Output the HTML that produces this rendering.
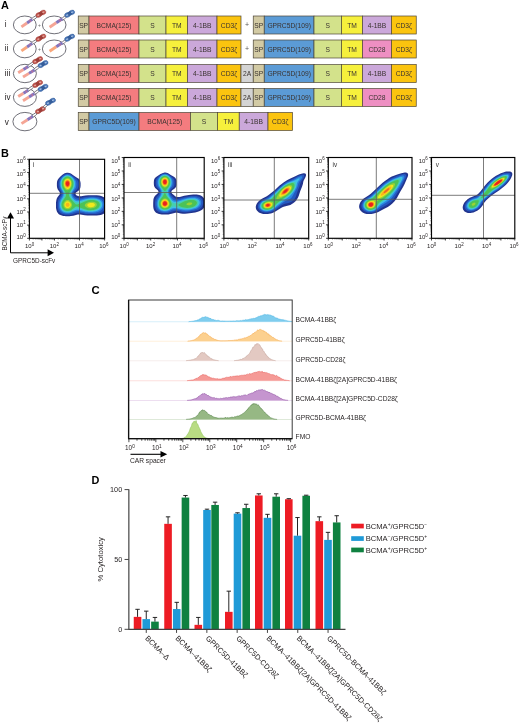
<!DOCTYPE html>
<html lang="en"><head><meta charset="utf-8"><title>Figure</title>
<style>
html,body{margin:0;padding:0;background:#fff;}
body{width:520px;height:725px;overflow:hidden;}
svg{display:block;font-family:'Liberation Sans', Arial, sans-serif;}
</style></head><body>
<svg width="520" height="725" viewBox="0 0 520 725">
<rect width="520" height="725" fill="#fff"/>
<g id="secA">
<text x="1.1" y="8.6" font-size="10.9" font-weight="bold" fill="#000">A</text>
<text x="4.8" y="27.4" font-size="8.2" fill="#231f20">i</text>
<text x="4.8" y="51.4" font-size="8.2" fill="#231f20">ii</text>
<text x="4.8" y="76.2" font-size="8.2" fill="#231f20">iii</text>
<text x="4.8" y="100.2" font-size="8.2" fill="#231f20">iv</text>
<text x="4.8" y="124.6" font-size="8.2" fill="#231f20">v</text>
<rect x="78.25" y="16" width="10.75" height="18" fill="#d2caa4" stroke="#4d4638" stroke-width="0.7"/>
<text x="83.62" y="27.7" font-size="6.7" text-anchor="middle" fill="#3a3330">SP</text>
<rect x="89" y="16" width="50" height="18" fill="#f47c7f" stroke="#4d4638" stroke-width="0.7"/>
<text x="114" y="27.7" font-size="6.7" text-anchor="middle" fill="#3a3330">BCMA(125)</text>
<rect x="139" y="16" width="27" height="18" fill="#d3e28b" stroke="#4d4638" stroke-width="0.7"/>
<text x="152.5" y="27.7" font-size="6.7" text-anchor="middle" fill="#3a3330">S</text>
<rect x="166" y="16" width="21.5" height="18" fill="#f6f03c" stroke="#4d4638" stroke-width="0.7"/>
<text x="176.75" y="27.7" font-size="6.7" text-anchor="middle" fill="#3a3330">TM</text>
<rect x="187.5" y="16" width="29.5" height="18" fill="#cba8da" stroke="#4d4638" stroke-width="0.7"/>
<text x="202.25" y="27.7" font-size="6.7" text-anchor="middle" fill="#3a3330">4-1BB</text>
<rect x="217" y="16" width="24" height="18" fill="#fbc40f" stroke="#4d4638" stroke-width="0.7"/>
<text x="229" y="27.7" font-size="6.7" text-anchor="middle" fill="#3a3330">CD3ζ</text>
<text x="247.12" y="27" font-size="7" text-anchor="middle" fill="#555">+</text>
<rect x="253.25" y="16" width="11" height="18" fill="#d2caa4" stroke="#4d4638" stroke-width="0.7"/>
<text x="258.75" y="27.7" font-size="6.7" text-anchor="middle" fill="#3a3330">SP</text>
<rect x="264.25" y="16" width="49.75" height="18" fill="#5b9bd6" stroke="#4d4638" stroke-width="0.7"/>
<text x="289.12" y="27.7" font-size="6.7" text-anchor="middle" fill="#3a3330">GPRC5D(109)</text>
<rect x="314" y="16" width="27.5" height="18" fill="#d3e28b" stroke="#4d4638" stroke-width="0.7"/>
<text x="327.75" y="27.7" font-size="6.7" text-anchor="middle" fill="#3a3330">S</text>
<rect x="341.5" y="16" width="21" height="18" fill="#f6f03c" stroke="#4d4638" stroke-width="0.7"/>
<text x="352" y="27.7" font-size="6.7" text-anchor="middle" fill="#3a3330">TM</text>
<rect x="362.5" y="16" width="29" height="18" fill="#cba8da" stroke="#4d4638" stroke-width="0.7"/>
<text x="377" y="27.7" font-size="6.7" text-anchor="middle" fill="#3a3330">4-1BB</text>
<rect x="391.5" y="16" width="24.75" height="18" fill="#fbc40f" stroke="#4d4638" stroke-width="0.7"/>
<text x="403.88" y="27.7" font-size="6.7" text-anchor="middle" fill="#3a3330">CD3ζ</text>
<rect x="78.25" y="40" width="10.75" height="18" fill="#d2caa4" stroke="#4d4638" stroke-width="0.7"/>
<text x="83.62" y="51.7" font-size="6.7" text-anchor="middle" fill="#3a3330">SP</text>
<rect x="89" y="40" width="50" height="18" fill="#f47c7f" stroke="#4d4638" stroke-width="0.7"/>
<text x="114" y="51.7" font-size="6.7" text-anchor="middle" fill="#3a3330">BCMA(125)</text>
<rect x="139" y="40" width="27" height="18" fill="#d3e28b" stroke="#4d4638" stroke-width="0.7"/>
<text x="152.5" y="51.7" font-size="6.7" text-anchor="middle" fill="#3a3330">S</text>
<rect x="166" y="40" width="21.5" height="18" fill="#f6f03c" stroke="#4d4638" stroke-width="0.7"/>
<text x="176.75" y="51.7" font-size="6.7" text-anchor="middle" fill="#3a3330">TM</text>
<rect x="187.5" y="40" width="29.5" height="18" fill="#cba8da" stroke="#4d4638" stroke-width="0.7"/>
<text x="202.25" y="51.7" font-size="6.7" text-anchor="middle" fill="#3a3330">4-1BB</text>
<rect x="217" y="40" width="24" height="18" fill="#fbc40f" stroke="#4d4638" stroke-width="0.7"/>
<text x="229" y="51.7" font-size="6.7" text-anchor="middle" fill="#3a3330">CD3ζ</text>
<text x="247.12" y="51" font-size="7" text-anchor="middle" fill="#555">+</text>
<rect x="253.25" y="40" width="11" height="18" fill="#d2caa4" stroke="#4d4638" stroke-width="0.7"/>
<text x="258.75" y="51.7" font-size="6.7" text-anchor="middle" fill="#3a3330">SP</text>
<rect x="264.25" y="40" width="49.75" height="18" fill="#5b9bd6" stroke="#4d4638" stroke-width="0.7"/>
<text x="289.12" y="51.7" font-size="6.7" text-anchor="middle" fill="#3a3330">GPRC5D(109)</text>
<rect x="314" y="40" width="27.5" height="18" fill="#d3e28b" stroke="#4d4638" stroke-width="0.7"/>
<text x="327.75" y="51.7" font-size="6.7" text-anchor="middle" fill="#3a3330">S</text>
<rect x="341.5" y="40" width="21" height="18" fill="#f6f03c" stroke="#4d4638" stroke-width="0.7"/>
<text x="352" y="51.7" font-size="6.7" text-anchor="middle" fill="#3a3330">TM</text>
<rect x="362.5" y="40" width="29" height="18" fill="#ee8fc2" stroke="#4d4638" stroke-width="0.7"/>
<text x="377" y="51.7" font-size="6.7" text-anchor="middle" fill="#3a3330">CD28</text>
<rect x="391.5" y="40" width="24.75" height="18" fill="#fbc40f" stroke="#4d4638" stroke-width="0.7"/>
<text x="403.88" y="51.7" font-size="6.7" text-anchor="middle" fill="#3a3330">CD3ζ</text>
<rect x="78.25" y="64.5" width="10.75" height="18" fill="#d2caa4" stroke="#4d4638" stroke-width="0.7"/>
<text x="83.62" y="76.2" font-size="6.7" text-anchor="middle" fill="#3a3330">SP</text>
<rect x="89" y="64.5" width="50" height="18" fill="#f47c7f" stroke="#4d4638" stroke-width="0.7"/>
<text x="114" y="76.2" font-size="6.7" text-anchor="middle" fill="#3a3330">BCMA(125)</text>
<rect x="139" y="64.5" width="27" height="18" fill="#d3e28b" stroke="#4d4638" stroke-width="0.7"/>
<text x="152.5" y="76.2" font-size="6.7" text-anchor="middle" fill="#3a3330">S</text>
<rect x="166" y="64.5" width="21.5" height="18" fill="#f6f03c" stroke="#4d4638" stroke-width="0.7"/>
<text x="176.75" y="76.2" font-size="6.7" text-anchor="middle" fill="#3a3330">TM</text>
<rect x="187.5" y="64.5" width="29.5" height="18" fill="#cba8da" stroke="#4d4638" stroke-width="0.7"/>
<text x="202.25" y="76.2" font-size="6.7" text-anchor="middle" fill="#3a3330">4-1BB</text>
<rect x="217" y="64.5" width="24" height="18" fill="#fbc40f" stroke="#4d4638" stroke-width="0.7"/>
<text x="229" y="76.2" font-size="6.7" text-anchor="middle" fill="#3a3330">CD3ζ</text>
<rect x="241" y="64.5" width="12.25" height="18" fill="#d4d4d4" stroke="#4d4638" stroke-width="0.7"/>
<text x="247.12" y="76.2" font-size="6.7" text-anchor="middle" fill="#3a3330">2A</text>
<rect x="253.25" y="64.5" width="11" height="18" fill="#d2caa4" stroke="#4d4638" stroke-width="0.7"/>
<text x="258.75" y="76.2" font-size="6.7" text-anchor="middle" fill="#3a3330">SP</text>
<rect x="264.25" y="64.5" width="49.75" height="18" fill="#5b9bd6" stroke="#4d4638" stroke-width="0.7"/>
<text x="289.12" y="76.2" font-size="6.7" text-anchor="middle" fill="#3a3330">GPRC5D(109)</text>
<rect x="314" y="64.5" width="27.5" height="18" fill="#d3e28b" stroke="#4d4638" stroke-width="0.7"/>
<text x="327.75" y="76.2" font-size="6.7" text-anchor="middle" fill="#3a3330">S</text>
<rect x="341.5" y="64.5" width="21" height="18" fill="#f6f03c" stroke="#4d4638" stroke-width="0.7"/>
<text x="352" y="76.2" font-size="6.7" text-anchor="middle" fill="#3a3330">TM</text>
<rect x="362.5" y="64.5" width="29" height="18" fill="#cba8da" stroke="#4d4638" stroke-width="0.7"/>
<text x="377" y="76.2" font-size="6.7" text-anchor="middle" fill="#3a3330">4-1BB</text>
<rect x="391.5" y="64.5" width="24.75" height="18" fill="#fbc40f" stroke="#4d4638" stroke-width="0.7"/>
<text x="403.88" y="76.2" font-size="6.7" text-anchor="middle" fill="#3a3330">CD3ζ</text>
<rect x="78.25" y="88.5" width="10.75" height="18" fill="#d2caa4" stroke="#4d4638" stroke-width="0.7"/>
<text x="83.62" y="100.2" font-size="6.7" text-anchor="middle" fill="#3a3330">SP</text>
<rect x="89" y="88.5" width="50" height="18" fill="#f47c7f" stroke="#4d4638" stroke-width="0.7"/>
<text x="114" y="100.2" font-size="6.7" text-anchor="middle" fill="#3a3330">BCMA(125)</text>
<rect x="139" y="88.5" width="27" height="18" fill="#d3e28b" stroke="#4d4638" stroke-width="0.7"/>
<text x="152.5" y="100.2" font-size="6.7" text-anchor="middle" fill="#3a3330">S</text>
<rect x="166" y="88.5" width="21.5" height="18" fill="#f6f03c" stroke="#4d4638" stroke-width="0.7"/>
<text x="176.75" y="100.2" font-size="6.7" text-anchor="middle" fill="#3a3330">TM</text>
<rect x="187.5" y="88.5" width="29.5" height="18" fill="#cba8da" stroke="#4d4638" stroke-width="0.7"/>
<text x="202.25" y="100.2" font-size="6.7" text-anchor="middle" fill="#3a3330">4-1BB</text>
<rect x="217" y="88.5" width="24" height="18" fill="#fbc40f" stroke="#4d4638" stroke-width="0.7"/>
<text x="229" y="100.2" font-size="6.7" text-anchor="middle" fill="#3a3330">CD3ζ</text>
<rect x="241" y="88.5" width="12.25" height="18" fill="#d4d4d4" stroke="#4d4638" stroke-width="0.7"/>
<text x="247.12" y="100.2" font-size="6.7" text-anchor="middle" fill="#3a3330">2A</text>
<rect x="253.25" y="88.5" width="11" height="18" fill="#d2caa4" stroke="#4d4638" stroke-width="0.7"/>
<text x="258.75" y="100.2" font-size="6.7" text-anchor="middle" fill="#3a3330">SP</text>
<rect x="264.25" y="88.5" width="49.75" height="18" fill="#5b9bd6" stroke="#4d4638" stroke-width="0.7"/>
<text x="289.12" y="100.2" font-size="6.7" text-anchor="middle" fill="#3a3330">GPRC5D(109)</text>
<rect x="314" y="88.5" width="27.5" height="18" fill="#d3e28b" stroke="#4d4638" stroke-width="0.7"/>
<text x="327.75" y="100.2" font-size="6.7" text-anchor="middle" fill="#3a3330">S</text>
<rect x="341.5" y="88.5" width="21" height="18" fill="#f6f03c" stroke="#4d4638" stroke-width="0.7"/>
<text x="352" y="100.2" font-size="6.7" text-anchor="middle" fill="#3a3330">TM</text>
<rect x="362.5" y="88.5" width="29" height="18" fill="#ee8fc2" stroke="#4d4638" stroke-width="0.7"/>
<text x="377" y="100.2" font-size="6.7" text-anchor="middle" fill="#3a3330">CD28</text>
<rect x="391.5" y="88.5" width="24.75" height="18" fill="#fbc40f" stroke="#4d4638" stroke-width="0.7"/>
<text x="403.88" y="100.2" font-size="6.7" text-anchor="middle" fill="#3a3330">CD3ζ</text>
<rect x="78.25" y="112.5" width="10.75" height="18" fill="#d2caa4" stroke="#4d4638" stroke-width="0.7"/>
<text x="83.62" y="124.2" font-size="6.7" text-anchor="middle" fill="#3a3330">SP</text>
<rect x="89" y="112.5" width="50" height="18" fill="#5b9bd6" stroke="#4d4638" stroke-width="0.7"/>
<text x="114" y="124.2" font-size="6.7" text-anchor="middle" fill="#3a3330">GPRC5D(109)</text>
<rect x="139" y="112.5" width="51.5" height="18" fill="#f47c7f" stroke="#4d4638" stroke-width="0.7"/>
<text x="164.75" y="124.2" font-size="6.7" text-anchor="middle" fill="#3a3330">BCMA(125)</text>
<rect x="190.5" y="112.5" width="27" height="18" fill="#d3e28b" stroke="#4d4638" stroke-width="0.7"/>
<text x="204" y="124.2" font-size="6.7" text-anchor="middle" fill="#3a3330">S</text>
<rect x="217.5" y="112.5" width="21.75" height="18" fill="#f6f03c" stroke="#4d4638" stroke-width="0.7"/>
<text x="228.38" y="124.2" font-size="6.7" text-anchor="middle" fill="#3a3330">TM</text>
<rect x="239.25" y="112.5" width="28.75" height="18" fill="#cba8da" stroke="#4d4638" stroke-width="0.7"/>
<text x="253.62" y="124.2" font-size="6.7" text-anchor="middle" fill="#3a3330">4-1BB</text>
<rect x="268" y="112.5" width="24.5" height="18" fill="#fbc40f" stroke="#4d4638" stroke-width="0.7"/>
<text x="280.25" y="124.2" font-size="6.7" text-anchor="middle" fill="#3a3330">CD3ζ</text>
<ellipse cx="24.8" cy="24.9" rx="11.4" ry="8.9" fill="none" stroke="#4b4b55" stroke-width="0.8"/>
<ellipse cx="54.2" cy="24.9" rx="11.8" ry="8.9" fill="none" stroke="#4b4b55" stroke-width="0.8"/>
<ellipse cx="34.25" cy="18" rx="3.94" ry="1.15" transform="rotate(-34.64 34.25 18)" fill="#fff" stroke="#55505c" stroke-width="0.7"/>
<line x1="21.4" y1="26.9" x2="27.02" y2="23" stroke="#f5a595" stroke-width="2.9"/>
<line x1="27.02" y1="23" x2="32.2" y2="19.4" stroke="#9274ba" stroke-width="2.9"/>
<line x1="28.1" y1="22.25" x2="28.64" y2="21.88" stroke="#5b7fc4" stroke-width="2.9" opacity="0.7"/>
<line x1="29.82" y1="21.05" x2="30.36" y2="20.67" stroke="#d9707a" stroke-width="2.9" opacity="0.7"/>
<line x1="31.12" y1="20.15" x2="31.66" y2="19.77" stroke="#5b7fc4" stroke-width="2.9" opacity="0.7"/>
<g transform="translate(40.8,13.7) rotate(-20)" stroke="#9e3d38" stroke-width="0.45"><ellipse cx="-2.4" cy="0.45" rx="2.9" ry="2.3" fill="#c2564e"/><ellipse cx="2.4" cy="-0.4" rx="3.0" ry="2.25" fill="#c2564e"/><ellipse cx="0" cy="0" rx="2.4" ry="2.0" fill="#9e3d38" stroke="none"/><ellipse cx="-2.7" cy="0.5" rx="1.25" ry="0.7" fill="#e6a8a1" stroke="none"/><ellipse cx="3.0" cy="-0.5" rx="1.25" ry="0.7" fill="#e6a8a1" stroke="none"/></g>
<ellipse cx="63.75" cy="18.1" rx="3.48" ry="1.15" transform="rotate(-38.66 63.75 18.1)" fill="#fff" stroke="#55505c" stroke-width="0.7"/>
<line x1="49.6" y1="27.2" x2="56.26" y2="22.78" stroke="#f5a595" stroke-width="2.9"/>
<line x1="56.26" y1="22.78" x2="62.4" y2="18.7" stroke="#9274ba" stroke-width="2.9"/>
<line x1="57.54" y1="21.93" x2="58.18" y2="21.5" stroke="#5b7fc4" stroke-width="2.9" opacity="0.7"/>
<line x1="59.58" y1="20.57" x2="60.22" y2="20.14" stroke="#d9707a" stroke-width="2.9" opacity="0.7"/>
<line x1="61.12" y1="19.55" x2="61.76" y2="19.12" stroke="#5b7fc4" stroke-width="2.9" opacity="0.7"/>
<g transform="translate(69.6,13.7) rotate(-20)" stroke="#355d9a" stroke-width="0.45"><ellipse cx="-2.4" cy="0.45" rx="2.9" ry="2.3" fill="#4976b8"/><ellipse cx="2.4" cy="-0.4" rx="3.0" ry="2.25" fill="#4976b8"/><ellipse cx="0" cy="0" rx="2.4" ry="2.0" fill="#355d9a" stroke="none"/><ellipse cx="-2.7" cy="0.5" rx="1.25" ry="0.7" fill="#a6bfe3" stroke="none"/><ellipse cx="3.0" cy="-0.5" rx="1.25" ry="0.7" fill="#a6bfe3" stroke="none"/></g>
<text x="39.4" y="27.1" font-size="5" text-anchor="middle" fill="#666">+</text>
<ellipse cx="24.8" cy="48.9" rx="11.4" ry="8.9" fill="none" stroke="#4b4b55" stroke-width="0.8"/>
<ellipse cx="54.2" cy="48.9" rx="11.8" ry="8.9" fill="none" stroke="#4b4b55" stroke-width="0.8"/>
<ellipse cx="34.25" cy="42" rx="3.94" ry="1.15" transform="rotate(-34.64 34.25 42)" fill="#fff" stroke="#55505c" stroke-width="0.7"/>
<line x1="21.4" y1="50.9" x2="27.02" y2="47" stroke="#f8a77c" stroke-width="2.9"/>
<line x1="27.02" y1="47" x2="32.2" y2="43.4" stroke="#9274ba" stroke-width="2.9"/>
<line x1="28.1" y1="46.25" x2="28.64" y2="45.88" stroke="#5b7fc4" stroke-width="2.9" opacity="0.7"/>
<line x1="29.82" y1="45.05" x2="30.36" y2="44.67" stroke="#d9707a" stroke-width="2.9" opacity="0.7"/>
<line x1="31.12" y1="44.15" x2="31.66" y2="43.77" stroke="#5b7fc4" stroke-width="2.9" opacity="0.7"/>
<g transform="translate(40.8,37.7) rotate(-20)" stroke="#9e3d38" stroke-width="0.45"><ellipse cx="-2.4" cy="0.45" rx="2.9" ry="2.3" fill="#c2564e"/><ellipse cx="2.4" cy="-0.4" rx="3.0" ry="2.25" fill="#c2564e"/><ellipse cx="0" cy="0" rx="2.4" ry="2.0" fill="#9e3d38" stroke="none"/><ellipse cx="-2.7" cy="0.5" rx="1.25" ry="0.7" fill="#e6a8a1" stroke="none"/><ellipse cx="3.0" cy="-0.5" rx="1.25" ry="0.7" fill="#e6a8a1" stroke="none"/></g>
<ellipse cx="63.75" cy="42.1" rx="3.48" ry="1.15" transform="rotate(-38.66 63.75 42.1)" fill="#fff" stroke="#55505c" stroke-width="0.7"/>
<line x1="49.6" y1="51.2" x2="56.26" y2="46.78" stroke="#f8a77c" stroke-width="2.9"/>
<line x1="56.26" y1="46.78" x2="62.4" y2="42.7" stroke="#9274ba" stroke-width="2.9"/>
<line x1="57.54" y1="45.93" x2="58.18" y2="45.5" stroke="#5b7fc4" stroke-width="2.9" opacity="0.7"/>
<line x1="59.58" y1="44.57" x2="60.22" y2="44.14" stroke="#d9707a" stroke-width="2.9" opacity="0.7"/>
<line x1="61.12" y1="43.55" x2="61.76" y2="43.12" stroke="#5b7fc4" stroke-width="2.9" opacity="0.7"/>
<g transform="translate(69.6,37.7) rotate(-20)" stroke="#355d9a" stroke-width="0.45"><ellipse cx="-2.4" cy="0.45" rx="2.9" ry="2.3" fill="#4976b8"/><ellipse cx="2.4" cy="-0.4" rx="3.0" ry="2.25" fill="#4976b8"/><ellipse cx="0" cy="0" rx="2.4" ry="2.0" fill="#355d9a" stroke="none"/><ellipse cx="-2.7" cy="0.5" rx="1.25" ry="0.7" fill="#a6bfe3" stroke="none"/><ellipse cx="3.0" cy="-0.5" rx="1.25" ry="0.7" fill="#a6bfe3" stroke="none"/></g>
<text x="39.4" y="51.1" font-size="5" text-anchor="middle" fill="#666">+</text>
<ellipse cx="24.9" cy="73.5" rx="11.5" ry="9.2" fill="none" stroke="#4b4b55" stroke-width="0.8"/>
<ellipse cx="30.65" cy="64.65" rx="4.17" ry="1.15" transform="rotate(-37.03 30.65 64.65)" fill="#fff" stroke="#55505c" stroke-width="0.7"/>
<ellipse cx="36.6" cy="68.25" rx="3.85" ry="1.15" transform="rotate(-36.87 36.6 68.25)" fill="#fff" stroke="#55505c" stroke-width="0.7"/>
<line x1="18.2" y1="72.75" x2="23.45" y2="69.5" stroke="#f5a595" stroke-width="2.9"/>
<line x1="23.45" y1="69.5" x2="28.3" y2="66.5" stroke="#9274ba" stroke-width="2.9"/>
<line x1="24.46" y1="68.88" x2="24.97" y2="68.56" stroke="#5b7fc4" stroke-width="2.9" opacity="0.7"/>
<line x1="26.08" y1="67.88" x2="26.58" y2="67.56" stroke="#d9707a" stroke-width="2.9" opacity="0.7"/>
<line x1="27.29" y1="67.12" x2="27.8" y2="66.81" stroke="#5b7fc4" stroke-width="2.9" opacity="0.7"/>
<line x1="23" y1="77.1" x2="28.98" y2="73.36" stroke="#f5a595" stroke-width="2.9"/>
<line x1="28.98" y1="73.36" x2="34.5" y2="69.9" stroke="#9274ba" stroke-width="2.9"/>
<line x1="30.13" y1="72.64" x2="30.7" y2="72.28" stroke="#5b7fc4" stroke-width="2.9" opacity="0.7"/>
<line x1="31.97" y1="71.48" x2="32.55" y2="71.12" stroke="#d9707a" stroke-width="2.9" opacity="0.7"/>
<line x1="33.35" y1="70.62" x2="33.92" y2="70.26" stroke="#5b7fc4" stroke-width="2.9" opacity="0.7"/>
<g transform="translate(37.6,60.2) rotate(-20)" stroke="#9e3d38" stroke-width="0.45"><ellipse cx="-2.4" cy="0.45" rx="2.9" ry="2.3" fill="#c2564e"/><ellipse cx="2.4" cy="-0.4" rx="3.0" ry="2.25" fill="#c2564e"/><ellipse cx="0" cy="0" rx="2.4" ry="2.0" fill="#9e3d38" stroke="none"/><ellipse cx="-2.7" cy="0.5" rx="1.25" ry="0.7" fill="#e6a8a1" stroke="none"/><ellipse cx="3.0" cy="-0.5" rx="1.25" ry="0.7" fill="#e6a8a1" stroke="none"/></g>
<g transform="translate(43,64.1) rotate(-20)" stroke="#355d9a" stroke-width="0.45"><ellipse cx="-2.4" cy="0.45" rx="2.9" ry="2.3" fill="#4976b8"/><ellipse cx="2.4" cy="-0.4" rx="3.0" ry="2.25" fill="#4976b8"/><ellipse cx="0" cy="0" rx="2.4" ry="2.0" fill="#355d9a" stroke="none"/><ellipse cx="-2.7" cy="0.5" rx="1.25" ry="0.7" fill="#a6bfe3" stroke="none"/><ellipse cx="3.0" cy="-0.5" rx="1.25" ry="0.7" fill="#a6bfe3" stroke="none"/></g>
<ellipse cx="24.9" cy="97.2" rx="11.5" ry="9.2" fill="none" stroke="#4b4b55" stroke-width="0.8"/>
<ellipse cx="30.65" cy="88.35" rx="4.17" ry="1.15" transform="rotate(-37.03 30.65 88.35)" fill="#fff" stroke="#55505c" stroke-width="0.7"/>
<ellipse cx="36.6" cy="91.95" rx="3.85" ry="1.15" transform="rotate(-36.87 36.6 91.95)" fill="#fff" stroke="#55505c" stroke-width="0.7"/>
<line x1="18.2" y1="96.45" x2="23.45" y2="93.2" stroke="#f5a595" stroke-width="2.9"/>
<line x1="23.45" y1="93.2" x2="28.3" y2="90.2" stroke="#9274ba" stroke-width="2.9"/>
<line x1="24.46" y1="92.58" x2="24.97" y2="92.26" stroke="#5b7fc4" stroke-width="2.9" opacity="0.7"/>
<line x1="26.08" y1="91.58" x2="26.58" y2="91.26" stroke="#d9707a" stroke-width="2.9" opacity="0.7"/>
<line x1="27.29" y1="90.83" x2="27.8" y2="90.51" stroke="#5b7fc4" stroke-width="2.9" opacity="0.7"/>
<line x1="23" y1="100.8" x2="28.98" y2="97.06" stroke="#f5a595" stroke-width="2.9"/>
<line x1="28.98" y1="97.06" x2="34.5" y2="93.6" stroke="#9274ba" stroke-width="2.9"/>
<line x1="30.13" y1="96.34" x2="30.7" y2="95.98" stroke="#5b7fc4" stroke-width="2.9" opacity="0.7"/>
<line x1="31.97" y1="95.18" x2="32.55" y2="94.82" stroke="#d9707a" stroke-width="2.9" opacity="0.7"/>
<line x1="33.35" y1="94.32" x2="33.92" y2="93.96" stroke="#5b7fc4" stroke-width="2.9" opacity="0.7"/>
<g transform="translate(37.6,83.9) rotate(-20)" stroke="#9e3d38" stroke-width="0.45"><ellipse cx="-2.4" cy="0.45" rx="2.9" ry="2.3" fill="#c2564e"/><ellipse cx="2.4" cy="-0.4" rx="3.0" ry="2.25" fill="#c2564e"/><ellipse cx="0" cy="0" rx="2.4" ry="2.0" fill="#9e3d38" stroke="none"/><ellipse cx="-2.7" cy="0.5" rx="1.25" ry="0.7" fill="#e6a8a1" stroke="none"/><ellipse cx="3.0" cy="-0.5" rx="1.25" ry="0.7" fill="#e6a8a1" stroke="none"/></g>
<g transform="translate(43,87.8) rotate(-20)" stroke="#355d9a" stroke-width="0.45"><ellipse cx="-2.4" cy="0.45" rx="2.9" ry="2.3" fill="#4976b8"/><ellipse cx="2.4" cy="-0.4" rx="3.0" ry="2.25" fill="#4976b8"/><ellipse cx="0" cy="0" rx="2.4" ry="2.0" fill="#355d9a" stroke="none"/><ellipse cx="-2.7" cy="0.5" rx="1.25" ry="0.7" fill="#a6bfe3" stroke="none"/><ellipse cx="3.0" cy="-0.5" rx="1.25" ry="0.7" fill="#a6bfe3" stroke="none"/></g>
<ellipse cx="24.9" cy="121.6" rx="12" ry="9.2" fill="none" stroke="#4b4b55" stroke-width="0.8"/>
<ellipse cx="34.5" cy="114.85" rx="3.13" ry="1.15" transform="rotate(-37.78 34.5 114.85)" fill="#fff" stroke="#55505c" stroke-width="0.7"/>
<line x1="21.5" y1="123.6" x2="27.48" y2="119.75" stroke="#f5a595" stroke-width="2.9"/>
<line x1="27.48" y1="119.75" x2="33" y2="116.2" stroke="#9274ba" stroke-width="2.9"/>
<line x1="28.63" y1="119.01" x2="29.2" y2="118.64" stroke="#5b7fc4" stroke-width="2.9" opacity="0.7"/>
<line x1="30.47" y1="117.83" x2="31.05" y2="117.46" stroke="#d9707a" stroke-width="2.9" opacity="0.7"/>
<line x1="31.85" y1="116.94" x2="32.42" y2="116.57" stroke="#5b7fc4" stroke-width="2.9" opacity="0.7"/>
<g transform="translate(40.4,110.1) rotate(-20)" stroke="#9e3d38" stroke-width="0.45"><ellipse cx="-2.4" cy="0.45" rx="2.9" ry="2.3" fill="#c2564e"/><ellipse cx="2.4" cy="-0.4" rx="3.0" ry="2.25" fill="#c2564e"/><ellipse cx="0" cy="0" rx="2.4" ry="2.0" fill="#9e3d38" stroke="none"/><ellipse cx="-2.7" cy="0.5" rx="1.25" ry="0.7" fill="#e6a8a1" stroke="none"/><ellipse cx="3.0" cy="-0.5" rx="1.25" ry="0.7" fill="#e6a8a1" stroke="none"/></g>
<ellipse cx="45.5" cy="105.9" rx="2.3" ry="1.15" transform="rotate(-40.24 45.5 105.9)" fill="#fff" stroke="#55505c" stroke-width="0.7"/>
<g transform="translate(50.5,101.7) rotate(-20)" stroke="#355d9a" stroke-width="0.45"><ellipse cx="-2.4" cy="0.45" rx="2.9" ry="2.3" fill="#4976b8"/><ellipse cx="2.4" cy="-0.4" rx="3.0" ry="2.25" fill="#4976b8"/><ellipse cx="0" cy="0" rx="2.4" ry="2.0" fill="#355d9a" stroke="none"/><ellipse cx="-2.7" cy="0.5" rx="1.25" ry="0.7" fill="#a6bfe3" stroke="none"/><ellipse cx="3.0" cy="-0.5" rx="1.25" ry="0.7" fill="#a6bfe3" stroke="none"/></g>
</g>
<g id="secB">
<text x="1.1" y="157" font-size="10.9" font-weight="bold" fill="#000">B</text>
<clipPath id="cp0"><rect x="29.4" y="159.3" width="75.2" height="79"/></clipPath>
<g clip-path="url(#cp0)">
<path d="M70.9,216.1 L69.4,216.2 L67.9,216.2 L65.9,216.2 L64.4,216.1 L63.1,215.9 L61.9,215.6 L60.9,215.3 L59.9,214.8 L59.1,214.4 L58.4,213.7 L57.8,213.1 L57.3,212.3 L56.8,211.3 L56.5,210.3 L56.2,209.1 L56.0,207.8 L56.0,205.6 L56.0,202.8 L56.2,201.1 L56.5,199.6 L56.8,198.6 L57.3,197.6 L58.0,196.6 L59.4,194.8 L59.8,194.1 L59.9,193.6 L59.9,193.1 L59.7,192.3 L59.4,191.8 L57.8,189.6 L57.4,188.6 L57.1,187.6 L56.9,186.1 L56.9,183.6 L57.0,182.1 L57.3,180.8 L57.9,179.6 L58.8,178.3 L60.2,176.8 L62.4,174.8 L63.6,173.9 L64.7,173.3 L65.7,172.9 L66.9,172.7 L67.9,172.7 L69.2,172.9 L70.2,173.2 L71.2,173.8 L72.2,174.4 L74.7,176.3 L77.4,177.9 L78.4,178.5 L79.0,179.1 L79.4,179.5 L80.0,180.6 L80.3,181.6 L80.6,183.1 L80.6,185.8 L80.5,186.8 L80.4,187.6 L80.0,188.8 L79.5,189.6 L79.1,190.1 L78.2,191.0 L76.3,192.3 L75.9,192.7 L75.6,193.1 L75.5,193.6 L75.5,193.8 L75.6,194.3 L75.9,194.8 L76.7,195.4 L77.3,195.8 L78.2,196.1 L78.9,196.2 L79.9,196.3 L81.2,196.2 L85.4,195.5 L88.2,195.3 L92.9,195.2 L96.7,195.3 L99.2,195.6 L101.2,196.1 L102.9,196.7 L104.4,197.5 L104.5,199.8 L104.6,203.3 L104.5,208.8 L104.5,212.3 L104.4,213.3 L103.7,213.8 L102.2,214.5 L100.7,214.9 L98.9,215.2 L96.7,215.5 L92.2,215.6 L89.4,215.6 L87.4,215.6 L84.7,215.3 L80.2,214.6 L78.7,214.5 L77.8,214.6 L76.9,214.7 L73.2,215.7 L70.9,216.1Z " fill="#22358f"/>
<path d="M67.9,214.8 L66.7,214.8 L65.4,214.7 L64.2,214.5 L63.1,214.3 L62.1,213.9 L61.4,213.6 L60.6,213.1 L59.9,212.6 L59.4,212.0 L58.9,211.3 L58.5,210.6 L58.2,209.8 L57.9,208.8 L57.7,207.8 L57.6,206.6 L57.6,205.3 L57.6,203.8 L57.7,202.3 L57.9,201.1 L58.2,200.1 L58.5,199.3 L59.1,198.3 L60.6,196.1 L61.1,195.3 L61.4,194.6 L61.5,193.8 L61.4,192.8 L61.2,192.1 L59.4,189.1 L59.1,188.3 L58.8,187.3 L58.6,185.8 L58.5,183.8 L58.6,182.3 L58.8,181.1 L59.1,180.3 L59.5,179.6 L60.3,178.3 L61.6,176.8 L62.9,175.6 L64.2,174.7 L65.2,174.2 L66.2,173.9 L67.4,173.7 L68.7,173.8 L69.7,174.1 L70.7,174.6 L71.7,175.2 L76.1,178.8 L76.9,179.6 L77.7,180.6 L78.2,181.6 L78.4,182.3 L78.5,183.1 L78.5,185.1 L78.4,186.6 L78.1,187.8 L77.8,188.6 L77.2,189.3 L76.4,190.1 L74.9,191.3 L74.4,191.8 L73.9,192.6 L73.6,193.3 L73.6,193.8 L73.6,194.3 L73.9,195.2 L74.4,196.0 L75.2,196.8 L75.9,197.3 L76.9,197.8 L77.9,198.1 L78.9,198.2 L79.7,198.2 L80.7,198.0 L84.4,197.2 L85.9,196.9 L87.7,196.7 L89.4,196.6 L91.9,196.5 L94.4,196.5 L96.4,196.7 L98.4,197.0 L99.9,197.4 L101.4,198.0 L102.7,198.7 L103.7,199.6 L104.4,200.4 L104.5,203.1 L104.4,209.7 L103.7,210.8 L103.2,211.3 L102.6,211.8 L101.4,212.6 L99.9,213.2 L97.9,213.7 L95.7,214.0 L92.7,214.1 L89.2,214.1 L87.4,214.1 L85.7,213.9 L83.9,213.6 L80.0,212.8 L78.9,212.7 L77.9,212.7 L76.9,212.8 L76.2,213.0 L73.2,213.9 L71.4,214.4 L69.7,214.7 L67.9,214.8Z " fill="#2558c0"/>
<path d="M69.9,213.3 L68.9,213.5 L67.9,213.5 L66.7,213.5 L65.7,213.4 L64.7,213.2 L63.6,212.9 L62.9,212.6 L62.1,212.1 L61.4,211.6 L60.9,211.1 L60.5,210.6 L60.0,209.8 L59.6,208.8 L59.3,208.1 L59.1,207.1 L59.0,206.1 L59.0,204.8 L59.0,203.6 L59.2,202.3 L59.5,201.3 L59.8,200.6 L60.2,199.6 L61.6,197.3 L62.2,196.3 L62.6,195.1 L62.8,194.1 L62.7,193.1 L62.4,192.1 L61.9,191.1 L60.7,188.8 L60.3,187.8 L60.0,186.8 L59.8,185.3 L59.7,183.8 L59.8,182.6 L60.0,181.3 L60.5,180.1 L61.0,179.1 L61.9,177.8 L62.9,176.7 L63.9,175.9 L65.2,175.2 L66.2,174.8 L67.2,174.6 L68.2,174.7 L69.4,175.0 L70.4,175.4 L71.7,176.3 L73.1,177.6 L74.7,179.3 L75.6,180.6 L75.8,181.1 L76.1,181.8 L76.3,182.8 L76.4,184.1 L76.3,185.8 L76.1,187.1 L75.8,187.8 L75.4,188.6 L73.4,191.0 L72.9,191.8 L72.4,192.8 L72.3,193.8 L72.3,194.3 L72.4,195.1 L72.6,195.8 L72.8,196.3 L73.2,196.8 L73.7,197.5 L74.7,198.6 L75.4,199.1 L76.4,199.6 L77.4,199.8 L78.7,199.9 L79.7,199.8 L80.9,199.6 L84.4,198.6 L86.4,198.2 L89.2,197.8 L91.2,197.6 L93.2,197.6 L94.9,197.8 L96.7,198.0 L98.2,198.4 L99.7,198.9 L100.7,199.4 L101.7,200.1 L102.4,200.9 L103.0,201.8 L103.4,202.8 L103.7,204.1 L103.6,205.3 L103.3,206.8 L102.8,208.1 L102.2,209.1 L101.3,210.1 L100.3,210.8 L99.2,211.4 L97.7,212.0 L95.7,212.4 L93.7,212.7 L91.2,212.8 L88.9,212.8 L87.2,212.6 L85.4,212.4 L80.9,211.4 L79.7,211.2 L78.4,211.0 L77.4,211.0 L76.4,211.2 L75.4,211.4 L71.9,212.8 L70.9,213.1 L69.9,213.3Z " fill="#2c86e0"/>
<path d="M68.4,212.6 L67.7,212.6 L66.7,212.6 L65.2,212.3 L64.4,212.0 L63.6,211.7 L63.0,211.3 L62.4,210.9 L61.9,210.4 L61.4,209.8 L61.1,209.3 L60.7,208.6 L60.4,207.8 L60.2,207.1 L60.1,206.3 L60.0,205.3 L60.1,203.6 L60.3,202.6 L60.5,201.8 L60.8,201.1 L61.2,200.1 L62.6,197.8 L63.2,196.8 L63.6,195.6 L63.8,194.3 L63.7,193.3 L63.4,192.3 L63.0,191.3 L61.5,188.6 L61.2,187.8 L60.9,186.8 L60.7,185.6 L60.6,184.1 L60.6,182.8 L60.8,181.6 L61.2,180.3 L61.7,179.3 L62.5,178.1 L63.4,177.1 L64.4,176.3 L65.4,175.8 L66.4,175.5 L67.4,175.3 L68.4,175.4 L69.4,175.7 L70.4,176.2 L71.6,177.1 L72.6,178.1 L73.6,179.3 L74.3,180.6 L74.7,181.6 L74.9,182.6 L75.0,183.8 L74.9,185.3 L74.7,186.8 L74.3,187.8 L74.0,188.6 L72.3,191.1 L71.8,192.1 L71.4,193.1 L71.2,194.1 L71.3,194.8 L71.4,195.6 L71.6,196.3 L72.0,197.1 L72.4,197.8 L73.0,198.6 L73.7,199.3 L74.4,200.0 L75.2,200.6 L76.2,201.0 L77.2,201.2 L78.4,201.2 L79.6,201.1 L80.8,200.8 L85.7,199.3 L87.2,199.0 L88.7,198.7 L90.4,198.5 L92.2,198.5 L93.9,198.6 L95.4,198.7 L96.9,199.1 L98.2,199.5 L99.4,200.1 L100.4,200.8 L101.2,201.6 L101.8,202.6 L102.1,203.6 L102.2,204.6 L102.1,205.8 L101.8,206.8 L101.2,207.8 L100.4,208.8 L99.6,209.6 L98.4,210.3 L97.2,210.8 L95.7,211.2 L93.9,211.6 L92.2,211.7 L90.2,211.8 L88.4,211.7 L87.2,211.6 L85.7,211.4 L81.2,210.3 L79.7,209.9 L78.2,209.8 L76.9,209.7 L75.9,209.9 L74.9,210.2 L71.9,211.6 L70.7,212.1 L69.4,212.4 L68.4,212.6Z " fill="#3fc0e8"/>
<path d="M68.2,211.8 L66.7,211.8 L65.9,211.6 L65.2,211.4 L63.9,210.9 L62.9,210.1 L62.4,209.6 L62.0,209.1 L61.3,207.8 L60.9,206.6 L60.8,205.1 L60.9,203.6 L61.3,202.1 L62.0,200.6 L63.6,198.1 L64.1,197.1 L64.5,195.8 L64.7,194.6 L64.6,193.6 L64.4,192.6 L63.9,191.6 L62.2,188.6 L61.8,187.6 L61.5,186.6 L61.3,185.3 L61.2,183.8 L61.3,182.6 L61.5,181.6 L61.9,180.3 L62.4,179.3 L63.1,178.3 L63.8,177.6 L64.7,176.8 L65.4,176.4 L66.4,176.1 L67.4,175.9 L68.4,176.0 L69.4,176.3 L70.4,176.9 L71.2,177.4 L72.0,178.3 L72.8,179.3 L73.5,180.6 L73.9,181.6 L74.1,182.8 L74.1,184.1 L74.0,185.6 L73.7,186.8 L73.5,187.6 L73.0,188.6 L71.3,191.3 L70.8,192.3 L70.4,193.3 L70.3,193.8 L70.3,194.6 L70.4,195.3 L70.6,196.3 L70.9,197.1 L71.3,197.8 L71.8,198.6 L72.7,199.5 L73.7,200.6 L74.4,201.3 L75.2,201.9 L75.7,202.1 L76.2,202.3 L77.2,202.4 L78.2,202.4 L79.4,202.2 L80.9,201.8 L85.7,200.2 L87.9,199.6 L89.4,199.4 L91.2,199.2 L92.7,199.2 L94.2,199.3 L95.7,199.6 L96.9,199.9 L98.2,200.5 L99.2,201.1 L99.9,201.8 L100.5,202.6 L100.9,203.6 L101.0,204.6 L100.9,205.6 L100.6,206.6 L100.0,207.6 L99.3,208.3 L98.4,209.1 L97.2,209.7 L95.9,210.2 L94.4,210.6 L92.9,210.9 L91.2,211.0 L89.4,211.0 L87.9,210.9 L85.4,210.4 L81.2,209.2 L79.7,208.8 L77.9,208.5 L76.7,208.5 L75.7,208.6 L74.7,209.0 L71.9,210.6 L70.7,211.2 L69.4,211.6 L68.2,211.8Z " fill="#46cfae"/>
<path d="M69.2,210.8 L67.9,211.0 L67.2,211.0 L66.4,210.9 L65.2,210.6 L64.4,210.2 L63.9,209.8 L63.4,209.4 L62.9,208.9 L62.2,207.8 L61.8,206.6 L61.6,205.3 L61.6,204.6 L61.7,203.6 L62.0,202.6 L62.3,201.8 L63.0,200.6 L64.8,198.1 L65.4,197.1 L65.8,196.3 L65.9,195.8 L66.1,194.8 L66.0,193.8 L65.6,192.8 L65.0,191.8 L63.2,189.1 L62.7,188.1 L62.3,186.8 L62.0,185.6 L61.9,184.3 L61.9,183.1 L62.0,181.8 L62.3,180.8 L62.8,179.8 L63.2,179.1 L63.9,178.2 L64.7,177.6 L65.4,177.1 L66.4,176.7 L67.2,176.6 L68.2,176.6 L68.9,176.8 L69.9,177.3 L70.7,177.8 L71.4,178.5 L72.0,179.3 L72.6,180.3 L73.0,181.3 L73.3,182.6 L73.4,183.8 L73.2,185.3 L73.0,186.6 L72.5,187.8 L72.0,188.8 L70.0,191.8 L69.3,193.1 L69.0,194.1 L68.9,195.1 L69.1,195.8 L69.4,196.6 L69.7,197.3 L70.2,198.1 L73.9,202.5 L75.2,203.8 L75.7,204.2 L76.2,204.4 L76.7,204.5 L77.4,204.4 L78.4,204.1 L80.4,203.4 L84.9,201.4 L86.9,200.7 L88.2,200.3 L89.7,200.1 L90.9,200.0 L92.4,199.9 L93.9,200.1 L95.4,200.4 L96.7,200.8 L97.7,201.3 L98.6,202.1 L99.3,202.8 L99.6,203.6 L99.7,204.1 L99.8,204.6 L99.7,205.3 L99.4,206.3 L98.9,207.1 L98.2,207.9 L97.3,208.6 L96.2,209.2 L94.9,209.6 L93.7,209.9 L92.2,210.1 L90.4,210.2 L88.9,210.2 L87.2,209.9 L85.9,209.6 L84.7,209.2 L78.4,206.9 L77.2,206.5 L76.7,206.4 L75.9,206.6 L75.2,207.0 L72.6,209.1 L71.4,209.9 L70.4,210.4 L69.2,210.8Z " fill="#4cc257"/>
<path d="M68.4,190.1 L67.7,190.3 L66.9,190.2 L66.4,190.0 L65.9,189.7 L65.2,189.0 L64.5,188.1 L63.9,187.0 L63.5,185.8 L63.3,184.6 L63.2,183.3 L63.3,182.3 L63.6,181.3 L64.0,180.3 L64.7,179.5 L65.4,178.8 L66.2,178.4 L66.7,178.2 L67.2,178.1 L67.9,178.1 L68.7,178.3 L69.4,178.6 L70.2,179.3 L70.8,180.1 L71.3,180.8 L71.6,181.8 L71.8,182.8 L71.9,183.8 L71.7,185.1 L71.5,186.1 L71.1,187.1 L70.6,188.1 L69.9,188.9 L69.2,189.6 L68.4,190.1Z M68.7,209.1 L67.9,209.2 L66.9,209.1 L65.9,208.8 L65.2,208.4 L64.5,207.8 L64.0,207.1 L63.6,206.3 L63.5,205.6 L63.4,204.6 L63.5,203.8 L63.9,202.8 L64.3,202.1 L64.9,201.2 L65.7,200.6 L66.4,200.1 L67.2,199.9 L67.9,199.9 L68.7,200.1 L69.4,200.5 L70.2,201.2 L70.9,202.0 L71.4,202.8 L71.8,203.6 L72.1,204.6 L72.1,205.3 L71.9,206.1 L71.6,206.8 L71.3,207.3 L70.9,207.8 L70.2,208.4 L69.4,208.8 L68.7,209.1Z M91.9,208.3 L90.4,208.4 L88.9,208.2 L87.7,207.9 L86.4,207.3 L85.6,206.8 L85.4,206.6 L85.0,206.1 L84.8,205.6 L84.8,205.3 L84.9,205.1 L85.0,204.6 L85.7,203.8 L86.2,203.3 L86.9,202.9 L88.2,202.3 L89.7,201.9 L91.2,201.7 L92.7,201.7 L94.2,202.0 L95.3,202.6 L95.9,203.0 L96.3,203.3 L96.7,204.1 L96.8,204.6 L96.8,205.1 L96.7,205.6 L96.4,206.1 L95.8,206.8 L95.2,207.3 L94.7,207.5 L93.4,208.0 L91.9,208.3Z " fill="#9bd334"/>
<path d="M68.2,188.9 L67.4,189.0 L66.7,188.8 L65.9,188.3 L65.4,187.8 L64.9,187.1 L64.5,186.3 L64.2,185.3 L64.0,184.3 L64.0,183.3 L64.0,182.6 L64.3,181.6 L64.7,180.8 L65.2,180.1 L65.7,179.6 L66.4,179.2 L67.2,179.0 L67.9,179.0 L68.7,179.2 L69.3,179.6 L69.8,180.1 L70.2,180.6 L70.7,181.3 L70.9,182.1 L71.1,183.1 L71.1,183.8 L71.0,184.8 L70.7,185.8 L70.4,186.6 L69.9,187.5 L69.4,188.1 L68.9,188.5 L68.2,188.9Z M67.9,208.1 L67.2,208.0 L66.7,207.9 L66.2,207.7 L65.5,207.3 L65.1,206.8 L64.8,206.3 L64.6,205.8 L64.5,205.1 L64.5,204.3 L64.6,203.8 L64.9,203.2 L65.3,202.6 L65.7,202.2 L66.2,201.8 L66.7,201.5 L67.4,201.3 L68.2,201.4 L68.7,201.6 L69.2,201.9 L69.7,202.3 L70.2,202.9 L70.5,203.6 L70.7,204.1 L70.8,204.8 L70.8,205.6 L70.6,206.1 L70.3,206.6 L70.0,207.1 L69.4,207.5 L68.9,207.8 L68.4,208.0 L67.9,208.1Z M92.2,207.1 L91.2,207.2 L90.2,207.2 L89.2,207.0 L88.4,206.7 L87.9,206.3 L87.4,205.8 L87.3,205.3 L87.3,204.8 L87.5,204.6 L87.9,204.1 L88.6,203.6 L89.4,203.2 L90.2,203.0 L91.2,202.9 L92.2,202.9 L92.9,203.0 L93.7,203.3 L94.4,203.8 L94.8,204.3 L94.9,204.8 L94.8,205.3 L94.5,205.8 L93.9,206.4 L93.1,206.8 L92.2,207.1Z " fill="#f1e81d"/>
<path d="M67.9,187.8 L67.2,187.8 L66.7,187.6 L66.2,187.3 L65.7,186.8 L65.3,186.3 L65.0,185.6 L64.7,184.8 L64.6,184.1 L64.6,183.3 L64.7,182.6 L64.9,181.8 L65.3,181.1 L65.7,180.7 L66.2,180.2 L66.7,179.9 L67.4,179.8 L67.9,179.8 L68.6,180.1 L69.2,180.4 L69.5,180.8 L69.8,181.3 L70.2,182.0 L70.3,182.6 L70.4,183.3 L70.4,184.1 L70.3,184.8 L70.1,185.6 L69.7,186.3 L69.4,186.8 L68.9,187.3 L68.4,187.6 L67.9,187.8Z M67.9,206.8 L67.2,206.8 L66.7,206.6 L66.4,206.5 L66.2,206.2 L65.9,205.8 L65.7,205.1 L65.7,204.3 L65.9,203.8 L66.1,203.6 L66.4,203.2 L66.7,203.0 L67.0,202.8 L67.4,202.7 L68.2,202.8 L68.6,203.1 L68.9,203.3 L69.3,203.8 L69.5,204.6 L69.5,205.3 L69.4,205.7 L69.2,206.1 L68.7,206.6 L67.9,206.8Z " fill="#f9b21c"/>
<path d="M67.9,186.8 L67.4,186.9 L66.9,186.8 L66.5,186.6 L66.2,186.2 L65.9,185.8 L65.6,185.3 L65.4,184.8 L65.3,184.1 L65.3,183.3 L65.3,182.8 L65.5,182.3 L65.7,181.8 L66.0,181.3 L66.4,181.0 L66.9,180.7 L67.4,180.6 L68.2,180.7 L68.7,181.0 L69.0,181.3 L69.3,181.8 L69.6,182.3 L69.8,183.3 L69.8,183.8 L69.7,184.6 L69.3,185.6 L69.0,186.1 L68.7,186.4 L68.4,186.6 L67.9,186.8Z " fill="#f2641f"/>
<path d="M67.9,185.9 L67.7,186.0 L67.2,185.9 L66.7,185.6 L66.4,185.4 L66.2,185.0 L65.9,184.1 L65.8,183.6 L65.9,183.1 L66.2,182.3 L66.4,181.9 L66.7,181.7 L66.9,181.5 L67.4,181.4 L67.9,181.4 L68.2,181.5 L68.7,182.0 L69.0,182.6 L69.2,183.3 L69.1,184.1 L68.9,184.9 L68.5,185.6 L68.2,185.8 L67.9,185.9Z " fill="#e8211f"/>
</g>
<line x1="29.4" y1="193.3" x2="104.6" y2="193.3" stroke="#5a5a5a" stroke-width="0.8"/>
<line x1="79.5" y1="159.3" x2="79.5" y2="238.3" stroke="#5a5a5a" stroke-width="0.8"/>
<rect x="29.4" y="159.3" width="75.2" height="79" fill="none" stroke="#000" stroke-width="1.15"/>
<path d="M27.1,238.3H29.4 M29.4,238.3V240.5 M27.1,225.13H29.4 M41.93,238.3V240.5 M27.1,211.97H29.4 M54.47,238.3V240.5 M27.1,198.8H29.4 M67,238.3V240.5 M27.1,185.63H29.4 M79.53,238.3V240.5 M27.1,172.47H29.4 M92.07,238.3V240.5 M27.1,159.3H29.4 M104.6,238.3V240.5 " stroke="#111" stroke-width="0.8" fill="none"/>
<path d="M28.2,234.34H29.4 M33.17,238.3V239.5 M28.2,232.02H29.4 M35.38,238.3V239.5 M28.2,230.37H29.4 M36.95,238.3V239.5 M28.2,229.1H29.4 M38.16,238.3V239.5 M28.2,228.05H29.4 M39.15,238.3V239.5 M28.2,227.17H29.4 M39.99,238.3V239.5 M28.2,226.41H29.4 M40.72,238.3V239.5 M28.2,225.74H29.4 M41.36,238.3V239.5 M28.2,221.17H29.4 M45.71,238.3V239.5 M28.2,218.85H29.4 M47.91,238.3V239.5 M28.2,217.21H29.4 M49.48,238.3V239.5 M28.2,215.93H29.4 M50.69,238.3V239.5 M28.2,214.89H29.4 M51.69,238.3V239.5 M28.2,214.01H29.4 M52.53,238.3V239.5 M28.2,213.24H29.4 M53.25,238.3V239.5 M28.2,212.57H29.4 M53.89,238.3V239.5 M28.2,208H29.4 M58.24,238.3V239.5 M28.2,205.68H29.4 M60.45,238.3V239.5 M28.2,204.04H29.4 M62.01,238.3V239.5 M28.2,202.76H29.4 M63.23,238.3V239.5 M28.2,201.72H29.4 M64.22,238.3V239.5 M28.2,200.84H29.4 M65.06,238.3V239.5 M28.2,200.08H29.4 M65.79,238.3V239.5 M28.2,199.4H29.4 M66.43,238.3V239.5 M28.2,194.84H29.4 M70.77,238.3V239.5 M28.2,192.52H29.4 M72.98,238.3V239.5 M28.2,190.87H29.4 M74.55,238.3V239.5 M28.2,189.6H29.4 M75.76,238.3V239.5 M28.2,188.55H29.4 M76.75,238.3V239.5 M28.2,187.67H29.4 M77.59,238.3V239.5 M28.2,186.91H29.4 M78.32,238.3V239.5 M28.2,186.24H29.4 M78.96,238.3V239.5 M28.2,181.67H29.4 M83.31,238.3V239.5 M28.2,179.35H29.4 M85.51,238.3V239.5 M28.2,177.71H29.4 M87.08,238.3V239.5 M28.2,176.43H29.4 M88.29,238.3V239.5 M28.2,175.39H29.4 M89.29,238.3V239.5 M28.2,174.51H29.4 M90.13,238.3V239.5 M28.2,173.74H29.4 M90.85,238.3V239.5 M28.2,173.07H29.4 M91.49,238.3V239.5 M28.2,168.5H29.4 M95.84,238.3V239.5 M28.2,166.18H29.4 M98.05,238.3V239.5 M28.2,164.54H29.4 M99.61,238.3V239.5 M28.2,163.26H29.4 M100.83,238.3V239.5 M28.2,162.22H29.4 M101.82,238.3V239.5 M28.2,161.34H29.4 M102.66,238.3V239.5 M28.2,160.58H29.4 M103.39,238.3V239.5 M28.2,159.9H29.4 M104.03,238.3V239.5 " stroke="#111" stroke-width="0.45" fill="none"/>
<text x="25.7" y="239.45" font-size="6" text-anchor="end" fill="#231f20">10<tspan dy="-2.7" font-size="4.44">0</tspan></text>
<text x="25.7" y="226.7" font-size="6" text-anchor="end" fill="#231f20">10<tspan dy="-2.7" font-size="4.44">1</tspan></text>
<text x="25.7" y="213.95" font-size="6" text-anchor="end" fill="#231f20">10<tspan dy="-2.7" font-size="4.44">2</tspan></text>
<text x="25.7" y="201.2" font-size="6" text-anchor="end" fill="#231f20">10<tspan dy="-2.7" font-size="4.44">3</tspan></text>
<text x="25.7" y="188.45" font-size="6" text-anchor="end" fill="#231f20">10<tspan dy="-2.7" font-size="4.44">4</tspan></text>
<text x="25.7" y="175.7" font-size="6" text-anchor="end" fill="#231f20">10<tspan dy="-2.7" font-size="4.44">5</tspan></text>
<text x="25.7" y="162.95" font-size="6" text-anchor="end" fill="#231f20">10<tspan dy="-2.7" font-size="4.44">6</tspan></text>
<text x="29.6" y="248.4" font-size="6" text-anchor="middle" fill="#231f20">10<tspan dy="-2.7" font-size="4.44">0</tspan></text>
<text x="54.33" y="248.4" font-size="6" text-anchor="middle" fill="#231f20">10<tspan dy="-2.7" font-size="4.44">2</tspan></text>
<text x="79.07" y="248.4" font-size="6" text-anchor="middle" fill="#231f20">10<tspan dy="-2.7" font-size="4.44">4</tspan></text>
<text x="103.8" y="248.4" font-size="6" text-anchor="middle" fill="#231f20">10<tspan dy="-2.7" font-size="4.44">6</tspan></text>
<text x="32.9" y="166.5" font-size="6.4" fill="#333">i</text>
<clipPath id="cp1"><rect x="124" y="157.5" width="80.2" height="80.8"/></clipPath>
<g clip-path="url(#cp1)">
<path d="M166.8,214.5 L163.2,214.5 L161.8,214.4 L160.5,214.3 L159.2,214.0 L158.2,213.8 L157.2,213.3 L156.5,212.9 L155.8,212.4 L155.1,211.8 L154.6,211.0 L154.1,210.2 L153.8,209.5 L153.5,208.5 L153.3,207.2 L153.2,206.0 L153.2,203.0 L153.3,201.0 L153.4,199.5 L153.8,198.0 L154.4,196.8 L155.1,195.8 L155.9,195.0 L157.3,193.8 L158.0,193.0 L158.3,192.5 L158.4,191.8 L158.3,191.0 L158.0,190.5 L157.5,190.0 L156.0,188.8 L155.2,188.0 L154.7,187.2 L154.2,186.2 L154.0,185.5 L153.9,184.8 L153.8,182.8 L153.9,181.0 L154.0,180.2 L154.2,179.5 L154.5,178.8 L155.0,178.0 L155.8,177.2 L156.8,176.5 L160.5,174.1 L161.8,173.4 L163.0,172.9 L163.8,172.7 L164.5,172.6 L165.5,172.6 L166.5,172.8 L167.5,173.1 L168.5,173.6 L171.2,175.3 L173.5,176.5 L174.2,177.0 L174.9,177.5 L175.3,178.0 L176.0,179.0 L176.2,179.5 L176.4,180.2 L176.5,181.0 L176.5,182.0 L176.5,184.8 L176.4,185.5 L176.2,186.2 L175.7,187.2 L175.4,187.8 L174.9,188.2 L174.0,189.0 L172.5,190.0 L171.9,190.5 L171.7,190.8 L171.5,191.2 L171.4,191.8 L171.4,192.2 L171.6,192.8 L171.9,193.2 L172.2,193.7 L173.2,194.6 L175.5,196.4 L176.2,196.8 L177.0,197.0 L177.8,197.1 L178.5,197.1 L179.8,196.9 L184.2,195.8 L188.8,195.1 L191.0,194.8 L193.2,194.6 L195.0,194.5 L196.8,194.6 L198.0,194.7 L199.2,195.0 L200.2,195.3 L201.2,195.8 L202.0,196.3 L202.9,197.0 L203.5,197.8 L204.0,198.5 L204.1,202.8 L204.0,207.5 L203.4,208.5 L202.4,209.5 L201.2,210.3 L199.8,211.1 L197.8,211.8 L195.2,212.4 L191.5,213.1 L187.5,213.6 L185.0,213.7 L182.8,213.7 L180.8,213.4 L177.5,212.8 L176.0,212.7 L175.2,212.8 L174.5,212.9 L171.5,213.8 L170.2,214.1 L168.5,214.4 L166.8,214.5Z " fill="#22358f"/>
<path d="M166.5,213.0 L165.2,213.1 L164.0,213.1 L162.8,213.0 L161.5,212.8 L160.2,212.5 L159.2,212.1 L158.5,211.8 L157.8,211.3 L157.1,210.8 L156.6,210.2 L156.1,209.5 L155.8,208.8 L155.5,208.0 L155.3,207.2 L155.1,206.2 L155.0,205.0 L155.0,203.0 L155.1,201.5 L155.3,200.2 L155.6,199.0 L156.1,198.0 L156.5,197.2 L157.1,196.5 L158.5,195.0 L159.0,194.2 L159.5,193.2 L159.7,192.5 L159.8,192.0 L159.7,191.0 L159.6,190.5 L159.3,190.0 L158.8,189.2 L156.9,187.2 L156.4,186.5 L156.1,185.8 L155.8,184.5 L155.7,182.8 L155.8,181.2 L156.0,180.0 L156.4,179.0 L157.2,178.0 L158.4,176.8 L160.0,175.5 L161.2,174.6 L162.5,173.9 L163.5,173.6 L164.8,173.4 L166.0,173.5 L167.0,173.8 L168.0,174.3 L169.0,174.9 L170.9,176.2 L172.7,177.8 L173.6,178.8 L174.2,179.8 L174.5,180.8 L174.6,182.2 L174.5,184.2 L174.4,185.0 L174.3,185.8 L173.9,186.5 L173.4,187.2 L172.9,187.8 L171.2,189.2 L170.5,190.0 L170.2,190.8 L170.0,191.2 L170.0,191.8 L170.1,192.5 L170.2,193.3 L170.6,194.0 L171.0,194.7 L171.5,195.4 L172.2,196.2 L173.5,197.4 L174.2,198.0 L175.0,198.5 L175.8,198.8 L176.8,199.0 L177.8,198.9 L179.5,198.6 L183.0,197.6 L184.8,197.2 L186.5,196.8 L188.8,196.4 L191.2,196.1 L193.2,196.0 L195.0,196.0 L196.5,196.1 L198.0,196.4 L199.2,196.8 L200.2,197.4 L201.2,198.2 L202.0,199.0 L202.6,200.0 L202.9,201.0 L203.1,202.2 L203.0,203.8 L202.7,205.0 L202.2,206.2 L201.4,207.5 L200.4,208.5 L199.2,209.3 L198.0,209.9 L196.2,210.6 L194.0,211.1 L191.0,211.6 L187.8,212.1 L185.5,212.2 L184.0,212.2 L182.8,212.1 L181.2,211.8 L177.5,210.9 L176.2,210.8 L175.2,210.8 L174.2,211.0 L173.5,211.2 L170.8,212.1 L169.2,212.6 L167.8,212.9 L166.5,213.0Z " fill="#2558c0"/>
<path d="M166.2,211.8 L165.2,211.8 L164.2,211.8 L162.5,211.6 L161.5,211.3 L160.8,211.0 L160.0,210.6 L159.2,210.2 L158.5,209.5 L158.1,209.0 L157.6,208.2 L157.4,207.8 L157.1,207.0 L156.9,206.2 L156.7,205.2 L156.6,204.2 L156.6,203.0 L156.7,202.0 L156.9,201.0 L157.2,200.0 L157.5,199.2 L157.9,198.5 L159.5,196.2 L160.2,195.0 L160.5,194.2 L160.7,193.5 L160.8,192.8 L160.9,192.0 L160.9,191.0 L160.7,190.5 L160.5,189.9 L160.0,189.0 L158.4,186.8 L158.0,186.0 L157.7,185.2 L157.5,184.0 L157.4,182.5 L157.4,181.2 L157.6,180.2 L158.1,179.0 L158.7,178.0 L159.5,177.0 L160.5,176.0 L161.8,175.1 L162.8,174.6 L163.8,174.3 L164.8,174.2 L166.0,174.3 L167.0,174.6 L168.0,175.1 L169.0,175.8 L170.1,176.8 L171.3,178.0 L171.9,179.0 L172.4,180.0 L172.6,181.0 L172.7,182.2 L172.6,184.0 L172.4,185.2 L172.1,186.0 L171.6,186.8 L170.0,188.8 L169.4,189.8 L169.0,190.8 L168.9,191.2 L168.9,192.0 L169.0,193.0 L169.2,194.0 L169.5,194.8 L170.0,195.8 L170.8,196.9 L171.8,198.2 L172.5,199.0 L173.2,199.7 L174.0,200.1 L175.0,200.4 L176.2,200.5 L177.5,200.5 L178.8,200.3 L179.8,200.0 L184.2,198.6 L186.0,198.2 L187.5,197.8 L189.5,197.5 L191.5,197.3 L193.2,197.2 L194.8,197.3 L196.0,197.5 L197.2,197.8 L198.2,198.2 L199.2,198.8 L200.1,199.5 L200.6,200.2 L201.0,201.2 L201.2,202.2 L201.1,203.5 L200.9,204.5 L200.2,205.8 L199.4,206.8 L198.5,207.6 L197.2,208.4 L195.8,209.0 L194.0,209.6 L191.8,210.1 L189.5,210.4 L187.2,210.7 L185.2,210.7 L183.8,210.6 L182.2,210.4 L178.5,209.6 L177.0,209.4 L175.8,209.3 L174.5,209.3 L173.5,209.4 L172.5,209.6 L168.8,211.2 L167.5,211.5 L166.2,211.8Z " fill="#2c86e0"/>
<path d="M166.8,210.8 L165.2,211.0 L164.2,210.9 L163.5,210.9 L162.5,210.6 L161.8,210.4 L160.5,209.7 L159.9,209.2 L159.4,208.8 L159.0,208.2 L158.5,207.5 L158.2,206.8 L157.9,206.0 L157.8,205.2 L157.7,204.2 L157.7,203.2 L157.7,202.5 L157.9,201.5 L158.1,200.8 L158.4,200.0 L158.9,199.0 L160.5,196.6 L161.1,195.5 L161.4,194.8 L161.6,193.8 L161.8,192.8 L161.8,192.0 L161.8,191.0 L161.5,190.0 L161.0,189.0 L159.4,186.5 L158.9,185.5 L158.7,184.8 L158.4,183.5 L158.4,182.2 L158.4,181.2 L158.6,180.2 L158.9,179.2 L159.4,178.2 L160.1,177.2 L160.9,176.5 L161.8,175.8 L162.5,175.4 L163.5,175.0 L164.5,174.8 L165.5,174.8 L166.5,175.1 L167.5,175.5 L168.5,176.1 L169.5,177.0 L170.3,178.0 L170.9,179.0 L171.3,180.0 L171.5,181.0 L171.6,182.2 L171.5,183.8 L171.2,185.0 L170.9,185.8 L170.5,186.5 L168.8,189.0 L168.3,190.0 L168.0,191.0 L168.0,192.2 L168.1,193.2 L168.4,194.5 L168.7,195.5 L169.1,196.2 L169.8,197.3 L171.5,199.7 L172.2,200.6 L172.8,201.1 L173.5,201.5 L174.5,201.8 L175.8,201.8 L177.2,201.7 L178.5,201.5 L180.0,201.1 L184.5,199.6 L187.2,198.8 L188.8,198.5 L190.5,198.3 L192.0,198.2 L193.2,198.2 L194.5,198.3 L195.8,198.6 L196.8,198.9 L197.8,199.4 L198.6,200.0 L199.2,200.8 L199.6,201.5 L199.7,202.2 L199.7,203.2 L199.4,204.2 L198.8,205.2 L197.9,206.2 L197.0,207.0 L195.8,207.7 L194.2,208.3 L192.5,208.8 L190.8,209.2 L188.8,209.5 L187.0,209.6 L185.2,209.6 L184.0,209.5 L182.5,209.3 L178.5,208.5 L176.8,208.2 L175.0,208.0 L173.8,208.0 L172.8,208.2 L172.0,208.4 L171.2,208.8 L168.8,210.1 L167.8,210.5 L166.8,210.8Z " fill="#3fc0e8"/>
<path d="M165.8,210.3 L164.5,210.3 L163.8,210.2 L163.0,210.0 L161.8,209.5 L161.0,209.1 L160.5,208.7 L159.6,207.8 L159.3,207.2 L158.9,206.5 L158.5,205.2 L158.4,203.8 L158.4,202.8 L158.5,202.0 L158.8,201.0 L159.1,200.2 L159.8,199.0 L161.6,196.5 L162.2,195.2 L162.6,193.8 L162.8,192.0 L162.7,191.0 L162.4,190.0 L162.0,189.2 L160.1,186.5 L159.7,185.5 L159.4,184.8 L159.2,183.8 L159.1,182.5 L159.1,181.5 L159.2,180.5 L159.5,179.5 L159.9,178.5 L160.6,177.5 L161.2,176.8 L162.2,176.1 L163.0,175.7 L164.0,175.4 L164.8,175.3 L165.8,175.4 L166.5,175.6 L167.5,176.1 L168.2,176.6 L169.0,177.2 L169.6,178.0 L170.2,179.0 L170.6,180.0 L170.8,181.0 L170.8,182.2 L170.7,183.8 L170.5,184.8 L170.1,185.8 L169.7,186.5 L168.0,189.0 L167.4,190.0 L167.1,190.8 L167.0,191.2 L167.0,192.5 L167.2,193.5 L167.5,194.8 L167.8,195.8 L168.2,196.5 L168.7,197.2 L170.4,199.5 L171.8,201.6 L172.2,202.2 L172.8,202.7 L173.5,203.1 L174.2,203.2 L175.2,203.2 L177.0,202.9 L178.5,202.5 L180.0,202.1 L184.8,200.3 L187.0,199.7 L189.5,199.2 L190.8,199.1 L192.0,199.0 L193.2,199.1 L194.5,199.2 L195.8,199.6 L196.6,200.0 L197.3,200.5 L198.0,201.2 L198.3,202.0 L198.4,202.8 L198.3,203.2 L198.2,203.8 L197.9,204.5 L197.3,205.2 L196.5,206.0 L195.5,206.7 L194.2,207.3 L193.0,207.8 L191.5,208.2 L189.8,208.5 L188.0,208.7 L186.2,208.8 L184.8,208.7 L182.2,208.3 L175.8,206.8 L174.5,206.6 L173.5,206.6 L172.8,206.7 L172.0,207.1 L169.5,208.8 L168.2,209.5 L167.0,210.0 L165.8,210.3Z " fill="#46cfae"/>
<path d="M165.0,191.3 L164.8,191.2 L164.5,191.0 L161.8,187.7 L160.8,186.2 L160.3,185.2 L160.0,184.2 L159.7,183.0 L159.7,182.0 L159.8,180.8 L160.0,179.8 L160.4,178.8 L161.1,177.8 L161.9,177.0 L162.8,176.4 L163.8,176.0 L164.8,175.8 L165.8,175.9 L166.8,176.2 L167.8,176.9 L168.5,177.5 L169.2,178.5 L169.7,179.5 L170.0,180.5 L170.2,181.8 L170.1,183.0 L170.0,184.0 L169.7,185.0 L169.2,186.0 L168.6,187.0 L168.0,187.8 L165.2,191.1 L165.0,191.3Z M166.2,209.5 L165.0,209.6 L163.8,209.5 L162.5,209.1 L161.5,208.6 L160.6,207.8 L159.9,206.8 L159.3,205.5 L159.1,204.2 L159.1,203.2 L159.2,202.2 L159.4,201.5 L159.8,200.5 L160.2,199.8 L160.7,199.0 L162.9,196.2 L163.6,195.0 L164.5,193.0 L164.8,192.7 L165.0,192.6 L165.2,193.0 L166.1,195.0 L166.8,196.2 L167.4,197.0 L169.3,199.2 L170.3,200.8 L170.9,202.0 L171.4,203.0 L171.6,203.8 L171.7,204.2 L171.6,205.0 L171.3,205.8 L170.6,206.8 L169.9,207.5 L169.0,208.2 L168.0,208.9 L167.0,209.3 L166.2,209.5Z M188.8,207.8 L187.0,207.9 L185.5,207.8 L184.0,207.6 L182.5,207.2 L180.4,206.5 L178.9,205.8 L178.6,205.5 L178.4,205.2 L178.3,205.0 L178.3,204.8 L178.5,204.5 L178.8,204.2 L179.7,203.8 L184.0,201.6 L185.2,201.1 L186.5,200.7 L188.8,200.1 L190.0,200.0 L191.2,199.9 L192.5,199.9 L193.5,200.0 L194.5,200.3 L195.2,200.6 L195.9,201.0 L196.4,201.5 L196.7,202.0 L196.9,202.5 L196.9,203.0 L196.8,203.5 L196.6,204.0 L196.3,204.5 L195.9,205.0 L195.4,205.5 L194.8,205.9 L194.0,206.4 L192.5,207.0 L190.8,207.5 L188.8,207.8Z " fill="#4cc257"/>
<path d="M165.8,187.3 L165.0,187.5 L164.2,187.4 L163.5,187.1 L162.8,186.5 L162.1,185.8 L161.5,184.8 L161.2,183.8 L161.0,182.8 L160.9,181.8 L161.0,180.8 L161.3,179.8 L161.7,179.0 L162.3,178.2 L163.0,177.7 L163.8,177.3 L164.5,177.1 L165.2,177.1 L166.0,177.3 L166.8,177.7 L167.5,178.2 L167.9,178.8 L168.3,179.5 L168.6,180.2 L168.8,181.2 L168.9,182.2 L168.7,183.2 L168.5,184.2 L168.1,185.0 L167.7,185.8 L167.0,186.5 L166.5,186.9 L165.8,187.3Z M166.2,208.0 L165.2,208.2 L164.2,208.2 L163.2,207.9 L162.5,207.5 L161.9,207.0 L161.2,206.2 L160.8,205.5 L160.6,204.5 L160.5,203.5 L160.6,202.5 L160.9,201.5 L161.3,200.8 L162.0,199.9 L162.8,199.2 L163.8,198.6 L164.5,198.4 L165.2,198.4 L166.0,198.6 L166.8,199.0 L167.5,199.6 L168.2,200.4 L168.8,201.2 L169.2,202.0 L169.5,203.0 L169.6,203.8 L169.5,204.5 L169.3,205.2 L168.9,206.0 L168.4,206.8 L167.8,207.3 L167.0,207.7 L166.2,208.0Z M189.0,205.3 L188.0,205.2 L187.5,205.1 L187.0,205.0 L186.7,204.8 L186.5,204.5 L186.4,204.2 L186.5,204.0 L186.6,203.8 L187.2,203.2 L187.8,202.9 L188.5,202.6 L189.5,202.4 L190.5,202.4 L191.2,202.5 L191.8,202.7 L192.1,203.0 L192.2,203.2 L192.2,203.5 L192.2,203.8 L192.0,204.0 L191.5,204.5 L191.0,204.8 L190.4,205.0 L189.8,205.2 L189.0,205.3Z " fill="#9bd334"/>
<path d="M165.8,186.3 L165.2,186.4 L164.5,186.4 L163.8,186.1 L163.2,185.8 L162.7,185.2 L162.2,184.5 L161.9,183.8 L161.7,182.8 L161.6,181.8 L161.7,181.0 L161.9,180.2 L162.2,179.5 L162.8,178.8 L163.2,178.4 L163.8,178.1 L164.5,177.9 L165.2,177.9 L165.8,178.0 L166.5,178.3 L167.0,178.8 L167.4,179.2 L167.8,179.8 L168.0,180.5 L168.2,181.2 L168.2,182.0 L168.1,182.8 L168.0,183.5 L167.7,184.2 L167.3,185.0 L166.9,185.5 L166.2,186.0 L165.8,186.3Z M166.0,207.3 L165.2,207.5 L164.5,207.5 L163.8,207.3 L163.0,206.9 L162.4,206.5 L162.0,206.0 L161.5,205.2 L161.3,204.5 L161.2,203.8 L161.2,203.0 L161.4,202.2 L161.8,201.5 L162.2,200.8 L162.8,200.2 L163.5,199.7 L164.2,199.5 L164.8,199.4 L165.5,199.4 L166.2,199.7 L166.8,200.0 L167.3,200.5 L168.0,201.2 L168.4,202.0 L168.6,202.8 L168.7,203.5 L168.7,204.2 L168.5,205.0 L168.3,205.5 L167.8,206.2 L167.2,206.7 L166.8,207.0 L166.0,207.3Z " fill="#f1e81d"/>
<path d="M165.2,185.5 L164.8,185.6 L164.2,185.5 L163.8,185.2 L163.2,184.8 L162.8,184.2 L162.5,183.6 L162.3,183.0 L162.2,182.2 L162.2,181.5 L162.3,181.0 L162.5,180.3 L162.8,179.8 L163.2,179.2 L163.8,178.8 L164.2,178.6 L164.8,178.5 L165.2,178.6 L165.8,178.7 L166.2,179.0 L166.6,179.2 L167.0,179.8 L167.3,180.2 L167.5,180.8 L167.6,181.5 L167.6,182.2 L167.5,183.0 L167.2,183.7 L167.0,184.2 L166.6,184.8 L166.2,185.1 L165.8,185.4 L165.2,185.5Z M165.5,206.8 L164.8,206.8 L164.2,206.7 L163.8,206.6 L163.2,206.2 L162.6,205.8 L162.3,205.2 L162.1,204.8 L161.9,204.0 L161.9,203.2 L162.0,202.8 L162.1,202.2 L162.5,201.6 L163.0,201.0 L163.5,200.6 L164.0,200.4 L164.5,200.2 L165.0,200.2 L165.8,200.3 L166.2,200.6 L166.8,200.9 L167.2,201.4 L167.6,202.0 L167.8,202.5 L168.0,203.2 L168.0,204.0 L167.9,204.5 L167.8,205.0 L167.5,205.5 L167.0,206.0 L166.5,206.4 L166.0,206.6 L165.5,206.8Z " fill="#f9b21c"/>
<path d="M165.2,184.8 L164.8,184.8 L164.5,184.8 L164.0,184.5 L163.6,184.2 L163.2,183.8 L163.0,183.3 L162.8,182.8 L162.7,182.2 L162.7,181.5 L162.8,181.0 L163.0,180.5 L163.2,180.1 L163.6,179.8 L164.0,179.4 L164.4,179.2 L164.8,179.2 L165.5,179.3 L165.9,179.5 L166.2,179.8 L166.5,180.1 L166.8,180.5 L167.0,181.0 L167.0,181.5 L167.0,182.5 L166.9,183.0 L166.7,183.5 L166.4,184.0 L166.0,184.4 L165.8,184.6 L165.2,184.8Z M165.8,206.0 L165.2,206.2 L164.8,206.2 L164.2,206.1 L163.8,205.9 L163.2,205.5 L163.0,205.2 L162.7,204.8 L162.5,204.2 L162.5,203.8 L162.5,203.2 L162.6,202.8 L162.8,202.2 L163.0,201.9 L163.4,201.5 L163.8,201.2 L164.2,201.0 L164.8,200.9 L165.2,200.9 L166.0,201.2 L166.5,201.5 L166.8,201.8 L167.1,202.2 L167.3,202.8 L167.4,203.2 L167.4,203.8 L167.4,204.2 L167.2,204.8 L167.0,205.1 L166.6,205.5 L166.2,205.8 L165.8,206.0Z " fill="#f2641f"/>
<path d="M165.2,184.1 L164.8,184.1 L164.5,184.1 L164.0,183.8 L163.7,183.5 L163.5,183.1 L163.2,182.2 L163.2,181.5 L163.5,180.7 L163.8,180.4 L164.0,180.1 L164.2,179.9 L164.8,179.8 L165.2,179.8 L165.5,179.9 L166.0,180.2 L166.3,180.8 L166.5,181.5 L166.6,182.0 L166.5,182.5 L166.2,183.2 L166.0,183.6 L165.8,183.8 L165.2,184.1Z M165.5,205.5 L164.8,205.6 L164.3,205.5 L164.0,205.4 L163.5,205.0 L163.3,204.8 L163.0,204.0 L163.0,203.2 L163.3,202.5 L163.8,201.9 L164.0,201.8 L164.5,201.5 L164.8,201.5 L165.2,201.5 L165.8,201.8 L166.4,202.2 L166.6,202.5 L166.8,203.0 L166.9,203.8 L166.7,204.5 L166.2,205.1 L166.0,205.3 L165.5,205.5Z " fill="#e8211f"/>
</g>
<line x1="124" y1="192.5" x2="204.2" y2="192.5" stroke="#5a5a5a" stroke-width="0.8"/>
<line x1="176.7" y1="157.5" x2="176.7" y2="238.3" stroke="#5a5a5a" stroke-width="0.8"/>
<rect x="124" y="157.5" width="80.2" height="80.8" fill="none" stroke="#000" stroke-width="1.15"/>
<path d="M121.7,238.3H124 M124,238.3V240.5 M121.7,224.83H124 M137.37,238.3V240.5 M121.7,211.37H124 M150.73,238.3V240.5 M121.7,197.9H124 M164.1,238.3V240.5 M121.7,184.43H124 M177.47,238.3V240.5 M121.7,170.97H124 M190.83,238.3V240.5 M121.7,157.5H124 M204.2,238.3V240.5 " stroke="#111" stroke-width="0.8" fill="none"/>
<path d="M122.8,234.25H124 M128.02,238.3V239.5 M122.8,231.87H124 M130.38,238.3V239.5 M122.8,230.19H124 M132.05,238.3V239.5 M122.8,228.89H124 M133.34,238.3V239.5 M122.8,227.82H124 M134.4,238.3V239.5 M122.8,226.92H124 M135.3,238.3V239.5 M122.8,226.14H124 M136.07,238.3V239.5 M122.8,225.45H124 M136.76,238.3V239.5 M122.8,220.78H124 M141.39,238.3V239.5 M122.8,218.41H124 M143.74,238.3V239.5 M122.8,216.73H124 M145.41,238.3V239.5 M122.8,215.42H124 M146.71,238.3V239.5 M122.8,214.35H124 M147.77,238.3V239.5 M122.8,213.45H124 M148.66,238.3V239.5 M122.8,212.67H124 M149.44,238.3V239.5 M122.8,211.98H124 M150.12,238.3V239.5 M122.8,207.31H124 M154.76,238.3V239.5 M122.8,204.94H124 M157.11,238.3V239.5 M122.8,203.26H124 M158.78,238.3V239.5 M122.8,201.95H124 M160.08,238.3V239.5 M122.8,200.89H124 M161.13,238.3V239.5 M122.8,199.99H124 M162.03,238.3V239.5 M122.8,199.21H124 M162.8,238.3V239.5 M122.8,198.52H124 M163.49,238.3V239.5 M122.8,193.85H124 M168.12,238.3V239.5 M122.8,191.47H124 M170.48,238.3V239.5 M122.8,189.79H124 M172.15,238.3V239.5 M122.8,188.49H124 M173.44,238.3V239.5 M122.8,187.42H124 M174.5,238.3V239.5 M122.8,186.52H124 M175.4,238.3V239.5 M122.8,185.74H124 M176.17,238.3V239.5 M122.8,185.05H124 M176.86,238.3V239.5 M122.8,180.38H124 M181.49,238.3V239.5 M122.8,178.01H124 M183.84,238.3V239.5 M122.8,176.33H124 M185.51,238.3V239.5 M122.8,175.02H124 M186.81,238.3V239.5 M122.8,173.95H124 M187.87,238.3V239.5 M122.8,173.05H124 M188.76,238.3V239.5 M122.8,172.27H124 M189.54,238.3V239.5 M122.8,171.58H124 M190.22,238.3V239.5 M122.8,166.91H124 M194.86,238.3V239.5 M122.8,164.54H124 M197.21,238.3V239.5 M122.8,162.86H124 M198.88,238.3V239.5 M122.8,161.55H124 M200.18,238.3V239.5 M122.8,160.49H124 M201.23,238.3V239.5 M122.8,159.59H124 M202.13,238.3V239.5 M122.8,158.81H124 M202.9,238.3V239.5 M122.8,158.12H124 M203.59,238.3V239.5 " stroke="#111" stroke-width="0.45" fill="none"/>
<text x="120.3" y="239.45" font-size="6" text-anchor="end" fill="#231f20">10<tspan dy="-2.7" font-size="4.44">0</tspan></text>
<text x="120.3" y="226.7" font-size="6" text-anchor="end" fill="#231f20">10<tspan dy="-2.7" font-size="4.44">1</tspan></text>
<text x="120.3" y="213.95" font-size="6" text-anchor="end" fill="#231f20">10<tspan dy="-2.7" font-size="4.44">2</tspan></text>
<text x="120.3" y="201.2" font-size="6" text-anchor="end" fill="#231f20">10<tspan dy="-2.7" font-size="4.44">3</tspan></text>
<text x="120.3" y="188.45" font-size="6" text-anchor="end" fill="#231f20">10<tspan dy="-2.7" font-size="4.44">4</tspan></text>
<text x="120.3" y="175.7" font-size="6" text-anchor="end" fill="#231f20">10<tspan dy="-2.7" font-size="4.44">5</tspan></text>
<text x="120.3" y="162.95" font-size="6" text-anchor="end" fill="#231f20">10<tspan dy="-2.7" font-size="4.44">6</tspan></text>
<text x="124.2" y="248.4" font-size="6" text-anchor="middle" fill="#231f20">10<tspan dy="-2.7" font-size="4.44">0</tspan></text>
<text x="150.6" y="248.4" font-size="6" text-anchor="middle" fill="#231f20">10<tspan dy="-2.7" font-size="4.44">2</tspan></text>
<text x="177" y="248.4" font-size="6" text-anchor="middle" fill="#231f20">10<tspan dy="-2.7" font-size="4.44">4</tspan></text>
<text x="203.4" y="248.4" font-size="6" text-anchor="middle" fill="#231f20">10<tspan dy="-2.7" font-size="4.44">6</tspan></text>
<text x="128.2" y="166.5" font-size="6.4" fill="#333">ii</text>
<clipPath id="cp2"><rect x="223.9" y="157.5" width="84.8" height="80.8"/></clipPath>
<g clip-path="url(#cp2)">
<path d="M267.9,214.0 L266.1,214.1 L264.6,214.1 L263.1,213.9 L261.6,213.6 L260.1,213.1 L258.9,212.4 L257.9,211.6 L257.1,210.8 L256.4,209.8 L256.0,208.8 L255.8,207.8 L255.8,206.5 L256.1,205.2 L256.6,204.0 L257.4,202.8 L258.2,201.8 L259.5,200.5 L261.1,199.3 L262.4,198.6 L266.3,196.5 L267.5,195.8 L268.9,194.8 L272.4,192.0 L274.6,190.2 L279.6,185.6 L281.6,183.9 L283.9,182.2 L286.6,180.4 L288.4,179.4 L290.4,178.4 L294.8,176.5 L298.9,174.6 L300.6,173.9 L302.4,173.4 L303.6,173.2 L304.4,173.3 L304.9,173.4 L305.2,173.5 L305.6,173.8 L305.9,174.2 L306.0,174.8 L306.0,175.5 L305.8,176.2 L305.3,177.5 L304.1,179.8 L303.6,180.8 L303.3,181.8 L302.9,184.0 L302.5,185.2 L302.0,186.8 L300.2,191.2 L298.8,195.8 L298.0,197.5 L297.3,198.8 L296.5,200.0 L295.5,201.2 L294.4,202.3 L293.1,203.3 L291.9,204.1 L290.4,204.9 L288.4,205.6 L284.5,206.5 L282.9,207.0 L281.9,207.5 L281.0,208.0 L276.6,210.8 L275.4,211.5 L274.1,212.2 L272.4,212.9 L270.9,213.4 L269.1,213.8 L267.9,214.0Z " fill="#22358f"/>
<path d="M267.4,212.5 L266.1,212.5 L264.6,212.4 L263.4,212.2 L262.4,211.9 L261.4,211.5 L260.4,211.0 L259.5,210.2 L258.9,209.5 L258.3,208.5 L258.0,207.8 L257.9,206.8 L257.9,205.8 L258.2,204.8 L258.5,204.0 L259.1,203.0 L260.0,202.0 L261.1,201.0 L262.4,200.1 L263.6,199.4 L266.4,198.0 L267.3,197.5 L268.4,196.7 L274.9,191.5 L276.6,190.0 L279.9,186.9 L281.6,185.4 L283.9,183.6 L286.1,182.1 L288.4,180.9 L293.7,178.5 L298.1,176.1 L299.9,175.3 L301.1,174.9 L302.4,174.7 L302.9,174.7 L303.4,174.8 L303.9,175.1 L304.1,175.5 L304.2,176.0 L304.1,176.5 L304.0,177.0 L303.4,178.2 L301.3,181.2 L300.7,182.5 L300.4,183.3 L299.5,186.5 L297.4,191.8 L296.2,195.5 L295.8,196.8 L295.3,197.8 L294.7,198.8 L294.1,199.5 L293.4,200.2 L292.6,201.0 L291.6,201.7 L290.9,202.1 L289.9,202.6 L288.4,203.1 L284.9,203.8 L283.7,204.2 L282.6,204.8 L280.6,206.0 L275.9,209.4 L274.6,210.2 L273.4,210.9 L272.1,211.4 L270.6,211.9 L268.9,212.3 L267.4,212.5Z " fill="#2558c0"/>
<path d="M268.6,211.3 L267.4,211.4 L266.1,211.4 L265.1,211.4 L263.9,211.1 L262.9,210.8 L261.9,210.3 L261.1,209.8 L260.4,209.1 L259.9,208.5 L259.5,207.8 L259.3,207.0 L259.3,206.0 L259.4,205.0 L259.7,204.2 L260.3,203.2 L260.9,202.5 L261.9,201.6 L263.1,200.7 L264.6,199.9 L267.8,198.5 L268.6,198.0 L269.3,197.5 L275.4,192.3 L279.9,188.0 L281.4,186.7 L283.4,185.1 L285.4,183.7 L287.1,182.6 L288.6,181.9 L292.7,180.2 L293.9,179.7 L295.1,179.0 L297.6,177.5 L298.9,176.9 L299.9,176.5 L300.6,176.3 L301.4,176.3 L301.9,176.5 L302.1,176.8 L302.2,177.2 L302.0,177.8 L301.8,178.2 L301.2,179.2 L299.4,181.5 L298.8,182.5 L298.4,183.5 L297.5,186.8 L296.5,189.0 L292.6,196.0 L292.0,197.0 L291.4,197.8 L290.6,198.5 L289.6,199.1 L288.6,199.6 L285.9,200.8 L284.6,201.4 L283.4,202.2 L279.2,205.2 L275.1,208.4 L273.6,209.5 L272.4,210.1 L271.1,210.6 L269.6,211.1 L268.6,211.3Z " fill="#2c86e0"/>
<path d="M267.1,210.8 L266.1,210.7 L265.1,210.6 L264.1,210.4 L263.4,210.2 L262.6,209.8 L261.9,209.3 L261.3,208.8 L260.8,208.2 L260.4,207.5 L260.2,206.8 L260.2,206.0 L260.2,205.2 L260.5,204.5 L260.9,203.8 L261.2,203.2 L261.9,202.5 L262.9,201.6 L264.1,200.9 L265.1,200.4 L268.6,199.0 L269.5,198.5 L270.1,198.0 L275.6,193.1 L279.7,189.0 L281.4,187.4 L283.4,185.8 L285.4,184.4 L287.1,183.4 L288.4,182.8 L290.1,182.1 L293.3,181.0 L294.4,180.6 L295.6,180.0 L297.4,179.0 L298.4,178.5 L299.1,178.3 L299.4,178.4 L299.6,178.5 L299.6,178.8 L299.4,179.2 L299.1,179.8 L297.8,181.5 L297.3,182.5 L296.9,183.5 L296.5,185.5 L296.3,186.5 L295.8,187.8 L295.2,189.0 L294.2,190.8 L293.0,192.5 L291.8,194.0 L290.6,195.2 L289.6,196.2 L288.4,197.2 L283.6,200.5 L278.4,204.5 L277.1,205.6 L274.7,207.8 L273.4,208.7 L271.9,209.6 L270.4,210.2 L268.6,210.6 L267.1,210.8Z " fill="#3fc0e8"/>
<path d="M268.9,210.1 L267.9,210.2 L266.9,210.2 L265.9,210.2 L264.9,210.0 L264.1,209.8 L263.1,209.4 L262.4,208.9 L261.9,208.5 L261.5,208.0 L261.1,207.2 L260.9,206.5 L260.9,205.8 L261.0,205.0 L261.3,204.2 L261.7,203.5 L262.1,203.0 L263.3,202.0 L264.6,201.2 L265.9,200.6 L269.1,199.5 L270.1,199.0 L270.8,198.5 L275.9,193.7 L279.7,189.8 L281.4,188.1 L283.4,186.4 L285.6,184.8 L286.9,184.1 L288.4,183.4 L289.6,182.9 L291.1,182.4 L292.6,182.1 L294.1,181.9 L294.9,181.9 L295.2,182.0 L295.4,182.2 L295.5,182.5 L295.6,183.0 L295.6,184.8 L295.5,186.0 L295.0,187.5 L294.3,189.0 L293.3,190.8 L292.1,192.2 L290.9,193.7 L289.4,195.1 L287.9,196.4 L283.2,199.8 L277.4,204.2 L276.4,205.1 L274.3,207.2 L273.1,208.2 L272.1,208.8 L271.1,209.3 L269.9,209.8 L268.9,210.1Z " fill="#46cfae"/>
<path d="M268.9,209.5 L267.9,209.7 L266.9,209.7 L265.9,209.7 L265.1,209.5 L264.4,209.3 L263.6,209.0 L262.9,208.5 L262.4,208.0 L262.0,207.5 L261.7,206.8 L261.6,206.2 L261.6,205.5 L261.7,204.8 L262.0,204.2 L262.4,203.5 L262.9,203.0 L263.9,202.2 L264.6,201.7 L265.4,201.4 L266.6,200.9 L270.1,199.9 L270.9,199.5 L271.6,199.0 L272.4,198.3 L275.9,194.7 L279.4,190.8 L281.1,189.0 L283.1,187.2 L284.1,186.4 L285.4,185.6 L286.6,184.9 L288.1,184.1 L289.4,183.7 L290.4,183.4 L291.6,183.1 L292.6,183.1 L293.4,183.3 L293.9,183.5 L294.1,183.8 L294.3,184.2 L294.5,185.2 L294.4,186.5 L294.1,187.8 L293.5,189.0 L292.6,190.5 L291.5,192.0 L290.4,193.2 L288.9,194.6 L287.4,195.8 L282.1,199.5 L276.9,203.3 L275.9,204.3 L273.9,206.8 L272.6,207.8 L271.9,208.4 L270.9,208.9 L269.9,209.3 L268.9,209.5Z " fill="#4cc257"/>
<path d="M277.4,199.3 L276.9,199.2 L276.6,199.1 L276.5,199.0 L276.4,198.8 L276.4,198.5 L276.5,198.0 L277.0,196.8 L278.2,194.5 L279.6,192.5 L281.0,190.8 L282.4,189.2 L283.6,188.2 L285.1,187.1 L286.4,186.4 L287.9,185.7 L289.1,185.3 L289.9,185.2 L290.4,185.2 L291.1,185.3 L291.5,185.5 L291.8,185.8 L292.1,186.2 L292.2,187.0 L292.1,187.8 L291.8,188.8 L291.3,189.8 L290.5,191.0 L289.7,192.0 L288.6,193.0 L287.6,193.9 L286.4,194.9 L284.9,195.9 L283.6,196.6 L281.6,197.7 L279.6,198.6 L278.4,199.1 L277.4,199.3Z M268.4,208.5 L267.1,208.6 L265.9,208.5 L264.9,208.2 L264.4,207.9 L263.9,207.5 L263.6,207.2 L263.3,206.8 L263.1,206.0 L263.1,205.2 L263.2,204.8 L263.5,204.2 L264.1,203.5 L265.1,202.8 L266.1,202.2 L267.4,201.8 L268.9,201.6 L270.4,201.6 L271.6,201.7 L272.1,201.8 L272.6,202.0 L273.0,202.2 L273.2,202.5 L273.4,203.0 L273.4,203.5 L273.3,204.5 L273.0,205.2 L272.7,205.8 L272.4,206.2 L271.9,206.8 L270.9,207.6 L269.6,208.2 L268.4,208.5Z " fill="#9bd334"/>
<path d="M281.6,196.5 L280.9,196.7 L280.4,196.7 L279.9,196.7 L279.6,196.6 L279.5,196.5 L279.3,196.2 L279.2,196.0 L279.2,195.5 L279.5,194.5 L280.1,193.2 L281.1,191.8 L282.1,190.5 L283.1,189.4 L284.4,188.4 L285.6,187.5 L286.9,186.9 L288.1,186.4 L289.1,186.3 L289.6,186.3 L290.1,186.4 L290.6,186.7 L290.9,187.2 L291.0,187.8 L291.0,188.2 L290.7,189.0 L290.4,189.8 L289.9,190.5 L288.7,192.0 L287.1,193.5 L285.4,194.7 L283.4,195.8 L281.6,196.5Z M267.6,208.0 L266.6,208.0 L265.6,207.8 L264.9,207.4 L264.4,206.9 L264.0,206.2 L263.9,205.8 L264.0,205.0 L264.4,204.2 L264.9,203.7 L265.6,203.1 L266.6,202.7 L267.6,202.4 L268.9,202.3 L269.9,202.3 L270.6,202.5 L271.4,202.9 L271.8,203.2 L272.0,203.5 L272.1,203.8 L272.2,204.2 L272.1,204.8 L272.0,205.2 L271.6,206.0 L270.9,206.8 L269.9,207.4 L268.9,207.8 L267.6,208.0Z " fill="#f1e81d"/>
<path d="M282.4,195.3 L281.6,195.3 L281.1,195.1 L280.9,194.8 L280.8,194.5 L280.8,194.0 L281.0,193.2 L281.6,192.2 L282.3,191.2 L282.9,190.5 L283.7,189.8 L284.6,188.9 L285.6,188.2 L286.6,187.7 L287.6,187.4 L288.4,187.2 L288.9,187.3 L289.5,187.5 L289.7,187.8 L289.9,188.2 L289.8,188.8 L289.7,189.2 L289.5,189.8 L289.1,190.5 L288.1,191.8 L286.9,192.9 L285.4,194.0 L283.9,194.8 L283.1,195.1 L282.4,195.3Z M268.6,207.3 L267.6,207.5 L266.6,207.4 L265.9,207.2 L265.2,206.8 L264.9,206.2 L264.7,206.0 L264.7,205.5 L264.8,205.0 L264.9,204.8 L265.2,204.2 L265.8,203.8 L266.4,203.4 L267.1,203.1 L267.9,203.0 L268.6,202.9 L269.4,203.0 L270.1,203.2 L270.6,203.5 L271.0,204.0 L271.2,204.5 L271.2,205.0 L271.0,205.5 L270.7,206.0 L270.1,206.5 L269.4,207.0 L268.6,207.3Z " fill="#f9b21c"/>
<path d="M283.6,194.0 L283.1,194.1 L282.6,194.1 L282.4,194.0 L282.2,193.8 L282.1,193.5 L282.1,193.0 L282.4,192.2 L282.9,191.5 L283.5,190.8 L284.1,190.1 L284.9,189.4 L285.6,188.9 L286.4,188.5 L287.1,188.3 L287.6,188.2 L288.2,188.2 L288.6,188.5 L288.7,188.8 L288.8,189.0 L288.7,189.8 L288.3,190.5 L287.5,191.5 L286.6,192.4 L285.6,193.1 L284.6,193.7 L283.6,194.0Z M268.4,206.8 L267.6,206.9 L266.9,206.9 L266.4,206.7 L265.9,206.4 L265.6,206.0 L265.4,205.5 L265.5,205.0 L265.8,204.5 L266.1,204.2 L266.6,203.9 L267.1,203.7 L267.9,203.5 L268.6,203.5 L269.1,203.6 L269.6,203.8 L270.0,204.0 L270.2,204.2 L270.4,204.8 L270.4,205.0 L270.2,205.5 L269.9,205.9 L269.5,206.2 L269.1,206.5 L268.4,206.8Z " fill="#f2641f"/>
<path d="M284.1,193.0 L283.6,193.0 L283.4,192.8 L283.3,192.5 L283.3,192.2 L283.5,191.8 L284.0,191.0 L284.9,190.2 L285.9,189.5 L286.6,189.2 L287.1,189.2 L287.4,189.3 L287.6,189.5 L287.7,189.8 L287.6,190.0 L287.5,190.5 L286.9,191.2 L286.2,192.0 L285.5,192.5 L284.9,192.8 L284.1,193.0Z M268.1,206.3 L267.6,206.4 L267.1,206.3 L266.6,206.1 L266.4,205.9 L266.2,205.5 L266.2,205.2 L266.4,204.8 L266.7,204.5 L267.4,204.1 L268.1,204.0 L268.9,204.2 L269.4,204.5 L269.5,204.8 L269.5,205.0 L269.4,205.5 L268.9,206.0 L268.1,206.3Z " fill="#e8211f"/>
</g>
<line x1="223.9" y1="200" x2="308.7" y2="200" stroke="#5a5a5a" stroke-width="0.8"/>
<line x1="274.3" y1="157.5" x2="274.3" y2="238.3" stroke="#5a5a5a" stroke-width="0.8"/>
<rect x="223.9" y="157.5" width="84.8" height="80.8" fill="none" stroke="#000" stroke-width="1.15"/>
<path d="M221.6,238.3H223.9 M223.9,238.3V240.5 M221.6,224.83H223.9 M238.03,238.3V240.5 M221.6,211.37H223.9 M252.17,238.3V240.5 M221.6,197.9H223.9 M266.3,238.3V240.5 M221.6,184.43H223.9 M280.43,238.3V240.5 M221.6,170.97H223.9 M294.57,238.3V240.5 M221.6,157.5H223.9 M308.7,238.3V240.5 " stroke="#111" stroke-width="0.8" fill="none"/>
<path d="M222.7,234.25H223.9 M228.15,238.3V239.5 M222.7,231.87H223.9 M230.64,238.3V239.5 M222.7,230.19H223.9 M232.41,238.3V239.5 M222.7,228.89H223.9 M233.78,238.3V239.5 M222.7,227.82H223.9 M234.9,238.3V239.5 M222.7,226.92H223.9 M235.84,238.3V239.5 M222.7,226.14H223.9 M236.66,238.3V239.5 M222.7,225.45H223.9 M237.39,238.3V239.5 M222.7,220.78H223.9 M242.29,238.3V239.5 M222.7,218.41H223.9 M244.78,238.3V239.5 M222.7,216.73H223.9 M246.54,238.3V239.5 M222.7,215.42H223.9 M247.91,238.3V239.5 M222.7,214.35H223.9 M249.03,238.3V239.5 M222.7,213.45H223.9 M249.98,238.3V239.5 M222.7,212.67H223.9 M250.8,238.3V239.5 M222.7,211.98H223.9 M251.52,238.3V239.5 M222.7,207.31H223.9 M256.42,238.3V239.5 M222.7,204.94H223.9 M258.91,238.3V239.5 M222.7,203.26H223.9 M260.68,238.3V239.5 M222.7,201.95H223.9 M262.05,238.3V239.5 M222.7,200.89H223.9 M263.16,238.3V239.5 M222.7,199.99H223.9 M264.11,238.3V239.5 M222.7,199.21H223.9 M264.93,238.3V239.5 M222.7,198.52H223.9 M265.65,238.3V239.5 M222.7,193.85H223.9 M270.55,238.3V239.5 M222.7,191.47H223.9 M273.04,238.3V239.5 M222.7,189.79H223.9 M274.81,238.3V239.5 M222.7,188.49H223.9 M276.18,238.3V239.5 M222.7,187.42H223.9 M277.3,238.3V239.5 M222.7,186.52H223.9 M278.24,238.3V239.5 M222.7,185.74H223.9 M279.06,238.3V239.5 M222.7,185.05H223.9 M279.79,238.3V239.5 M222.7,180.38H223.9 M284.69,238.3V239.5 M222.7,178.01H223.9 M287.18,238.3V239.5 M222.7,176.33H223.9 M288.94,238.3V239.5 M222.7,175.02H223.9 M290.31,238.3V239.5 M222.7,173.95H223.9 M291.43,238.3V239.5 M222.7,173.05H223.9 M292.38,238.3V239.5 M222.7,172.27H223.9 M293.2,238.3V239.5 M222.7,171.58H223.9 M293.92,238.3V239.5 M222.7,166.91H223.9 M298.82,238.3V239.5 M222.7,164.54H223.9 M301.31,238.3V239.5 M222.7,162.86H223.9 M303.08,238.3V239.5 M222.7,161.55H223.9 M304.45,238.3V239.5 M222.7,160.49H223.9 M305.56,238.3V239.5 M222.7,159.59H223.9 M306.51,238.3V239.5 M222.7,158.81H223.9 M307.33,238.3V239.5 M222.7,158.12H223.9 M308.05,238.3V239.5 " stroke="#111" stroke-width="0.45" fill="none"/>
<text x="220.2" y="239.45" font-size="6" text-anchor="end" fill="#231f20">10<tspan dy="-2.7" font-size="4.44">0</tspan></text>
<text x="220.2" y="226.7" font-size="6" text-anchor="end" fill="#231f20">10<tspan dy="-2.7" font-size="4.44">1</tspan></text>
<text x="220.2" y="213.95" font-size="6" text-anchor="end" fill="#231f20">10<tspan dy="-2.7" font-size="4.44">2</tspan></text>
<text x="220.2" y="201.2" font-size="6" text-anchor="end" fill="#231f20">10<tspan dy="-2.7" font-size="4.44">3</tspan></text>
<text x="220.2" y="188.45" font-size="6" text-anchor="end" fill="#231f20">10<tspan dy="-2.7" font-size="4.44">4</tspan></text>
<text x="220.2" y="175.7" font-size="6" text-anchor="end" fill="#231f20">10<tspan dy="-2.7" font-size="4.44">5</tspan></text>
<text x="220.2" y="162.95" font-size="6" text-anchor="end" fill="#231f20">10<tspan dy="-2.7" font-size="4.44">6</tspan></text>
<text x="224.1" y="248.4" font-size="6" text-anchor="middle" fill="#231f20">10<tspan dy="-2.7" font-size="4.44">0</tspan></text>
<text x="252.03" y="248.4" font-size="6" text-anchor="middle" fill="#231f20">10<tspan dy="-2.7" font-size="4.44">2</tspan></text>
<text x="279.97" y="248.4" font-size="6" text-anchor="middle" fill="#231f20">10<tspan dy="-2.7" font-size="4.44">4</tspan></text>
<text x="307.9" y="248.4" font-size="6" text-anchor="middle" fill="#231f20">10<tspan dy="-2.7" font-size="4.44">6</tspan></text>
<text x="228.1" y="166.5" font-size="6.4" fill="#333">iii</text>
<clipPath id="cp3"><rect x="328.3" y="157.5" width="83.7" height="80.8"/></clipPath>
<g clip-path="url(#cp3)">
<path d="M371.3,214.0 L369.6,214.1 L368.1,214.1 L366.6,213.9 L364.8,213.4 L363.6,212.9 L362.3,212.2 L361.2,211.2 L360.3,210.2 L359.8,209.2 L359.3,208.0 L359.1,206.8 L359.2,205.5 L359.5,204.2 L360.0,203.0 L360.7,201.8 L361.7,200.5 L362.8,199.3 L364.1,198.3 L365.3,197.4 L368.8,195.3 L370.8,193.7 L373.8,191.0 L379.6,185.4 L382.6,182.7 L385.6,180.4 L387.1,179.4 L389.1,178.1 L391.8,176.6 L394.6,175.4 L397.3,174.4 L401.3,173.2 L403.6,172.7 L404.6,172.5 L405.3,172.5 L406.1,172.6 L406.6,172.7 L407.1,172.9 L407.6,173.2 L407.9,173.8 L408.1,174.2 L408.1,175.0 L408.0,176.0 L407.4,177.5 L404.6,184.0 L403.2,186.8 L400.1,192.1 L397.2,197.5 L395.9,199.5 L394.3,201.5 L392.6,203.3 L390.3,205.2 L387.8,206.9 L384.8,208.6 L380.1,211.1 L378.3,211.9 L376.6,212.7 L375.3,213.1 L373.8,213.6 L372.6,213.8 L371.3,214.0Z " fill="#22358f"/>
<path d="M371.8,212.5 L370.6,212.6 L369.1,212.6 L367.6,212.4 L366.3,212.1 L365.1,211.5 L364.1,210.9 L363.1,210.1 L362.4,209.2 L361.8,208.2 L361.5,207.2 L361.3,206.2 L361.4,205.0 L361.7,203.8 L362.2,202.5 L362.8,201.5 L363.6,200.5 L364.6,199.6 L365.6,198.8 L366.6,198.1 L369.2,196.5 L370.8,195.4 L373.1,193.2 L379.8,186.8 L382.1,184.8 L385.1,182.4 L386.8,181.2 L388.3,180.2 L391.1,178.6 L393.6,177.4 L396.8,176.1 L400.3,174.8 L402.3,174.3 L403.8,174.1 L404.6,174.1 L405.1,174.2 L405.6,174.4 L405.8,174.6 L406.1,175.0 L406.2,175.2 L406.2,175.8 L406.2,176.5 L405.9,177.2 L405.4,178.5 L403.8,181.5 L401.9,185.5 L400.5,188.0 L397.5,192.8 L394.8,197.2 L393.6,199.0 L392.4,200.5 L391.2,201.8 L389.8,203.0 L388.3,204.1 L386.3,205.3 L381.4,208.0 L377.6,210.4 L376.1,211.2 L375.1,211.6 L373.8,212.1 L372.8,212.3 L371.8,212.5Z " fill="#2558c0"/>
<path d="M371.6,211.5 L370.6,211.6 L369.3,211.6 L368.1,211.4 L367.1,211.1 L366.1,210.6 L365.1,210.0 L364.2,209.2 L363.7,208.5 L363.1,207.5 L362.8,206.5 L362.7,205.5 L362.8,204.5 L363.1,203.5 L363.5,202.5 L364.1,201.5 L364.7,200.8 L365.6,200.0 L366.6,199.2 L367.6,198.6 L370.0,197.2 L371.4,196.2 L372.6,195.2 L380.3,187.9 L382.6,185.8 L385.3,183.6 L388.3,181.5 L390.3,180.4 L392.8,179.1 L395.6,177.9 L399.3,176.4 L401.1,175.8 L402.3,175.6 L403.3,175.6 L403.7,175.8 L404.1,176.0 L404.2,176.2 L404.3,176.5 L404.4,177.0 L404.3,177.5 L404.0,178.2 L403.5,179.2 L401.8,182.3 L399.5,186.8 L397.4,190.0 L394.6,194.0 L392.4,197.0 L390.8,199.0 L389.3,200.4 L387.8,201.6 L386.1,202.8 L382.3,205.0 L380.8,206.0 L379.8,206.8 L377.3,208.9 L376.1,209.8 L375.1,210.4 L374.1,210.9 L372.8,211.3 L371.6,211.5Z " fill="#2c86e0"/>
<path d="M372.1,210.8 L371.1,210.9 L369.8,210.9 L368.8,210.8 L367.8,210.5 L366.8,210.1 L366.1,209.7 L365.2,209.0 L364.6,208.2 L364.1,207.5 L363.7,206.5 L363.6,205.8 L363.6,204.8 L363.8,203.8 L364.2,202.8 L364.6,202.0 L365.3,201.2 L366.1,200.4 L367.1,199.7 L368.1,199.1 L370.7,197.8 L371.4,197.2 L372.1,196.8 L379.8,189.4 L382.6,186.8 L385.3,184.6 L388.1,182.7 L390.3,181.3 L392.6,180.1 L394.8,179.1 L397.8,177.9 L399.6,177.3 L400.8,177.0 L401.3,177.0 L401.8,177.0 L402.1,177.1 L402.4,177.2 L402.5,177.5 L402.6,178.0 L402.5,178.5 L402.3,179.2 L399.2,185.0 L398.2,186.8 L396.9,188.8 L395.1,191.2 L393.1,193.8 L391.3,195.9 L389.1,198.2 L387.1,199.9 L385.1,201.4 L381.1,204.0 L380.1,204.8 L379.1,205.7 L377.3,207.8 L376.1,208.9 L375.1,209.6 L374.1,210.1 L373.1,210.5 L372.1,210.8Z " fill="#3fc0e8"/>
<path d="M371.8,210.3 L370.8,210.4 L369.8,210.4 L368.8,210.2 L367.8,209.9 L367.1,209.6 L366.1,209.0 L365.6,208.5 L365.0,207.8 L364.6,207.0 L364.4,206.2 L364.2,205.2 L364.3,204.5 L364.4,203.8 L364.7,203.0 L365.1,202.2 L365.8,201.4 L366.6,200.7 L367.6,200.0 L368.6,199.4 L371.1,198.2 L371.9,197.8 L372.6,197.3 L373.3,196.6 L376.9,193.0 L382.3,187.9 L385.3,185.4 L388.1,183.4 L389.8,182.3 L391.6,181.4 L393.6,180.4 L395.6,179.6 L397.6,178.9 L399.1,178.5 L400.1,178.4 L400.3,178.5 L400.6,178.6 L400.7,178.8 L400.8,179.0 L400.8,179.2 L400.7,179.8 L400.6,180.2 L399.6,182.2 L397.9,185.5 L396.7,187.5 L395.5,189.2 L393.9,191.2 L392.1,193.4 L389.3,196.2 L386.6,198.7 L384.1,200.6 L380.6,203.0 L379.6,203.8 L378.6,204.9 L376.8,207.2 L376.1,208.0 L375.6,208.5 L374.8,209.1 L373.8,209.6 L372.8,210.0 L371.8,210.3Z " fill="#46cfae"/>
<path d="M371.6,209.8 L370.8,209.9 L369.8,209.8 L368.8,209.7 L368.1,209.4 L367.3,209.1 L366.6,208.6 L366.0,208.0 L365.6,207.5 L365.2,206.8 L365.0,206.0 L364.9,205.2 L364.9,204.5 L365.1,203.8 L365.4,203.0 L365.8,202.2 L366.3,201.7 L367.3,200.8 L368.3,200.1 L369.3,199.6 L371.8,198.6 L372.5,198.2 L373.1,197.8 L373.8,197.1 L377.3,193.5 L382.3,188.7 L385.3,186.1 L388.1,184.1 L389.8,183.0 L391.6,182.1 L393.1,181.4 L394.6,180.8 L396.1,180.3 L397.3,180.1 L398.1,180.1 L398.3,180.2 L398.6,180.3 L398.7,180.8 L398.8,181.0 L398.6,182.0 L398.0,183.5 L397.1,185.2 L396.2,186.8 L395.2,188.2 L393.9,190.0 L392.3,191.8 L391.1,193.1 L389.6,194.6 L386.1,197.6 L383.3,199.8 L379.8,202.3 L378.8,203.1 L378.1,204.0 L376.9,206.0 L376.4,206.8 L375.8,207.5 L375.1,208.2 L374.3,208.7 L373.6,209.1 L372.6,209.5 L371.6,209.8Z " fill="#4cc257"/>
<path d="M371.8,208.5 L371.1,208.7 L370.3,208.7 L369.6,208.6 L369.1,208.5 L368.3,208.2 L367.8,207.9 L367.3,207.5 L366.9,207.0 L366.6,206.5 L366.3,205.8 L366.2,205.2 L366.2,204.5 L366.4,203.8 L366.7,203.2 L367.0,202.8 L367.4,202.2 L368.3,201.5 L369.6,200.8 L370.8,200.4 L373.8,199.8 L374.3,199.6 L374.8,199.3 L375.3,198.7 L376.4,197.0 L377.3,195.8 L378.6,194.2 L380.2,192.5 L382.2,190.5 L384.1,188.8 L385.8,187.3 L387.6,186.0 L389.8,184.6 L391.1,184.0 L392.1,183.6 L393.1,183.3 L393.8,183.2 L394.3,183.3 L394.7,183.5 L394.9,183.8 L395.0,184.0 L395.0,184.5 L394.8,185.2 L394.5,186.0 L394.0,187.0 L393.3,188.0 L392.4,189.2 L391.5,190.2 L390.1,191.8 L388.3,193.4 L386.1,195.2 L383.8,196.9 L382.1,198.2 L380.8,199.0 L379.6,199.7 L377.8,200.6 L377.1,201.0 L376.7,201.5 L376.4,202.0 L375.9,204.2 L375.7,205.0 L375.3,205.8 L374.9,206.5 L374.2,207.2 L373.6,207.8 L372.8,208.2 L371.8,208.5Z " fill="#9bd334"/>
<path d="M379.6,198.1 L378.8,198.2 L378.6,198.2 L378.2,198.0 L378.0,197.8 L378.0,197.5 L378.1,197.0 L378.3,196.5 L379.0,195.2 L380.2,193.8 L381.7,192.0 L383.4,190.2 L385.1,188.8 L386.6,187.6 L388.1,186.5 L389.3,185.8 L390.6,185.2 L391.8,184.9 L392.6,184.9 L392.9,185.0 L393.1,185.2 L393.2,185.5 L393.2,185.8 L393.1,186.2 L392.8,187.0 L392.4,187.8 L391.9,188.5 L391.1,189.5 L389.3,191.4 L386.8,193.5 L383.8,195.8 L381.3,197.3 L380.3,197.8 L379.6,198.1Z M371.3,208.0 L370.3,208.1 L369.3,207.9 L368.6,207.6 L367.8,207.0 L367.3,206.2 L367.0,205.5 L366.9,204.8 L367.0,204.2 L367.2,203.8 L367.6,203.0 L368.3,202.3 L369.1,201.8 L369.8,201.4 L370.8,201.1 L371.8,201.0 L372.8,201.0 L373.8,201.2 L374.3,201.5 L374.6,201.8 L374.8,202.2 L375.0,202.8 L375.0,203.2 L375.0,204.0 L374.9,204.8 L374.7,205.2 L374.2,206.2 L373.5,207.0 L372.6,207.6 L372.1,207.8 L371.3,208.0Z " fill="#f1e81d"/>
<path d="M382.1,195.5 L381.3,195.7 L381.1,195.6 L380.9,195.5 L380.8,195.2 L380.8,195.0 L381.0,194.5 L381.4,193.8 L382.1,192.8 L383.0,191.8 L384.1,190.5 L385.2,189.5 L386.3,188.6 L387.3,187.9 L388.3,187.3 L389.3,186.7 L390.1,186.5 L390.8,186.4 L391.2,186.5 L391.4,186.8 L391.4,187.0 L391.3,187.5 L391.1,188.0 L390.3,189.2 L388.9,190.8 L387.3,192.2 L385.6,193.5 L383.6,194.8 L382.1,195.5Z M371.8,207.3 L371.3,207.4 L370.6,207.5 L369.8,207.4 L369.3,207.2 L368.8,207.0 L368.2,206.5 L367.9,206.0 L367.7,205.5 L367.6,205.0 L367.7,204.2 L367.9,203.8 L368.2,203.2 L368.6,202.8 L369.3,202.3 L369.8,202.0 L370.6,201.8 L371.3,201.7 L371.8,201.7 L372.6,201.8 L373.1,202.0 L373.5,202.2 L373.8,202.5 L374.1,203.0 L374.2,203.5 L374.3,204.0 L374.2,204.8 L374.0,205.2 L373.8,205.8 L373.4,206.2 L372.9,206.8 L372.3,207.1 L371.8,207.3Z " fill="#f9b21c"/>
<path d="M384.6,193.0 L384.1,193.1 L383.8,193.1 L383.7,193.0 L383.6,192.8 L383.8,192.2 L384.1,191.8 L385.2,190.5 L386.6,189.4 L387.8,188.5 L388.3,188.3 L388.8,188.2 L389.1,188.2 L389.3,188.2 L389.3,188.5 L389.3,188.8 L389.1,189.2 L388.7,189.8 L388.0,190.5 L387.2,191.2 L386.3,192.0 L385.5,192.5 L384.6,193.0Z M371.6,206.8 L371.1,207.0 L370.6,207.0 L370.1,206.9 L369.5,206.8 L369.1,206.5 L368.8,206.2 L368.4,205.8 L368.2,205.2 L368.2,204.8 L368.3,204.2 L368.7,203.5 L369.1,203.1 L369.5,202.8 L370.1,202.5 L370.6,202.3 L371.6,202.3 L372.1,202.3 L372.6,202.5 L372.9,202.8 L373.2,203.0 L373.3,203.2 L373.5,203.8 L373.6,204.2 L373.5,204.8 L373.3,205.5 L372.9,206.0 L372.6,206.3 L372.1,206.6 L371.6,206.8Z " fill="#f2641f"/>
<path d="M370.8,206.5 L370.1,206.4 L369.6,206.2 L369.2,206.0 L369.0,205.8 L368.8,205.2 L368.7,205.0 L368.7,204.5 L368.8,204.2 L369.1,203.8 L369.3,203.5 L369.8,203.1 L370.3,202.9 L370.8,202.8 L371.3,202.7 L371.8,202.8 L372.3,203.0 L372.8,203.5 L373.0,204.0 L373.0,204.2 L373.0,204.8 L372.8,205.2 L372.7,205.5 L372.2,206.0 L371.6,206.4 L370.8,206.5Z " fill="#e8211f"/>
</g>
<line x1="328.3" y1="199.3" x2="412" y2="199.3" stroke="#5a5a5a" stroke-width="0.8"/>
<line x1="376.3" y1="157.5" x2="376.3" y2="238.3" stroke="#5a5a5a" stroke-width="0.8"/>
<rect x="328.3" y="157.5" width="83.7" height="80.8" fill="none" stroke="#000" stroke-width="1.15"/>
<path d="M326,238.3H328.3 M328.3,238.3V240.5 M326,224.83H328.3 M342.25,238.3V240.5 M326,211.37H328.3 M356.2,238.3V240.5 M326,197.9H328.3 M370.15,238.3V240.5 M326,184.43H328.3 M384.1,238.3V240.5 M326,170.97H328.3 M398.05,238.3V240.5 M326,157.5H328.3 M412,238.3V240.5 " stroke="#111" stroke-width="0.8" fill="none"/>
<path d="M327.1,234.25H328.3 M332.5,238.3V239.5 M327.1,231.87H328.3 M334.96,238.3V239.5 M327.1,230.19H328.3 M336.7,238.3V239.5 M327.1,228.89H328.3 M338.05,238.3V239.5 M327.1,227.82H328.3 M339.16,238.3V239.5 M327.1,226.92H328.3 M340.09,238.3V239.5 M327.1,226.14H328.3 M340.9,238.3V239.5 M327.1,225.45H328.3 M341.61,238.3V239.5 M327.1,220.78H328.3 M346.45,238.3V239.5 M327.1,218.41H328.3 M348.91,238.3V239.5 M327.1,216.73H328.3 M350.65,238.3V239.5 M327.1,215.42H328.3 M352,238.3V239.5 M327.1,214.35H328.3 M353.11,238.3V239.5 M327.1,213.45H328.3 M354.04,238.3V239.5 M327.1,212.67H328.3 M354.85,238.3V239.5 M327.1,211.98H328.3 M355.56,238.3V239.5 M327.1,207.31H328.3 M360.4,238.3V239.5 M327.1,204.94H328.3 M362.86,238.3V239.5 M327.1,203.26H328.3 M364.6,238.3V239.5 M327.1,201.95H328.3 M365.95,238.3V239.5 M327.1,200.89H328.3 M367.06,238.3V239.5 M327.1,199.99H328.3 M367.99,238.3V239.5 M327.1,199.21H328.3 M368.8,238.3V239.5 M327.1,198.52H328.3 M369.51,238.3V239.5 M327.1,193.85H328.3 M374.35,238.3V239.5 M327.1,191.47H328.3 M376.81,238.3V239.5 M327.1,189.79H328.3 M378.55,238.3V239.5 M327.1,188.49H328.3 M379.9,238.3V239.5 M327.1,187.42H328.3 M381.01,238.3V239.5 M327.1,186.52H328.3 M381.94,238.3V239.5 M327.1,185.74H328.3 M382.75,238.3V239.5 M327.1,185.05H328.3 M383.46,238.3V239.5 M327.1,180.38H328.3 M388.3,238.3V239.5 M327.1,178.01H328.3 M390.76,238.3V239.5 M327.1,176.33H328.3 M392.5,238.3V239.5 M327.1,175.02H328.3 M393.85,238.3V239.5 M327.1,173.95H328.3 M394.96,238.3V239.5 M327.1,173.05H328.3 M395.89,238.3V239.5 M327.1,172.27H328.3 M396.7,238.3V239.5 M327.1,171.58H328.3 M397.41,238.3V239.5 M327.1,166.91H328.3 M402.25,238.3V239.5 M327.1,164.54H328.3 M404.71,238.3V239.5 M327.1,162.86H328.3 M406.45,238.3V239.5 M327.1,161.55H328.3 M407.8,238.3V239.5 M327.1,160.49H328.3 M408.91,238.3V239.5 M327.1,159.59H328.3 M409.84,238.3V239.5 M327.1,158.81H328.3 M410.65,238.3V239.5 M327.1,158.12H328.3 M411.36,238.3V239.5 " stroke="#111" stroke-width="0.45" fill="none"/>
<text x="324.6" y="239.45" font-size="6" text-anchor="end" fill="#231f20">10<tspan dy="-2.7" font-size="4.44">0</tspan></text>
<text x="324.6" y="226.7" font-size="6" text-anchor="end" fill="#231f20">10<tspan dy="-2.7" font-size="4.44">1</tspan></text>
<text x="324.6" y="213.95" font-size="6" text-anchor="end" fill="#231f20">10<tspan dy="-2.7" font-size="4.44">2</tspan></text>
<text x="324.6" y="201.2" font-size="6" text-anchor="end" fill="#231f20">10<tspan dy="-2.7" font-size="4.44">3</tspan></text>
<text x="324.6" y="188.45" font-size="6" text-anchor="end" fill="#231f20">10<tspan dy="-2.7" font-size="4.44">4</tspan></text>
<text x="324.6" y="175.7" font-size="6" text-anchor="end" fill="#231f20">10<tspan dy="-2.7" font-size="4.44">5</tspan></text>
<text x="324.6" y="162.95" font-size="6" text-anchor="end" fill="#231f20">10<tspan dy="-2.7" font-size="4.44">6</tspan></text>
<text x="328.5" y="248.4" font-size="6" text-anchor="middle" fill="#231f20">10<tspan dy="-2.7" font-size="4.44">0</tspan></text>
<text x="356.07" y="248.4" font-size="6" text-anchor="middle" fill="#231f20">10<tspan dy="-2.7" font-size="4.44">2</tspan></text>
<text x="383.63" y="248.4" font-size="6" text-anchor="middle" fill="#231f20">10<tspan dy="-2.7" font-size="4.44">4</tspan></text>
<text x="411.2" y="248.4" font-size="6" text-anchor="middle" fill="#231f20">10<tspan dy="-2.7" font-size="4.44">6</tspan></text>
<text x="332.5" y="166.5" font-size="6.4" fill="#333">iv</text>
<clipPath id="cp4"><rect x="431.5" y="157.5" width="83.3" height="80.8"/></clipPath>
<g clip-path="url(#cp4)">
<path d="M471.8,212.8 L470.5,213.0 L469.0,213.0 L467.8,212.9 L466.5,212.5 L465.5,212.1 L464.5,211.4 L463.8,210.6 L463.2,209.8 L462.9,208.8 L462.7,207.8 L462.8,206.5 L463.1,205.2 L463.6,204.0 L464.1,203.0 L465.0,201.8 L466.0,200.7 L466.8,199.9 L467.8,199.1 L468.8,198.4 L469.8,197.8 L471.8,196.9 L476.0,195.2 L477.0,194.7 L478.0,193.9 L479.0,193.0 L480.2,191.7 L484.8,185.8 L486.3,184.0 L487.9,182.2 L489.8,180.5 L491.8,178.8 L493.8,177.3 L496.0,175.8 L498.5,174.4 L500.8,173.3 L503.2,172.4 L505.2,171.8 L506.2,171.6 L507.5,171.5 L508.5,171.4 L509.2,171.5 L510.0,171.6 L510.8,171.8 L511.2,172.1 L511.8,172.5 L512.0,172.8 L512.2,173.2 L512.3,173.8 L512.3,174.5 L512.2,175.2 L511.9,176.0 L511.3,177.5 L510.4,179.2 L509.2,181.0 L507.6,183.0 L506.0,184.7 L504.0,186.6 L501.5,188.6 L499.0,190.4 L494.8,193.2 L493.0,194.5 L490.4,196.5 L487.6,199.0 L486.0,200.5 L485.0,201.8 L484.2,202.8 L482.4,205.8 L481.4,207.0 L480.3,208.2 L479.0,209.4 L477.2,210.7 L475.5,211.6 L473.5,212.4 L471.8,212.8Z " fill="#22358f"/>
<path d="M472.0,211.3 L470.8,211.4 L469.5,211.4 L468.5,211.2 L467.5,210.9 L466.8,210.5 L466.0,209.9 L465.5,209.2 L465.1,208.5 L464.8,207.8 L464.7,206.8 L464.8,205.8 L465.1,204.8 L465.5,203.8 L466.1,202.8 L466.9,201.8 L467.6,201.0 L468.4,200.2 L469.2,199.6 L471.0,198.6 L472.8,197.8 L476.2,196.6 L477.2,196.1 L478.2,195.4 L479.5,194.2 L481.2,192.3 L482.5,190.7 L486.0,186.0 L487.3,184.5 L488.7,183.0 L490.2,181.5 L492.0,179.9 L493.8,178.6 L495.8,177.2 L498.0,175.9 L500.0,174.9 L502.2,173.9 L504.2,173.3 L506.2,173.0 L508.0,172.9 L509.2,173.1 L509.8,173.3 L510.2,173.7 L510.6,174.2 L510.7,174.8 L510.7,175.2 L510.3,176.5 L509.7,178.0 L508.6,179.8 L507.6,181.2 L506.1,183.0 L504.7,184.5 L502.8,186.3 L500.5,188.1 L498.2,189.7 L494.0,192.5 L491.9,194.0 L489.8,195.8 L485.4,199.5 L484.1,200.8 L483.2,201.7 L482.5,202.8 L481.3,204.8 L480.5,206.0 L479.4,207.2 L478.2,208.4 L477.0,209.3 L475.5,210.1 L473.8,210.9 L472.0,211.3Z " fill="#2558c0"/>
<path d="M472.8,210.0 L471.8,210.2 L470.8,210.2 L469.8,210.1 L469.0,209.9 L468.2,209.6 L467.5,209.1 L467.0,208.6 L466.6,208.0 L466.3,207.2 L466.2,206.5 L466.3,205.5 L466.5,204.8 L466.9,203.8 L467.3,203.0 L467.9,202.2 L468.6,201.5 L469.2,200.9 L470.0,200.3 L471.5,199.4 L473.0,198.8 L476.5,197.7 L477.5,197.3 L478.5,196.5 L480.2,194.8 L482.7,192.0 L484.2,190.1 L487.3,186.0 L488.4,184.8 L489.5,183.5 L490.8,182.2 L492.2,180.9 L493.8,179.7 L495.5,178.4 L497.5,177.2 L499.5,176.1 L501.5,175.3 L503.5,174.6 L505.5,174.2 L507.0,174.1 L507.8,174.1 L508.2,174.2 L508.8,174.5 L509.0,174.7 L509.2,175.0 L509.3,175.2 L509.3,176.0 L509.0,177.0 L508.4,178.2 L507.6,179.5 L506.3,181.2 L505.1,182.8 L503.8,184.1 L502.0,185.7 L500.0,187.3 L497.8,188.9 L493.8,191.5 L491.8,193.0 L483.4,200.0 L482.4,201.0 L481.8,201.8 L481.2,202.5 L479.9,205.0 L479.1,206.0 L478.2,207.0 L477.5,207.7 L476.5,208.4 L475.2,209.1 L474.0,209.7 L472.8,210.0Z " fill="#2c86e0"/>
<path d="M472.5,209.3 L471.5,209.4 L470.8,209.4 L470.0,209.2 L469.3,209.0 L468.8,208.7 L468.2,208.2 L467.8,207.8 L467.5,207.2 L467.3,206.8 L467.2,206.0 L467.3,205.2 L467.5,204.5 L467.8,203.8 L468.3,203.0 L468.9,202.2 L469.4,201.8 L470.5,200.9 L472.0,200.0 L473.5,199.4 L476.1,198.8 L476.9,198.5 L477.9,198.0 L478.8,197.3 L480.2,195.8 L484.2,191.3 L485.5,189.7 L488.1,186.2 L490.0,184.0 L491.2,182.7 L492.8,181.4 L494.2,180.2 L495.8,179.1 L497.2,178.1 L499.2,177.0 L500.8,176.4 L502.8,175.6 L504.5,175.1 L506.0,174.9 L506.8,174.9 L507.2,174.9 L507.8,175.1 L508.0,175.3 L508.2,175.5 L508.3,175.8 L508.4,176.0 L508.4,176.5 L508.2,177.2 L507.7,178.2 L506.9,179.5 L505.7,181.0 L504.4,182.5 L503.0,183.9 L501.2,185.4 L499.5,186.8 L498.0,187.9 L494.0,190.5 L492.0,192.0 L486.5,196.6 L482.0,200.2 L481.3,201.0 L480.7,201.8 L479.4,204.2 L478.6,205.5 L477.8,206.5 L477.0,207.2 L476.0,207.9 L474.8,208.6 L473.5,209.0 L472.5,209.3Z " fill="#3fc0e8"/>
<path d="M473.0,208.5 L472.2,208.6 L471.5,208.7 L470.8,208.6 L470.2,208.5 L469.8,208.3 L469.2,208.0 L468.7,207.5 L468.4,207.0 L468.2,206.5 L468.1,205.8 L468.1,205.2 L468.3,204.5 L468.6,203.8 L469.0,203.2 L469.5,202.5 L470.0,202.0 L471.2,201.1 L472.5,200.4 L474.0,199.9 L476.5,199.4 L477.2,199.2 L478.2,198.8 L479.0,198.2 L480.0,197.1 L482.0,194.8 L485.5,190.8 L486.5,189.5 L488.6,186.5 L490.3,184.5 L491.5,183.2 L492.8,182.1 L494.2,180.8 L495.5,179.9 L497.5,178.6 L499.2,177.7 L501.0,176.8 L503.0,176.1 L504.8,175.6 L506.0,175.5 L506.5,175.5 L507.0,175.7 L507.4,176.0 L507.6,176.5 L507.6,177.0 L507.3,177.8 L506.8,178.8 L506.1,179.8 L505.1,181.0 L504.0,182.2 L502.8,183.4 L501.0,185.0 L499.2,186.3 L497.8,187.4 L493.7,190.0 L492.0,191.2 L486.0,196.4 L481.2,199.9 L480.6,200.5 L480.1,201.2 L478.4,204.5 L477.9,205.2 L477.2,206.1 L476.2,207.0 L475.2,207.6 L474.2,208.1 L473.0,208.5Z " fill="#46cfae"/>
<path d="M481.8,198.1 L481.5,198.1 L481.2,198.0 L481.2,197.8 L481.2,197.5 L481.7,196.5 L482.4,195.5 L483.4,194.2 L486.6,190.5 L489.0,187.0 L490.2,185.5 L491.7,183.8 L493.5,182.1 L495.2,180.7 L497.2,179.3 L499.5,178.1 L501.5,177.1 L503.5,176.4 L504.8,176.2 L505.5,176.1 L506.0,176.2 L506.3,176.2 L506.6,176.5 L506.8,176.8 L506.8,177.0 L506.8,177.5 L506.5,178.2 L505.9,179.2 L505.2,180.2 L504.1,181.5 L503.0,182.6 L501.8,183.7 L500.0,185.1 L498.2,186.4 L493.8,189.2 L491.9,190.5 L490.4,191.8 L486.8,194.9 L485.0,196.3 L484.0,196.9 L483.0,197.5 L482.2,197.9 L481.8,198.1Z M473.2,207.8 L472.0,207.9 L471.0,207.8 L470.2,207.5 L469.8,207.2 L469.5,206.9 L469.1,206.2 L469.0,205.8 L469.0,205.2 L469.1,204.8 L469.3,204.2 L469.8,203.2 L470.5,202.5 L471.2,201.9 L472.2,201.3 L473.2,200.8 L474.2,200.6 L475.8,200.3 L477.8,200.2 L478.5,200.3 L478.7,200.5 L478.8,200.8 L478.8,201.2 L478.6,202.0 L478.1,203.5 L477.7,204.2 L477.3,205.0 L476.4,206.0 L475.5,206.7 L474.5,207.3 L473.2,207.8Z " fill="#4cc257"/>
<path d="M492.0,188.5 L491.5,188.6 L491.0,188.7 L490.8,188.6 L490.6,188.5 L490.5,188.2 L490.4,188.0 L490.5,187.5 L490.7,187.0 L491.4,185.8 L492.4,184.5 L493.6,183.2 L495.0,182.0 L496.5,180.9 L498.0,179.9 L499.8,178.9 L501.2,178.2 L502.8,177.6 L503.8,177.4 L504.5,177.5 L504.8,177.6 L505.0,177.8 L505.1,178.0 L505.1,178.5 L504.9,179.0 L504.4,179.8 L503.9,180.5 L503.2,181.2 L501.2,183.1 L499.2,184.6 L497.8,185.6 L496.5,186.4 L494.2,187.6 L493.0,188.2 L492.0,188.5Z M473.8,205.6 L473.2,205.7 L472.8,205.7 L472.2,205.6 L472.0,205.5 L471.8,205.2 L471.7,205.0 L471.7,204.8 L471.8,204.2 L472.0,203.9 L472.3,203.5 L473.0,203.0 L473.5,202.8 L474.0,202.7 L474.5,202.6 L475.0,202.8 L475.3,203.0 L475.5,203.2 L475.5,203.5 L475.4,204.0 L475.1,204.5 L474.8,204.9 L474.2,205.3 L473.8,205.6Z " fill="#9bd334"/>
<path d="M493.2,187.3 L492.5,187.4 L492.0,187.3 L491.8,187.0 L491.8,186.8 L491.9,186.2 L492.3,185.5 L493.0,184.5 L494.0,183.5 L495.2,182.3 L496.5,181.4 L498.0,180.3 L499.2,179.6 L500.5,179.0 L501.8,178.4 L502.8,178.2 L503.5,178.1 L503.8,178.2 L504.0,178.3 L504.1,178.5 L504.2,178.8 L504.1,179.0 L504.0,179.5 L503.7,180.0 L502.6,181.2 L501.0,182.8 L499.0,184.3 L497.0,185.6 L495.0,186.7 L494.0,187.1 L493.2,187.3Z " fill="#f1e81d"/>
<path d="M493.8,186.5 L493.2,186.5 L492.9,186.2 L492.9,186.0 L492.9,185.8 L493.1,185.2 L493.6,184.5 L494.2,183.8 L495.3,182.8 L496.2,181.9 L497.2,181.2 L498.5,180.4 L499.8,179.7 L500.8,179.2 L501.8,178.9 L502.5,178.7 L503.0,178.8 L503.3,179.0 L503.4,179.2 L503.2,179.8 L503.0,180.2 L502.6,180.8 L501.4,182.0 L500.0,183.2 L498.5,184.3 L496.8,185.4 L495.0,186.2 L494.2,186.4 L493.8,186.5Z " fill="#f9b21c"/>
<path d="M495.0,185.8 L494.2,185.9 L493.8,185.8 L493.7,185.5 L493.8,185.0 L494.1,184.5 L494.7,183.8 L495.4,183.0 L496.3,182.2 L498.2,180.8 L499.2,180.2 L500.2,179.8 L501.0,179.5 L501.8,179.3 L502.2,179.3 L502.6,179.5 L502.6,179.8 L502.6,180.0 L502.2,180.8 L501.3,181.8 L500.2,182.8 L498.8,183.8 L497.5,184.6 L496.2,185.3 L495.0,185.8Z " fill="#f2641f"/>
<path d="M495.5,185.3 L495.0,185.4 L494.8,185.3 L494.5,185.3 L494.4,185.0 L494.4,184.8 L494.7,184.2 L495.3,183.5 L496.6,182.2 L498.2,181.1 L499.2,180.5 L500.0,180.1 L500.8,179.8 L501.2,179.7 L501.8,179.7 L502.0,179.9 L502.0,180.2 L501.6,181.0 L501.0,181.8 L499.9,182.8 L498.8,183.6 L497.5,184.4 L496.2,185.0 L495.5,185.3Z " fill="#e8211f"/>
</g>
<line x1="431.5" y1="195.3" x2="514.8" y2="195.3" stroke="#5a5a5a" stroke-width="0.8"/>
<line x1="483.5" y1="157.5" x2="483.5" y2="238.3" stroke="#5a5a5a" stroke-width="0.8"/>
<rect x="431.5" y="157.5" width="83.3" height="80.8" fill="none" stroke="#000" stroke-width="1.15"/>
<path d="M429.2,238.3H431.5 M431.5,238.3V240.5 M429.2,224.83H431.5 M445.38,238.3V240.5 M429.2,211.37H431.5 M459.27,238.3V240.5 M429.2,197.9H431.5 M473.15,238.3V240.5 M429.2,184.43H431.5 M487.03,238.3V240.5 M429.2,170.97H431.5 M500.92,238.3V240.5 M429.2,157.5H431.5 M514.8,238.3V240.5 " stroke="#111" stroke-width="0.8" fill="none"/>
<path d="M430.3,234.25H431.5 M435.68,238.3V239.5 M430.3,231.87H431.5 M438.12,238.3V239.5 M430.3,230.19H431.5 M439.86,238.3V239.5 M430.3,228.89H431.5 M441.2,238.3V239.5 M430.3,227.82H431.5 M442.3,238.3V239.5 M430.3,226.92H431.5 M443.23,238.3V239.5 M430.3,226.14H431.5 M444.04,238.3V239.5 M430.3,225.45H431.5 M444.75,238.3V239.5 M430.3,220.78H431.5 M449.56,238.3V239.5 M430.3,218.41H431.5 M452.01,238.3V239.5 M430.3,216.73H431.5 M453.74,238.3V239.5 M430.3,215.42H431.5 M455.09,238.3V239.5 M430.3,214.35H431.5 M456.19,238.3V239.5 M430.3,213.45H431.5 M457.12,238.3V239.5 M430.3,212.67H431.5 M457.92,238.3V239.5 M430.3,211.98H431.5 M458.63,238.3V239.5 M430.3,207.31H431.5 M463.45,238.3V239.5 M430.3,204.94H431.5 M465.89,238.3V239.5 M430.3,203.26H431.5 M467.63,238.3V239.5 M430.3,201.95H431.5 M468.97,238.3V239.5 M430.3,200.89H431.5 M470.07,238.3V239.5 M430.3,199.99H431.5 M471,238.3V239.5 M430.3,199.21H431.5 M471.8,238.3V239.5 M430.3,198.52H431.5 M472.51,238.3V239.5 M430.3,193.85H431.5 M477.33,238.3V239.5 M430.3,191.47H431.5 M479.77,238.3V239.5 M430.3,189.79H431.5 M481.51,238.3V239.5 M430.3,188.49H431.5 M482.85,238.3V239.5 M430.3,187.42H431.5 M483.95,238.3V239.5 M430.3,186.52H431.5 M484.88,238.3V239.5 M430.3,185.74H431.5 M485.69,238.3V239.5 M430.3,185.05H431.5 M486.4,238.3V239.5 M430.3,180.38H431.5 M491.21,238.3V239.5 M430.3,178.01H431.5 M493.66,238.3V239.5 M430.3,176.33H431.5 M495.39,238.3V239.5 M430.3,175.02H431.5 M496.74,238.3V239.5 M430.3,173.95H431.5 M497.84,238.3V239.5 M430.3,173.05H431.5 M498.77,238.3V239.5 M430.3,172.27H431.5 M499.57,238.3V239.5 M430.3,171.58H431.5 M500.28,238.3V239.5 M430.3,166.91H431.5 M505.1,238.3V239.5 M430.3,164.54H431.5 M507.54,238.3V239.5 M430.3,162.86H431.5 M509.28,238.3V239.5 M430.3,161.55H431.5 M510.62,238.3V239.5 M430.3,160.49H431.5 M511.72,238.3V239.5 M430.3,159.59H431.5 M512.65,238.3V239.5 M430.3,158.81H431.5 M513.45,238.3V239.5 M430.3,158.12H431.5 M514.16,238.3V239.5 " stroke="#111" stroke-width="0.45" fill="none"/>
<text x="427.8" y="239.45" font-size="6" text-anchor="end" fill="#231f20">10<tspan dy="-2.7" font-size="4.44">0</tspan></text>
<text x="427.8" y="226.7" font-size="6" text-anchor="end" fill="#231f20">10<tspan dy="-2.7" font-size="4.44">1</tspan></text>
<text x="427.8" y="213.95" font-size="6" text-anchor="end" fill="#231f20">10<tspan dy="-2.7" font-size="4.44">2</tspan></text>
<text x="427.8" y="201.2" font-size="6" text-anchor="end" fill="#231f20">10<tspan dy="-2.7" font-size="4.44">3</tspan></text>
<text x="427.8" y="188.45" font-size="6" text-anchor="end" fill="#231f20">10<tspan dy="-2.7" font-size="4.44">4</tspan></text>
<text x="427.8" y="175.7" font-size="6" text-anchor="end" fill="#231f20">10<tspan dy="-2.7" font-size="4.44">5</tspan></text>
<text x="427.8" y="162.95" font-size="6" text-anchor="end" fill="#231f20">10<tspan dy="-2.7" font-size="4.44">6</tspan></text>
<text x="431.7" y="248.4" font-size="6" text-anchor="middle" fill="#231f20">10<tspan dy="-2.7" font-size="4.44">0</tspan></text>
<text x="459.13" y="248.4" font-size="6" text-anchor="middle" fill="#231f20">10<tspan dy="-2.7" font-size="4.44">2</tspan></text>
<text x="486.57" y="248.4" font-size="6" text-anchor="middle" fill="#231f20">10<tspan dy="-2.7" font-size="4.44">4</tspan></text>
<text x="514" y="248.4" font-size="6" text-anchor="middle" fill="#231f20">10<tspan dy="-2.7" font-size="4.44">6</tspan></text>
<text x="435.7" y="166.5" font-size="6.4" fill="#333">v</text>
<path d="M10.5,217.5V252.8H48.5" stroke="#000" stroke-width="1" fill="none"/>
<path d="M7,218.6L10.5,212.2L14,218.6Z" fill="#000"/>
<path d="M47.6,249.3L54,252.8L47.6,256.3Z" fill="#000"/>
<text transform="translate(7.3,250.6) rotate(-90)" font-size="6.4" fill="#231f20">BCMA-scFv</text>
<text x="13" y="263.2" font-size="6.4" fill="#231f20">GPRC5D-scFv</text>
</g>
<g id="secC">
<text x="91.6" y="293.5" font-size="11.3" font-weight="bold" fill="#000">C</text>
<line x1="128.6" y1="321.75" x2="292.2" y2="321.75" stroke="#7fcdee" stroke-width="0.7" opacity="0.45"/>
<polygon points="128.6,321.75 128.6,321.75 129.1,321.75 129.6,321.75 130.1,321.75 130.6,321.75 131.1,321.75 131.6,321.75 132.1,321.75 132.6,321.75 133.1,321.75 133.6,321.75 134.1,321.75 134.6,321.75 135.1,321.75 135.6,321.75 136.1,321.75 136.6,321.75 137.1,321.75 137.6,321.75 138.1,321.75 138.6,321.75 139.1,321.75 139.6,321.75 140.1,321.75 140.6,321.75 141.1,321.75 141.6,321.75 142.1,321.75 142.6,321.75 143.1,321.75 143.6,321.75 144.1,321.75 144.6,321.75 145.1,321.75 145.6,321.75 146.1,321.75 146.6,321.75 147.1,321.75 147.6,321.75 148.1,321.75 148.6,321.75 149.1,321.75 149.6,321.75 150.1,321.75 150.6,321.75 151.1,321.75 151.6,321.75 152.1,321.75 152.6,321.75 153.1,321.75 153.6,321.75 154.1,321.75 154.6,321.75 155.1,321.75 155.6,321.75 156.1,321.75 156.6,321.75 157.1,321.75 157.6,321.75 158.1,321.75 158.6,321.75 159.1,321.75 159.6,321.75 160.1,321.75 160.6,321.75 161.1,321.75 161.6,321.75 162.1,321.75 162.6,321.75 163.1,321.75 163.6,321.75 164.1,321.75 164.6,321.75 165.1,321.75 165.6,321.75 166.1,321.75 166.6,321.75 167.1,321.75 167.6,321.75 168.1,321.75 168.6,321.75 169.1,321.75 169.6,321.75 170.1,321.75 170.6,321.75 171.1,321.75 171.6,321.75 172.1,321.75 172.6,321.75 173.1,321.75 173.6,321.75 174.1,321.75 174.6,321.75 175.1,321.75 175.6,321.75 176.1,321.75 176.6,321.75 177.1,321.75 177.6,321.75 178.1,321.75 178.6,321.75 179.1,321.75 179.6,321.75 180.1,321.75 180.6,321.75 181.1,321.75 181.6,321.75 182.1,321.75 182.6,321.75 183.1,321.75 183.6,321.75 184.1,321.75 184.6,321.75 185.1,321.75 185.6,321.75 186.1,321.75 186.6,321.75 187.1,321.75 187.6,321.75 188.1,321.75 188.6,321.75 189.1,321.59 189.6,321.57 190.1,321.53 190.6,321.48 191.1,321.44 191.6,321.39 192.1,321.31 192.6,321.27 193.1,321.2 193.6,321.11 194.1,321.04 194.6,320.78 195.1,320.8 195.6,320.58 196.1,320.57 196.6,320.44 197.1,320.03 197.6,319.94 198.1,319.93 198.6,319.67 199.1,319.22 199.6,319.02 200.1,318.58 200.6,318.64 201.1,318.14 201.6,317.8 202.1,317.61 202.6,317.25 203.1,317.2 203.6,317.43 204.1,316.82 204.6,317.24 205.1,316.74 205.6,316.82 206.1,316.79 206.6,317.23 207.1,317.46 207.6,317.28 208.1,317.26 208.6,318.1 209.1,317.99 209.6,318.17 210.1,318.8 210.6,318.12 211.1,318.97 211.6,319.45 212.1,318.99 212.6,319.64 213.1,319.62 213.6,319.59 214.1,320.11 214.6,319.99 215.1,320.24 215.6,320.21 216.1,320.56 216.6,320.53 217.1,320.41 217.6,320.35 218.1,320.42 218.6,320.34 219.1,320.57 219.6,320.81 220.1,320.82 220.6,321.17 221.1,320.99 221.6,321.08 222.1,320.92 222.6,320.98 223.1,321.04 223.6,321.09 224.1,321.09 224.6,321.09 225.1,321.12 225.6,321.15 226.1,321.13 226.6,321.18 227.1,321.18 227.6,321.16 228.1,321.12 228.6,321.15 229.1,321.17 229.6,321.13 230.1,321.12 230.6,321.1 231.1,321.12 231.6,321.11 232.1,321.08 232.6,321.06 233.1,321.01 233.6,320.98 234.1,321.02 234.6,321 235.1,320.96 235.6,321 236.1,320.86 236.6,320.69 237.1,320.84 237.6,320.71 238.1,320.82 238.6,320.85 239.1,320.78 239.6,320.8 240.1,320.39 240.6,320.67 241.1,320.23 241.6,320.9 242.1,320.44 242.6,320.32 243.1,320.43 243.6,320.12 244.1,320 244.6,320.28 245.1,319.99 245.6,319.51 246.1,319.88 246.6,319.83 247.1,319.81 247.6,319.75 248.1,319.8 248.6,319.48 249.1,319.13 249.6,319.25 250.1,319.16 250.6,318.92 251.1,318.66 251.6,318.81 252.1,318.58 252.6,318.66 253.1,318.55 253.6,318.16 254.1,318.82 254.6,318.27 255.1,317.95 255.6,317.9 256.1,317.85 256.6,317.57 257.1,317.62 257.6,316.8 258.1,316.9 258.6,316.59 259.1,315.89 259.6,316.42 260.1,316.01 260.6,315.82 261.1,315.85 261.6,315.78 262.1,315.64 262.6,315.04 263.1,315.13 263.6,314.83 264.1,315.29 264.6,314.29 265.1,314.68 265.6,314.62 266.1,314.59 266.6,314.92 267.1,314.92 267.6,314.53 268.1,314.83 268.6,314.81 269.1,315.18 269.6,314.88 270.1,315.34 270.6,315.11 271.1,315.32 271.6,315.67 272.1,315.78 272.6,316.1 273.1,316.1 273.6,316.17 274.1,316.88 274.6,317.23 275.1,317.59 275.6,317.86 276.1,318.12 276.6,317.95 277.1,318.36 277.6,318.27 278.1,318.48 278.6,319.06 279.1,319.01 279.6,319.21 280.1,318.95 280.6,319.5 281.1,319.68 281.6,319.56 282.1,319.43 282.6,319.78 283.1,319.54 283.6,319.89 284.1,319.94 284.6,320.2 285.1,320.13 285.6,320.4 286.1,320.83 286.6,320.52 287.1,320.99 287.6,320.85 288.1,321.15 288.6,321.01 289.1,321.16 289.6,321.23 290.1,321.3 290.6,321.38 291.1,321.46 291.6,321.5 292.1,321.56 292.1,321.75" fill="#7fcdee"/>
<path d="M188.6,321.75 L189.1,321.59 L189.6,321.57 L190.1,321.53 L190.6,321.48 L191.1,321.44 L191.6,321.39 L192.1,321.31 L192.6,321.27 L193.1,321.2 L193.6,321.11 L194.1,321.04 L194.6,320.78 L195.1,320.8 L195.6,320.58 L196.1,320.57 L196.6,320.44 L197.1,320.03 L197.6,319.94 L198.1,319.93 L198.6,319.67 L199.1,319.22 L199.6,319.02 L200.1,318.58 L200.6,318.64 L201.1,318.14 L201.6,317.8 L202.1,317.61 L202.6,317.25 L203.1,317.2 L203.6,317.43 L204.1,316.82 L204.6,317.24 L205.1,316.74 L205.6,316.82 L206.1,316.79 L206.6,317.23 L207.1,317.46 L207.6,317.28 L208.1,317.26 L208.6,318.1 L209.1,317.99 L209.6,318.17 L210.1,318.8 L210.6,318.12 L211.1,318.97 L211.6,319.45 L212.1,318.99 L212.6,319.64 L213.1,319.62 L213.6,319.59 L214.1,320.11 L214.6,319.99 L215.1,320.24 L215.6,320.21 L216.1,320.56 L216.6,320.53 L217.1,320.41 L217.6,320.35 L218.1,320.42 L218.6,320.34 L219.1,320.57 L219.6,320.81 L220.1,320.82 L220.6,321.17 L221.1,320.99 L221.6,321.08 L222.1,320.92 L222.6,320.98 L223.1,321.04 L223.6,321.09 L224.1,321.09 L224.6,321.09 L225.1,321.12 L225.6,321.15 L226.1,321.13 L226.6,321.18 L227.1,321.18 L227.6,321.16 L228.1,321.12 L228.6,321.15 L229.1,321.17 L229.6,321.13 L230.1,321.12 L230.6,321.1 L231.1,321.12 L231.6,321.11 L232.1,321.08 L232.6,321.06 L233.1,321.01 L233.6,320.98 L234.1,321.02 L234.6,321 L235.1,320.96 L235.6,321 L236.1,320.86 L236.6,320.69 L237.1,320.84 L237.6,320.71 L238.1,320.82 L238.6,320.85 L239.1,320.78 L239.6,320.8 L240.1,320.39 L240.6,320.67 L241.1,320.23 L241.6,320.9 L242.1,320.44 L242.6,320.32 L243.1,320.43 L243.6,320.12 L244.1,320 L244.6,320.28 L245.1,319.99 L245.6,319.51 L246.1,319.88 L246.6,319.83 L247.1,319.81 L247.6,319.75 L248.1,319.8 L248.6,319.48 L249.1,319.13 L249.6,319.25 L250.1,319.16 L250.6,318.92 L251.1,318.66 L251.6,318.81 L252.1,318.58 L252.6,318.66 L253.1,318.55 L253.6,318.16 L254.1,318.82 L254.6,318.27 L255.1,317.95 L255.6,317.9 L256.1,317.85 L256.6,317.57 L257.1,317.62 L257.6,316.8 L258.1,316.9 L258.6,316.59 L259.1,315.89 L259.6,316.42 L260.1,316.01 L260.6,315.82 L261.1,315.85 L261.6,315.78 L262.1,315.64 L262.6,315.04 L263.1,315.13 L263.6,314.83 L264.1,315.29 L264.6,314.29 L265.1,314.68 L265.6,314.62 L266.1,314.59 L266.6,314.92 L267.1,314.92 L267.6,314.53 L268.1,314.83 L268.6,314.81 L269.1,315.18 L269.6,314.88 L270.1,315.34 L270.6,315.11 L271.1,315.32 L271.6,315.67 L272.1,315.78 L272.6,316.1 L273.1,316.1 L273.6,316.17 L274.1,316.88 L274.6,317.23 L275.1,317.59 L275.6,317.86 L276.1,318.12 L276.6,317.95 L277.1,318.36 L277.6,318.27 L278.1,318.48 L278.6,319.06 L279.1,319.01 L279.6,319.21 L280.1,318.95 L280.6,319.5 L281.1,319.68 L281.6,319.56 L282.1,319.43 L282.6,319.78 L283.1,319.54 L283.6,319.89 L284.1,319.94 L284.6,320.2 L285.1,320.13 L285.6,320.4 L286.1,320.83 L286.6,320.52 L287.1,320.99 L287.6,320.85 L288.1,321.15 L288.6,321.01 L289.1,321.16 L289.6,321.23 L290.1,321.3 L290.6,321.38 L291.1,321.46 L291.6,321.5 L292.1,321.56" fill="none" stroke="#49b3e3" stroke-width="0.55" stroke-linejoin="round"/>
<line x1="128.6" y1="341.25" x2="292.2" y2="341.25" stroke="#fcd08f" stroke-width="0.7" opacity="0.45"/>
<polygon points="128.6,341.25 128.6,341.25 129.1,341.25 129.6,341.25 130.1,341.25 130.6,341.25 131.1,341.25 131.6,341.25 132.1,341.25 132.6,341.25 133.1,341.25 133.6,341.25 134.1,341.25 134.6,341.25 135.1,341.25 135.6,341.25 136.1,341.25 136.6,341.25 137.1,341.25 137.6,341.25 138.1,341.25 138.6,341.25 139.1,341.25 139.6,341.25 140.1,341.25 140.6,341.25 141.1,341.25 141.6,341.25 142.1,341.25 142.6,341.25 143.1,341.25 143.6,341.25 144.1,341.25 144.6,341.25 145.1,341.25 145.6,341.25 146.1,341.25 146.6,341.25 147.1,341.25 147.6,341.25 148.1,341.25 148.6,341.25 149.1,341.25 149.6,341.25 150.1,341.25 150.6,341.25 151.1,341.25 151.6,341.25 152.1,341.25 152.6,341.25 153.1,341.25 153.6,341.25 154.1,341.25 154.6,341.25 155.1,341.25 155.6,341.25 156.1,341.25 156.6,341.25 157.1,341.25 157.6,341.25 158.1,341.25 158.6,341.25 159.1,341.25 159.6,341.25 160.1,341.25 160.6,341.25 161.1,341.25 161.6,341.25 162.1,341.25 162.6,341.25 163.1,341.25 163.6,341.25 164.1,341.25 164.6,341.25 165.1,341.25 165.6,341.25 166.1,341.25 166.6,341.25 167.1,341.25 167.6,341.25 168.1,341.25 168.6,341.25 169.1,341.25 169.6,341.25 170.1,341.25 170.6,341.25 171.1,341.25 171.6,341.25 172.1,341.25 172.6,341.25 173.1,341.25 173.6,341.25 174.1,341.25 174.6,341.25 175.1,341.25 175.6,341.25 176.1,341.25 176.6,341.25 177.1,341.25 177.6,341.25 178.1,341.25 178.6,341.25 179.1,341.25 179.6,341.25 180.1,341.25 180.6,341.25 181.1,341.25 181.6,341.25 182.1,341.25 182.6,341.25 183.1,341.25 183.6,341.25 184.1,341.25 184.6,341.25 185.1,341.25 185.6,341.25 186.1,341.25 186.6,341.25 187.1,341.25 187.6,341.25 188.1,341.07 188.6,341.02 189.1,340.97 189.6,340.92 190.1,340.85 190.6,340.79 191.1,340.66 191.6,340.6 192.1,340.46 192.6,340.32 193.1,340.18 193.6,340.07 194.1,339.77 194.6,339.64 195.1,339.17 195.6,339.16 196.1,338.69 196.6,338.02 197.1,338.26 197.6,337.58 198.1,337.09 198.6,336.6 199.1,336.09 199.6,335.87 200.1,334.67 200.6,334.52 201.1,334.26 201.6,334.03 202.1,333.3 202.6,332.98 203.1,332.78 203.6,332.51 204.1,332.89 204.6,333.01 205.1,333.05 205.6,332.85 206.1,333.3 206.6,333.93 207.1,333.84 207.6,334.77 208.1,334.97 208.6,335.29 209.1,335.79 209.6,336.51 210.1,336.63 210.6,336.65 211.1,336.97 211.6,338.03 212.1,338.22 212.6,338.21 213.1,338.29 213.6,338.84 214.1,338.87 214.6,339.5 215.1,339.34 215.6,339.57 216.1,339.74 216.6,339.96 217.1,340.07 217.6,340.37 218.1,340.49 218.6,340.51 219.1,340.55 219.6,340.65 220.1,340.75 220.6,340.75 221.1,340.78 221.6,340.77 222.1,340.79 222.6,340.78 223.1,340.78 223.6,340.76 224.1,340.74 224.6,340.75 225.1,340.76 225.6,340.73 226.1,340.67 226.6,340.67 227.1,340.66 227.6,340.65 228.1,340.59 228.6,340.59 229.1,340.57 229.6,340.56 230.1,340.53 230.6,340.5 231.1,340.45 231.6,340.51 232.1,340.04 232.6,340.55 233.1,340.64 233.6,340.31 234.1,340.24 234.6,340.05 235.1,340.27 235.6,339.95 236.1,339.7 236.6,340.02 237.1,339.87 237.6,339.94 238.1,339.54 238.6,339.36 239.1,339.33 239.6,339.2 240.1,338.92 240.6,339.05 241.1,338.75 241.6,338.97 242.1,338.83 242.6,338.5 243.1,338.71 243.6,338.23 244.1,338 244.6,337.87 245.1,338.05 245.6,337.8 246.1,337.36 246.6,337.43 247.1,337.07 247.6,337.04 248.1,336.74 248.6,336.33 249.1,336.26 249.6,336.31 250.1,335.51 250.6,335.5 251.1,335.21 251.6,334.79 252.1,334.27 252.6,334.09 253.1,333.18 253.6,333.59 254.1,332.86 254.6,332.44 255.1,332.65 255.6,331.77 256.1,332.07 256.6,331.56 257.1,330.56 257.6,329.85 258.1,329.96 258.6,330.37 259.1,329.95 259.6,329.4 260.1,329.58 260.6,329.2 261.1,329.89 261.6,330.1 262.1,330.48 262.6,330.39 263.1,330.13 263.6,331.35 264.1,330.87 264.6,331.7 265.1,331.52 265.6,332.11 266.1,332.24 266.6,332.36 267.1,333.74 267.6,333.78 268.1,333.42 268.6,334.55 269.1,334.29 269.6,336.02 270.1,335.5 270.6,335.85 271.1,336.11 271.6,336.45 272.1,336.83 272.6,337.35 273.1,337.18 273.6,337.87 274.1,338.05 274.6,338.43 275.1,339.04 275.6,339.02 276.1,339.25 276.6,339.8 277.1,339.85 277.6,339.88 278.1,340.37 278.6,340.5 279.1,340.66 279.6,340.75 280.1,340.87 280.6,340.94 281.1,341.02 281.6,341.05 282.1,341.25 282.6,341.25 283.1,341.25 283.6,341.25 284.1,341.25 284.6,341.25 285.1,341.25 285.6,341.25 286.1,341.25 286.6,341.25 287.1,341.25 287.6,341.25 288.1,341.25 288.6,341.25 289.1,341.25 289.6,341.25 290.1,341.25 290.6,341.25 291.1,341.25 291.6,341.25 292.1,341.25 292.1,341.25" fill="#fcd08f"/>
<path d="M187.6,341.25 L188.1,341.07 L188.6,341.02 L189.1,340.97 L189.6,340.92 L190.1,340.85 L190.6,340.79 L191.1,340.66 L191.6,340.6 L192.1,340.46 L192.6,340.32 L193.1,340.18 L193.6,340.07 L194.1,339.77 L194.6,339.64 L195.1,339.17 L195.6,339.16 L196.1,338.69 L196.6,338.02 L197.1,338.26 L197.6,337.58 L198.1,337.09 L198.6,336.6 L199.1,336.09 L199.6,335.87 L200.1,334.67 L200.6,334.52 L201.1,334.26 L201.6,334.03 L202.1,333.3 L202.6,332.98 L203.1,332.78 L203.6,332.51 L204.1,332.89 L204.6,333.01 L205.1,333.05 L205.6,332.85 L206.1,333.3 L206.6,333.93 L207.1,333.84 L207.6,334.77 L208.1,334.97 L208.6,335.29 L209.1,335.79 L209.6,336.51 L210.1,336.63 L210.6,336.65 L211.1,336.97 L211.6,338.03 L212.1,338.22 L212.6,338.21 L213.1,338.29 L213.6,338.84 L214.1,338.87 L214.6,339.5 L215.1,339.34 L215.6,339.57 L216.1,339.74 L216.6,339.96 L217.1,340.07 L217.6,340.37 L218.1,340.49 L218.6,340.51 L219.1,340.55 L219.6,340.65 L220.1,340.75 L220.6,340.75 L221.1,340.78 L221.6,340.77 L222.1,340.79 L222.6,340.78 L223.1,340.78 L223.6,340.76 L224.1,340.74 L224.6,340.75 L225.1,340.76 L225.6,340.73 L226.1,340.67 L226.6,340.67 L227.1,340.66 L227.6,340.65 L228.1,340.59 L228.6,340.59 L229.1,340.57 L229.6,340.56 L230.1,340.53 L230.6,340.5 L231.1,340.45 L231.6,340.51 L232.1,340.04 L232.6,340.55 L233.1,340.64 L233.6,340.31 L234.1,340.24 L234.6,340.05 L235.1,340.27 L235.6,339.95 L236.1,339.7 L236.6,340.02 L237.1,339.87 L237.6,339.94 L238.1,339.54 L238.6,339.36 L239.1,339.33 L239.6,339.2 L240.1,338.92 L240.6,339.05 L241.1,338.75 L241.6,338.97 L242.1,338.83 L242.6,338.5 L243.1,338.71 L243.6,338.23 L244.1,338 L244.6,337.87 L245.1,338.05 L245.6,337.8 L246.1,337.36 L246.6,337.43 L247.1,337.07 L247.6,337.04 L248.1,336.74 L248.6,336.33 L249.1,336.26 L249.6,336.31 L250.1,335.51 L250.6,335.5 L251.1,335.21 L251.6,334.79 L252.1,334.27 L252.6,334.09 L253.1,333.18 L253.6,333.59 L254.1,332.86 L254.6,332.44 L255.1,332.65 L255.6,331.77 L256.1,332.07 L256.6,331.56 L257.1,330.56 L257.6,329.85 L258.1,329.96 L258.6,330.37 L259.1,329.95 L259.6,329.4 L260.1,329.58 L260.6,329.2 L261.1,329.89 L261.6,330.1 L262.1,330.48 L262.6,330.39 L263.1,330.13 L263.6,331.35 L264.1,330.87 L264.6,331.7 L265.1,331.52 L265.6,332.11 L266.1,332.24 L266.6,332.36 L267.1,333.74 L267.6,333.78 L268.1,333.42 L268.6,334.55 L269.1,334.29 L269.6,336.02 L270.1,335.5 L270.6,335.85 L271.1,336.11 L271.6,336.45 L272.1,336.83 L272.6,337.35 L273.1,337.18 L273.6,337.87 L274.1,338.05 L274.6,338.43 L275.1,339.04 L275.6,339.02 L276.1,339.25 L276.6,339.8 L277.1,339.85 L277.6,339.88 L278.1,340.37 L278.6,340.5 L279.1,340.66 L279.6,340.75 L280.1,340.87 L280.6,340.94 L281.1,341.02 L281.6,341.05 L282.1,341.25" fill="none" stroke="#f6a84b" stroke-width="0.55" stroke-linejoin="round"/>
<line x1="128.6" y1="360.75" x2="292.2" y2="360.75" stroke="#e3c9c2" stroke-width="0.7" opacity="0.45"/>
<polygon points="128.6,360.75 128.6,360.75 129.1,360.75 129.6,360.75 130.1,360.75 130.6,360.75 131.1,360.75 131.6,360.75 132.1,360.75 132.6,360.75 133.1,360.75 133.6,360.75 134.1,360.75 134.6,360.75 135.1,360.75 135.6,360.75 136.1,360.75 136.6,360.75 137.1,360.75 137.6,360.75 138.1,360.75 138.6,360.75 139.1,360.75 139.6,360.75 140.1,360.75 140.6,360.75 141.1,360.75 141.6,360.75 142.1,360.75 142.6,360.75 143.1,360.75 143.6,360.75 144.1,360.75 144.6,360.75 145.1,360.75 145.6,360.75 146.1,360.75 146.6,360.75 147.1,360.75 147.6,360.75 148.1,360.75 148.6,360.75 149.1,360.75 149.6,360.75 150.1,360.75 150.6,360.75 151.1,360.75 151.6,360.75 152.1,360.75 152.6,360.75 153.1,360.75 153.6,360.75 154.1,360.75 154.6,360.75 155.1,360.75 155.6,360.75 156.1,360.75 156.6,360.75 157.1,360.75 157.6,360.75 158.1,360.75 158.6,360.75 159.1,360.75 159.6,360.75 160.1,360.75 160.6,360.75 161.1,360.75 161.6,360.75 162.1,360.75 162.6,360.75 163.1,360.75 163.6,360.75 164.1,360.75 164.6,360.75 165.1,360.75 165.6,360.75 166.1,360.75 166.6,360.75 167.1,360.75 167.6,360.75 168.1,360.75 168.6,360.75 169.1,360.75 169.6,360.75 170.1,360.75 170.6,360.75 171.1,360.75 171.6,360.75 172.1,360.75 172.6,360.75 173.1,360.75 173.6,360.75 174.1,360.75 174.6,360.75 175.1,360.75 175.6,360.75 176.1,360.75 176.6,360.75 177.1,360.75 177.6,360.75 178.1,360.75 178.6,360.75 179.1,360.75 179.6,360.75 180.1,360.75 180.6,360.75 181.1,360.75 181.6,360.75 182.1,360.75 182.6,360.75 183.1,360.75 183.6,360.75 184.1,360.75 184.6,360.75 185.1,360.75 185.6,360.75 186.1,360.75 186.6,360.58 187.1,360.53 187.6,360.48 188.1,360.44 188.6,360.39 189.1,360.32 189.6,360.26 190.1,360.21 190.6,360.1 191.1,360.06 191.6,359.77 192.1,359.58 192.6,359.72 193.1,359.79 193.6,359.33 194.1,359.23 194.6,358.86 195.1,358.69 195.6,358.61 196.1,358.25 196.6,357.76 197.1,357.32 197.6,356.83 198.1,355.99 198.6,355.71 199.1,354.91 199.6,354.42 200.1,354.19 200.6,352.96 201.1,353.28 201.6,352.62 202.1,352.04 202.6,352.64 203.1,352.61 203.6,352.93 204.1,352.68 204.6,352.65 205.1,353.39 205.6,353.91 206.1,354.48 206.6,355.09 207.1,355.23 207.6,356.2 208.1,355.97 208.6,357.16 209.1,357.16 209.6,357.25 210.1,357.73 210.6,358.25 211.1,358.43 211.6,358.62 212.1,359.52 212.6,359.27 213.1,359.46 213.6,359.79 214.1,359.79 214.6,359.94 215.1,360.12 215.6,360.23 216.1,360.33 216.6,360.42 217.1,360.49 217.6,360.55 218.1,360.59 218.6,360.75 219.1,360.75 219.6,360.75 220.1,360.75 220.6,360.75 221.1,360.75 221.6,360.75 222.1,360.75 222.6,360.75 223.1,360.75 223.6,360.75 224.1,360.75 224.6,360.75 225.1,360.75 225.6,360.75 226.1,360.75 226.6,360.75 227.1,360.75 227.6,360.75 228.1,360.75 228.6,360.75 229.1,360.75 229.6,360.75 230.1,360.75 230.6,360.75 231.1,360.75 231.6,360.75 232.1,360.75 232.6,360.75 233.1,360.75 233.6,360.75 234.1,360.75 234.6,360.59 235.1,360.54 235.6,360.49 236.1,360.46 236.6,360.37 237.1,360.33 237.6,360.25 238.1,360.14 238.6,360.06 239.1,359.92 239.6,359.71 240.1,359.62 240.6,359.32 241.1,359.19 241.6,359.56 242.1,359.03 242.6,358.59 243.1,358.24 243.6,358.42 244.1,358.14 244.6,357.64 245.1,357.53 245.6,357.15 246.1,356.86 246.6,355.95 247.1,355.68 247.6,355.07 248.1,354.95 248.6,354.5 249.1,353.9 249.6,353.25 250.1,352.37 250.6,351.31 251.1,350.39 251.6,349.72 252.1,349.45 252.6,347.5 253.1,347.96 253.6,346.79 254.1,346.67 254.6,345.61 255.1,344.47 255.6,345.18 256.1,344.08 256.6,343.74 257.1,344.1 257.6,343.64 258.1,343.59 258.6,344.18 259.1,344.54 259.6,344.71 260.1,345.51 260.6,346.6 261.1,347.67 261.6,347.78 262.1,349.08 262.6,349.13 263.1,350.64 263.6,351.45 264.1,351.48 264.6,352.81 265.1,353.49 265.6,353.87 266.1,355.11 266.6,355.28 267.1,356.25 267.6,356.53 268.1,356.8 268.6,357.94 269.1,357.88 269.6,358.4 270.1,358.59 270.6,359.11 271.1,359.17 271.6,359.69 272.1,359.72 272.6,359.96 273.1,360.15 273.6,360.28 274.1,360.41 274.6,360.49 275.1,360.55 275.6,360.75 276.1,360.75 276.6,360.75 277.1,360.75 277.6,360.75 278.1,360.75 278.6,360.75 279.1,360.75 279.6,360.75 280.1,360.75 280.6,360.75 281.1,360.75 281.6,360.75 282.1,360.75 282.6,360.75 283.1,360.75 283.6,360.75 284.1,360.75 284.6,360.75 285.1,360.75 285.6,360.75 286.1,360.75 286.6,360.75 287.1,360.75 287.6,360.75 288.1,360.75 288.6,360.75 289.1,360.75 289.6,360.75 290.1,360.75 290.6,360.75 291.1,360.75 291.6,360.75 292.1,360.75 292.1,360.75" fill="#e3c9c2"/>
<path d="M186.1,360.75 L186.6,360.58 L187.1,360.53 L187.6,360.48 L188.1,360.44 L188.6,360.39 L189.1,360.32 L189.6,360.26 L190.1,360.21 L190.6,360.1 L191.1,360.06 L191.6,359.77 L192.1,359.58 L192.6,359.72 L193.1,359.79 L193.6,359.33 L194.1,359.23 L194.6,358.86 L195.1,358.69 L195.6,358.61 L196.1,358.25 L196.6,357.76 L197.1,357.32 L197.6,356.83 L198.1,355.99 L198.6,355.71 L199.1,354.91 L199.6,354.42 L200.1,354.19 L200.6,352.96 L201.1,353.28 L201.6,352.62 L202.1,352.04 L202.6,352.64 L203.1,352.61 L203.6,352.93 L204.1,352.68 L204.6,352.65 L205.1,353.39 L205.6,353.91 L206.1,354.48 L206.6,355.09 L207.1,355.23 L207.6,356.2 L208.1,355.97 L208.6,357.16 L209.1,357.16 L209.6,357.25 L210.1,357.73 L210.6,358.25 L211.1,358.43 L211.6,358.62 L212.1,359.52 L212.6,359.27 L213.1,359.46 L213.6,359.79 L214.1,359.79 L214.6,359.94 L215.1,360.12 L215.6,360.23 L216.1,360.33 L216.6,360.42 L217.1,360.49 L217.6,360.55 L218.1,360.59 L218.6,360.75 M234.1,360.75 L234.6,360.59 L235.1,360.54 L235.6,360.49 L236.1,360.46 L236.6,360.37 L237.1,360.33 L237.6,360.25 L238.1,360.14 L238.6,360.06 L239.1,359.92 L239.6,359.71 L240.1,359.62 L240.6,359.32 L241.1,359.19 L241.6,359.56 L242.1,359.03 L242.6,358.59 L243.1,358.24 L243.6,358.42 L244.1,358.14 L244.6,357.64 L245.1,357.53 L245.6,357.15 L246.1,356.86 L246.6,355.95 L247.1,355.68 L247.6,355.07 L248.1,354.95 L248.6,354.5 L249.1,353.9 L249.6,353.25 L250.1,352.37 L250.6,351.31 L251.1,350.39 L251.6,349.72 L252.1,349.45 L252.6,347.5 L253.1,347.96 L253.6,346.79 L254.1,346.67 L254.6,345.61 L255.1,344.47 L255.6,345.18 L256.1,344.08 L256.6,343.74 L257.1,344.1 L257.6,343.64 L258.1,343.59 L258.6,344.18 L259.1,344.54 L259.6,344.71 L260.1,345.51 L260.6,346.6 L261.1,347.67 L261.6,347.78 L262.1,349.08 L262.6,349.13 L263.1,350.64 L263.6,351.45 L264.1,351.48 L264.6,352.81 L265.1,353.49 L265.6,353.87 L266.1,355.11 L266.6,355.28 L267.1,356.25 L267.6,356.53 L268.1,356.8 L268.6,357.94 L269.1,357.88 L269.6,358.4 L270.1,358.59 L270.6,359.11 L271.1,359.17 L271.6,359.69 L272.1,359.72 L272.6,359.96 L273.1,360.15 L273.6,360.28 L274.1,360.41 L274.6,360.49 L275.1,360.55 L275.6,360.75" fill="none" stroke="#c39f97" stroke-width="0.55" stroke-linejoin="round"/>
<line x1="128.6" y1="380.75" x2="292.2" y2="380.75" stroke="#f59a96" stroke-width="0.7" opacity="0.45"/>
<polygon points="128.6,380.75 128.6,380.75 129.1,380.75 129.6,380.75 130.1,380.75 130.6,380.75 131.1,380.75 131.6,380.75 132.1,380.75 132.6,380.75 133.1,380.75 133.6,380.75 134.1,380.75 134.6,380.75 135.1,380.75 135.6,380.75 136.1,380.75 136.6,380.75 137.1,380.75 137.6,380.75 138.1,380.75 138.6,380.75 139.1,380.75 139.6,380.75 140.1,380.75 140.6,380.75 141.1,380.75 141.6,380.75 142.1,380.75 142.6,380.75 143.1,380.75 143.6,380.75 144.1,380.75 144.6,380.75 145.1,380.75 145.6,380.75 146.1,380.75 146.6,380.75 147.1,380.75 147.6,380.75 148.1,380.75 148.6,380.75 149.1,380.75 149.6,380.75 150.1,380.75 150.6,380.75 151.1,380.75 151.6,380.75 152.1,380.75 152.6,380.75 153.1,380.75 153.6,380.75 154.1,380.75 154.6,380.75 155.1,380.75 155.6,380.75 156.1,380.75 156.6,380.75 157.1,380.75 157.6,380.75 158.1,380.75 158.6,380.75 159.1,380.75 159.6,380.75 160.1,380.75 160.6,380.75 161.1,380.75 161.6,380.75 162.1,380.75 162.6,380.75 163.1,380.75 163.6,380.75 164.1,380.75 164.6,380.75 165.1,380.75 165.6,380.75 166.1,380.75 166.6,380.75 167.1,380.75 167.6,380.75 168.1,380.75 168.6,380.75 169.1,380.75 169.6,380.75 170.1,380.75 170.6,380.75 171.1,380.75 171.6,380.75 172.1,380.75 172.6,380.75 173.1,380.75 173.6,380.75 174.1,380.75 174.6,380.75 175.1,380.75 175.6,380.75 176.1,380.75 176.6,380.75 177.1,380.75 177.6,380.75 178.1,380.75 178.6,380.75 179.1,380.75 179.6,380.75 180.1,380.75 180.6,380.75 181.1,380.75 181.6,380.75 182.1,380.75 182.6,380.75 183.1,380.75 183.6,380.75 184.1,380.75 184.6,380.75 185.1,380.75 185.6,380.75 186.1,380.75 186.6,380.75 187.1,380.75 187.6,380.57 188.1,380.54 188.6,380.48 189.1,380.44 189.6,380.35 190.1,380.31 190.6,380.24 191.1,380.14 191.6,380.05 192.1,379.96 192.6,380.01 193.1,379.89 193.6,379.8 194.1,379.34 194.6,379.36 195.1,379.4 195.6,378.62 196.1,378.6 196.6,378.34 197.1,378.46 197.6,377.93 198.1,377.37 198.6,377.38 199.1,376.89 199.6,376.43 200.1,376.32 200.6,375.62 201.1,375.41 201.6,375.48 202.1,374.68 202.6,374.71 203.1,374.62 203.6,374.8 204.1,374.45 204.6,375.23 205.1,374.89 205.6,375.02 206.1,375.28 206.6,375.37 207.1,375.8 207.6,376.02 208.1,376.57 208.6,376.96 209.1,377.09 209.6,376.82 210.1,377.42 210.6,377.83 211.1,377.83 211.6,377.93 212.1,378.3 212.6,378.28 213.1,378.26 213.6,378.24 214.1,378.59 214.6,378.62 215.1,378.78 215.6,378.76 216.1,378.6 216.6,379.03 217.1,378.45 217.6,378.88 218.1,378.77 218.6,379.2 219.1,379 219.6,379.01 220.1,378.88 220.6,379.1 221.1,378.71 221.6,378.9 222.1,378.62 222.6,378.32 223.1,378.26 223.6,378.25 224.1,378.11 224.6,378.12 225.1,377.96 225.6,377.52 226.1,377.47 226.6,377.24 227.1,377.44 227.6,377.31 228.1,377.36 228.6,377.28 229.1,377.05 229.6,377.16 230.1,376.44 230.6,376.7 231.1,376.34 231.6,377.13 232.1,376.67 232.6,376.39 233.1,376.32 233.6,376.3 234.1,376.23 234.6,376.25 235.1,376.09 235.6,376.11 236.1,375.89 236.6,375.91 237.1,376 237.6,375.83 238.1,375.97 238.6,376.01 239.1,375.53 239.6,375.81 240.1,375.4 240.6,375.62 241.1,375.54 241.6,375.24 242.1,375.48 242.6,375.27 243.1,375.31 243.6,375.2 244.1,375.21 244.6,374.96 245.1,375.04 245.6,375.06 246.1,374.65 246.6,374.52 247.1,374.39 247.6,374.17 248.1,374.6 248.6,374.2 249.1,373.68 249.6,373.67 250.1,374.09 250.6,373.83 251.1,374.26 251.6,373.59 252.1,373.98 252.6,373.1 253.1,373.38 253.6,373.04 254.1,372.14 254.6,372.63 255.1,372.48 255.6,372.74 256.1,371.84 256.6,372.58 257.1,372.26 257.6,371.71 258.1,371.2 258.6,371.73 259.1,371.36 259.6,371.46 260.1,371.93 260.6,371.67 261.1,371.42 261.6,371.78 262.1,371.5 262.6,371.6 263.1,372.54 263.6,372.04 264.1,372.75 264.6,372.35 265.1,372.28 265.6,372.83 266.1,373.08 266.6,372.54 267.1,372.95 267.6,373.15 268.1,373.54 268.6,373.53 269.1,373.78 269.6,373.67 270.1,374.24 270.6,374.42 271.1,374.81 271.6,374.67 272.1,374.15 272.6,374.9 273.1,375.07 273.6,374.73 274.1,375.03 274.6,375.35 275.1,375.56 275.6,376.02 276.1,375.66 276.6,375.35 277.1,376.16 277.6,376.44 278.1,376.76 278.6,376.94 279.1,377 279.6,377.34 280.1,377.97 280.6,378.2 281.1,378.34 281.6,378.7 282.1,378.95 282.6,379.09 283.1,379.72 283.6,379.4 284.1,379.78 284.6,380.06 285.1,380 285.6,380.1 286.1,380.17 286.6,380.3 287.1,380.38 287.6,380.44 288.1,380.51 288.6,380.56 289.1,380.6 289.6,380.75 290.1,380.75 290.6,380.75 291.1,380.75 291.6,380.75 292.1,380.75 292.1,380.75" fill="#f59a96"/>
<path d="M187.1,380.75 L187.6,380.57 L188.1,380.54 L188.6,380.48 L189.1,380.44 L189.6,380.35 L190.1,380.31 L190.6,380.24 L191.1,380.14 L191.6,380.05 L192.1,379.96 L192.6,380.01 L193.1,379.89 L193.6,379.8 L194.1,379.34 L194.6,379.36 L195.1,379.4 L195.6,378.62 L196.1,378.6 L196.6,378.34 L197.1,378.46 L197.6,377.93 L198.1,377.37 L198.6,377.38 L199.1,376.89 L199.6,376.43 L200.1,376.32 L200.6,375.62 L201.1,375.41 L201.6,375.48 L202.1,374.68 L202.6,374.71 L203.1,374.62 L203.6,374.8 L204.1,374.45 L204.6,375.23 L205.1,374.89 L205.6,375.02 L206.1,375.28 L206.6,375.37 L207.1,375.8 L207.6,376.02 L208.1,376.57 L208.6,376.96 L209.1,377.09 L209.6,376.82 L210.1,377.42 L210.6,377.83 L211.1,377.83 L211.6,377.93 L212.1,378.3 L212.6,378.28 L213.1,378.26 L213.6,378.24 L214.1,378.59 L214.6,378.62 L215.1,378.78 L215.6,378.76 L216.1,378.6 L216.6,379.03 L217.1,378.45 L217.6,378.88 L218.1,378.77 L218.6,379.2 L219.1,379 L219.6,379.01 L220.1,378.88 L220.6,379.1 L221.1,378.71 L221.6,378.9 L222.1,378.62 L222.6,378.32 L223.1,378.26 L223.6,378.25 L224.1,378.11 L224.6,378.12 L225.1,377.96 L225.6,377.52 L226.1,377.47 L226.6,377.24 L227.1,377.44 L227.6,377.31 L228.1,377.36 L228.6,377.28 L229.1,377.05 L229.6,377.16 L230.1,376.44 L230.6,376.7 L231.1,376.34 L231.6,377.13 L232.1,376.67 L232.6,376.39 L233.1,376.32 L233.6,376.3 L234.1,376.23 L234.6,376.25 L235.1,376.09 L235.6,376.11 L236.1,375.89 L236.6,375.91 L237.1,376 L237.6,375.83 L238.1,375.97 L238.6,376.01 L239.1,375.53 L239.6,375.81 L240.1,375.4 L240.6,375.62 L241.1,375.54 L241.6,375.24 L242.1,375.48 L242.6,375.27 L243.1,375.31 L243.6,375.2 L244.1,375.21 L244.6,374.96 L245.1,375.04 L245.6,375.06 L246.1,374.65 L246.6,374.52 L247.1,374.39 L247.6,374.17 L248.1,374.6 L248.6,374.2 L249.1,373.68 L249.6,373.67 L250.1,374.09 L250.6,373.83 L251.1,374.26 L251.6,373.59 L252.1,373.98 L252.6,373.1 L253.1,373.38 L253.6,373.04 L254.1,372.14 L254.6,372.63 L255.1,372.48 L255.6,372.74 L256.1,371.84 L256.6,372.58 L257.1,372.26 L257.6,371.71 L258.1,371.2 L258.6,371.73 L259.1,371.36 L259.6,371.46 L260.1,371.93 L260.6,371.67 L261.1,371.42 L261.6,371.78 L262.1,371.5 L262.6,371.6 L263.1,372.54 L263.6,372.04 L264.1,372.75 L264.6,372.35 L265.1,372.28 L265.6,372.83 L266.1,373.08 L266.6,372.54 L267.1,372.95 L267.6,373.15 L268.1,373.54 L268.6,373.53 L269.1,373.78 L269.6,373.67 L270.1,374.24 L270.6,374.42 L271.1,374.81 L271.6,374.67 L272.1,374.15 L272.6,374.9 L273.1,375.07 L273.6,374.73 L274.1,375.03 L274.6,375.35 L275.1,375.56 L275.6,376.02 L276.1,375.66 L276.6,375.35 L277.1,376.16 L277.6,376.44 L278.1,376.76 L278.6,376.94 L279.1,377 L279.6,377.34 L280.1,377.97 L280.6,378.2 L281.1,378.34 L281.6,378.7 L282.1,378.95 L282.6,379.09 L283.1,379.72 L283.6,379.4 L284.1,379.78 L284.6,380.06 L285.1,380 L285.6,380.1 L286.1,380.17 L286.6,380.3 L287.1,380.38 L287.6,380.44 L288.1,380.51 L288.6,380.56 L289.1,380.6 L289.6,380.75" fill="none" stroke="#e8605c" stroke-width="0.55" stroke-linejoin="round"/>
<line x1="128.6" y1="400.5" x2="292.2" y2="400.5" stroke="#c595cf" stroke-width="0.7" opacity="0.45"/>
<polygon points="128.6,400.5 128.6,400.5 129.1,400.5 129.6,400.5 130.1,400.5 130.6,400.5 131.1,400.5 131.6,400.5 132.1,400.5 132.6,400.5 133.1,400.5 133.6,400.5 134.1,400.5 134.6,400.5 135.1,400.5 135.6,400.5 136.1,400.5 136.6,400.5 137.1,400.5 137.6,400.5 138.1,400.5 138.6,400.5 139.1,400.5 139.6,400.5 140.1,400.5 140.6,400.5 141.1,400.5 141.6,400.5 142.1,400.5 142.6,400.5 143.1,400.5 143.6,400.5 144.1,400.5 144.6,400.5 145.1,400.5 145.6,400.5 146.1,400.5 146.6,400.5 147.1,400.5 147.6,400.5 148.1,400.5 148.6,400.5 149.1,400.5 149.6,400.5 150.1,400.5 150.6,400.5 151.1,400.5 151.6,400.5 152.1,400.5 152.6,400.5 153.1,400.5 153.6,400.5 154.1,400.5 154.6,400.5 155.1,400.5 155.6,400.5 156.1,400.5 156.6,400.5 157.1,400.5 157.6,400.5 158.1,400.5 158.6,400.5 159.1,400.5 159.6,400.5 160.1,400.5 160.6,400.5 161.1,400.5 161.6,400.5 162.1,400.5 162.6,400.5 163.1,400.5 163.6,400.5 164.1,400.5 164.6,400.5 165.1,400.5 165.6,400.5 166.1,400.5 166.6,400.5 167.1,400.5 167.6,400.5 168.1,400.5 168.6,400.5 169.1,400.5 169.6,400.5 170.1,400.5 170.6,400.5 171.1,400.5 171.6,400.5 172.1,400.5 172.6,400.5 173.1,400.5 173.6,400.5 174.1,400.5 174.6,400.5 175.1,400.5 175.6,400.5 176.1,400.5 176.6,400.5 177.1,400.5 177.6,400.5 178.1,400.5 178.6,400.5 179.1,400.5 179.6,400.5 180.1,400.5 180.6,400.5 181.1,400.5 181.6,400.5 182.1,400.5 182.6,400.5 183.1,400.5 183.6,400.5 184.1,400.5 184.6,400.5 185.1,400.5 185.6,400.5 186.1,400.5 186.6,400.5 187.1,400.5 187.6,400.32 188.1,400.28 188.6,400.25 189.1,400.19 189.6,400.14 190.1,400.04 190.6,399.98 191.1,399.89 191.6,399.81 192.1,399.56 192.6,399.52 193.1,399.31 193.6,399.22 194.1,399.27 194.6,398.64 195.1,398.77 195.6,398.75 196.1,398.18 196.6,398.11 197.1,397.81 197.6,397.58 198.1,396.8 198.6,396.46 199.1,396.4 199.6,395.68 200.1,395.43 200.6,395.21 201.1,394.58 201.6,394.42 202.1,394.11 202.6,393.84 203.1,393.46 203.6,394.11 204.1,393.53 204.6,393.63 205.1,393.69 205.6,394.28 206.1,394.19 206.6,394.76 207.1,395 207.6,395.58 208.1,395.55 208.6,395.49 209.1,396.26 209.6,396.5 210.1,396.73 210.6,396.93 211.1,396.93 211.6,397.4 212.1,397.48 212.6,397.69 213.1,397.76 213.6,397.64 214.1,397.81 214.6,397.71 215.1,398.18 215.6,398.38 216.1,398.19 216.6,398.27 217.1,398.17 217.6,398.73 218.1,398.44 218.6,398.67 219.1,398.63 219.6,398.73 220.1,398.64 220.6,398.28 221.1,398.55 221.6,398.54 222.1,398.54 222.6,398.41 223.1,398.22 223.6,398 224.1,398.15 224.6,397.95 225.1,397.84 225.6,397.73 226.1,397.77 226.6,397.57 227.1,397.93 227.6,397.77 228.1,397.5 228.6,397.47 229.1,397.48 229.6,397.44 230.1,397.12 230.6,397.05 231.1,396.98 231.6,397.01 232.1,396.95 232.6,396.83 233.1,397.23 233.6,396.44 234.1,396.75 234.6,396.72 235.1,396.53 235.6,396.95 236.1,396.81 236.6,396.75 237.1,396.63 237.6,396.13 238.1,396.45 238.6,395.79 239.1,396.01 239.6,395.91 240.1,395.96 240.6,396.24 241.1,396.25 241.6,395.53 242.1,395.84 242.6,395.67 243.1,395.41 243.6,395.24 244.1,395.17 244.6,395.03 245.1,395.09 245.6,394.89 246.1,395.23 246.6,395.4 247.1,395.45 247.6,395.01 248.1,394.39 248.6,394.3 249.1,394.36 249.6,393.67 250.1,393.69 250.6,393.54 251.1,393.4 251.6,393.03 252.1,392.97 252.6,392.92 253.1,392.97 253.6,392.37 254.1,392.08 254.6,391.82 255.1,391.09 255.6,391.76 256.1,391.51 256.6,390.44 257.1,391.07 257.6,390.55 258.1,390.39 258.6,390.02 259.1,390.4 259.6,389.7 260.1,390.37 260.6,389.71 261.1,389.65 261.6,389.67 262.1,389.59 262.6,389.6 263.1,390.29 263.6,390.27 264.1,390.43 264.6,390.19 265.1,390.43 265.6,390.88 266.1,391.01 266.6,391.64 267.1,391.74 267.6,391.61 268.1,392.4 268.6,392 269.1,392.91 269.6,392.21 270.1,393.15 270.6,393.21 271.1,393.36 271.6,393.25 272.1,393.79 272.6,394.03 273.1,394.36 273.6,394.31 274.1,394.94 274.6,394.67 275.1,395.03 275.6,395.08 276.1,396.13 276.6,396.26 277.1,396.25 277.6,396.18 278.1,396.87 278.6,397.15 279.1,397.34 279.6,397.67 280.1,398.14 280.6,398.32 281.1,398.34 281.6,398.66 282.1,399.22 282.6,399.37 283.1,399.36 283.6,399.78 284.1,399.76 284.6,399.86 285.1,399.97 285.6,400.08 286.1,400.16 286.6,400.21 287.1,400.28 287.6,400.32 288.1,400.5 288.6,400.5 289.1,400.5 289.6,400.5 290.1,400.5 290.6,400.5 291.1,400.5 291.6,400.5 292.1,400.5 292.1,400.5" fill="#c595cf"/>
<path d="M187.1,400.5 L187.6,400.32 L188.1,400.28 L188.6,400.25 L189.1,400.19 L189.6,400.14 L190.1,400.04 L190.6,399.98 L191.1,399.89 L191.6,399.81 L192.1,399.56 L192.6,399.52 L193.1,399.31 L193.6,399.22 L194.1,399.27 L194.6,398.64 L195.1,398.77 L195.6,398.75 L196.1,398.18 L196.6,398.11 L197.1,397.81 L197.6,397.58 L198.1,396.8 L198.6,396.46 L199.1,396.4 L199.6,395.68 L200.1,395.43 L200.6,395.21 L201.1,394.58 L201.6,394.42 L202.1,394.11 L202.6,393.84 L203.1,393.46 L203.6,394.11 L204.1,393.53 L204.6,393.63 L205.1,393.69 L205.6,394.28 L206.1,394.19 L206.6,394.76 L207.1,395 L207.6,395.58 L208.1,395.55 L208.6,395.49 L209.1,396.26 L209.6,396.5 L210.1,396.73 L210.6,396.93 L211.1,396.93 L211.6,397.4 L212.1,397.48 L212.6,397.69 L213.1,397.76 L213.6,397.64 L214.1,397.81 L214.6,397.71 L215.1,398.18 L215.6,398.38 L216.1,398.19 L216.6,398.27 L217.1,398.17 L217.6,398.73 L218.1,398.44 L218.6,398.67 L219.1,398.63 L219.6,398.73 L220.1,398.64 L220.6,398.28 L221.1,398.55 L221.6,398.54 L222.1,398.54 L222.6,398.41 L223.1,398.22 L223.6,398 L224.1,398.15 L224.6,397.95 L225.1,397.84 L225.6,397.73 L226.1,397.77 L226.6,397.57 L227.1,397.93 L227.6,397.77 L228.1,397.5 L228.6,397.47 L229.1,397.48 L229.6,397.44 L230.1,397.12 L230.6,397.05 L231.1,396.98 L231.6,397.01 L232.1,396.95 L232.6,396.83 L233.1,397.23 L233.6,396.44 L234.1,396.75 L234.6,396.72 L235.1,396.53 L235.6,396.95 L236.1,396.81 L236.6,396.75 L237.1,396.63 L237.6,396.13 L238.1,396.45 L238.6,395.79 L239.1,396.01 L239.6,395.91 L240.1,395.96 L240.6,396.24 L241.1,396.25 L241.6,395.53 L242.1,395.84 L242.6,395.67 L243.1,395.41 L243.6,395.24 L244.1,395.17 L244.6,395.03 L245.1,395.09 L245.6,394.89 L246.1,395.23 L246.6,395.4 L247.1,395.45 L247.6,395.01 L248.1,394.39 L248.6,394.3 L249.1,394.36 L249.6,393.67 L250.1,393.69 L250.6,393.54 L251.1,393.4 L251.6,393.03 L252.1,392.97 L252.6,392.92 L253.1,392.97 L253.6,392.37 L254.1,392.08 L254.6,391.82 L255.1,391.09 L255.6,391.76 L256.1,391.51 L256.6,390.44 L257.1,391.07 L257.6,390.55 L258.1,390.39 L258.6,390.02 L259.1,390.4 L259.6,389.7 L260.1,390.37 L260.6,389.71 L261.1,389.65 L261.6,389.67 L262.1,389.59 L262.6,389.6 L263.1,390.29 L263.6,390.27 L264.1,390.43 L264.6,390.19 L265.1,390.43 L265.6,390.88 L266.1,391.01 L266.6,391.64 L267.1,391.74 L267.6,391.61 L268.1,392.4 L268.6,392 L269.1,392.91 L269.6,392.21 L270.1,393.15 L270.6,393.21 L271.1,393.36 L271.6,393.25 L272.1,393.79 L272.6,394.03 L273.1,394.36 L273.6,394.31 L274.1,394.94 L274.6,394.67 L275.1,395.03 L275.6,395.08 L276.1,396.13 L276.6,396.26 L277.1,396.25 L277.6,396.18 L278.1,396.87 L278.6,397.15 L279.1,397.34 L279.6,397.67 L280.1,398.14 L280.6,398.32 L281.1,398.34 L281.6,398.66 L282.1,399.22 L282.6,399.37 L283.1,399.36 L283.6,399.78 L284.1,399.76 L284.6,399.86 L285.1,399.97 L285.6,400.08 L286.1,400.16 L286.6,400.21 L287.1,400.28 L287.6,400.32 L288.1,400.5" fill="none" stroke="#8a4a9e" stroke-width="0.55" stroke-linejoin="round"/>
<line x1="128.6" y1="419.5" x2="292.2" y2="419.5" stroke="#96b884" stroke-width="0.7" opacity="0.45"/>
<polygon points="128.6,419.5 128.6,419.5 129.1,419.5 129.6,419.5 130.1,419.5 130.6,419.5 131.1,419.5 131.6,419.5 132.1,419.5 132.6,419.5 133.1,419.5 133.6,419.5 134.1,419.5 134.6,419.5 135.1,419.5 135.6,419.5 136.1,419.5 136.6,419.5 137.1,419.5 137.6,419.5 138.1,419.5 138.6,419.5 139.1,419.5 139.6,419.5 140.1,419.5 140.6,419.5 141.1,419.5 141.6,419.5 142.1,419.5 142.6,419.5 143.1,419.5 143.6,419.5 144.1,419.5 144.6,419.5 145.1,419.5 145.6,419.5 146.1,419.5 146.6,419.5 147.1,419.5 147.6,419.5 148.1,419.5 148.6,419.5 149.1,419.5 149.6,419.5 150.1,419.5 150.6,419.5 151.1,419.5 151.6,419.5 152.1,419.5 152.6,419.5 153.1,419.5 153.6,419.5 154.1,419.5 154.6,419.5 155.1,419.5 155.6,419.5 156.1,419.5 156.6,419.5 157.1,419.5 157.6,419.5 158.1,419.5 158.6,419.5 159.1,419.5 159.6,419.5 160.1,419.5 160.6,419.5 161.1,419.5 161.6,419.5 162.1,419.5 162.6,419.5 163.1,419.5 163.6,419.5 164.1,419.5 164.6,419.5 165.1,419.5 165.6,419.5 166.1,419.5 166.6,419.5 167.1,419.5 167.6,419.5 168.1,419.5 168.6,419.5 169.1,419.5 169.6,419.5 170.1,419.5 170.6,419.5 171.1,419.5 171.6,419.5 172.1,419.5 172.6,419.5 173.1,419.5 173.6,419.5 174.1,419.5 174.6,419.5 175.1,419.5 175.6,419.5 176.1,419.5 176.6,419.5 177.1,419.5 177.6,419.5 178.1,419.5 178.6,419.5 179.1,419.5 179.6,419.5 180.1,419.5 180.6,419.5 181.1,419.5 181.6,419.5 182.1,419.5 182.6,419.5 183.1,419.5 183.6,419.5 184.1,419.5 184.6,419.5 185.1,419.5 185.6,419.5 186.1,419.5 186.6,419.31 187.1,419.27 187.6,419.23 188.1,419.2 188.6,419.14 189.1,419.05 189.6,419 190.1,418.92 190.6,418.82 191.1,418.73 191.6,418.62 192.1,418.24 192.6,418.34 193.1,418.13 193.6,417.65 194.1,417.73 194.6,417.49 195.1,417.53 195.6,417.08 196.1,416.41 196.6,416.22 197.1,415.67 197.6,414.95 198.1,414.52 198.6,414.12 199.1,413.06 199.6,412.04 200.1,412.2 200.6,411.18 201.1,410.61 201.6,410.6 202.1,411.02 202.6,409.64 203.1,410.69 203.6,410.39 204.1,410.08 204.6,410.65 205.1,410.84 205.6,411.57 206.1,411.99 206.6,411.98 207.1,413.13 207.6,413.45 208.1,413.93 208.6,414.31 209.1,414.37 209.6,415.04 210.1,415.32 210.6,415.24 211.1,416.04 211.6,415.44 212.1,416.25 212.6,416.61 213.1,416.86 213.6,416.83 214.1,417.45 214.6,417.06 215.1,417.58 215.6,417.56 216.1,417.55 216.6,417.73 217.1,417.83 217.6,418.08 218.1,418.1 218.6,418.22 219.1,418.2 219.6,418.19 220.1,418.35 220.6,418.05 221.1,418.33 221.6,418 222.1,418.19 222.6,418.12 223.1,418 223.6,418.14 224.1,417.92 224.6,417.89 225.1,418 225.6,417.22 226.1,418.09 226.6,418.03 227.1,417.49 227.6,417.87 228.1,417.9 228.6,417.84 229.1,417.69 229.6,417.7 230.1,417.42 230.6,417.55 231.1,417.24 231.6,417.22 232.1,417.07 232.6,417.27 233.1,417.31 233.6,417.41 234.1,417.17 234.6,416.69 235.1,416.62 235.6,416.86 236.1,416.56 236.6,416.39 237.1,416.13 237.6,416.06 238.1,416.1 238.6,416 239.1,415.67 239.6,415.57 240.1,415.19 240.6,414.96 241.1,414.78 241.6,414.61 242.1,414.28 242.6,413.73 243.1,413.5 243.6,412.93 244.1,412.74 244.6,412.39 245.1,411.94 245.6,411.16 246.1,410.62 246.6,410.46 247.1,410.04 247.6,409 248.1,409.06 248.6,407.79 249.1,407.32 249.6,406.72 250.1,406.34 250.6,406.02 251.1,405.04 251.6,405 252.1,404.37 252.6,404.99 253.1,403.44 253.6,404.24 254.1,403.44 254.6,403.96 255.1,403.84 255.6,404.03 256.1,404.42 256.6,403.81 257.1,404.96 257.6,405.47 258.1,404.63 258.6,405.35 259.1,405.98 259.6,406.58 260.1,407.72 260.6,407.79 261.1,408.59 261.6,408.67 262.1,409.22 262.6,410.11 263.1,410.86 263.6,411.2 264.1,411.67 264.6,412.09 265.1,412.6 265.6,413.43 266.1,414.09 266.6,414.25 267.1,414.6 267.6,414.9 268.1,415.58 268.6,416.18 269.1,416.28 269.6,416.92 270.1,417.3 270.6,417.7 271.1,418.43 271.6,417.96 272.1,418.42 272.6,418.38 273.1,418.74 273.6,418.84 274.1,418.98 274.6,419.07 275.1,419.18 275.6,419.24 276.1,419.3 276.6,419.35 277.1,419.5 277.6,419.5 278.1,419.5 278.6,419.5 279.1,419.5 279.6,419.5 280.1,419.5 280.6,419.5 281.1,419.5 281.6,419.5 282.1,419.5 282.6,419.5 283.1,419.5 283.6,419.5 284.1,419.5 284.6,419.5 285.1,419.5 285.6,419.5 286.1,419.5 286.6,419.5 287.1,419.5 287.6,419.5 288.1,419.5 288.6,419.5 289.1,419.5 289.6,419.5 290.1,419.5 290.6,419.5 291.1,419.5 291.6,419.5 292.1,419.5 292.1,419.5" fill="#96b884"/>
<path d="M186.1,419.5 L186.6,419.31 L187.1,419.27 L187.6,419.23 L188.1,419.2 L188.6,419.14 L189.1,419.05 L189.6,419 L190.1,418.92 L190.6,418.82 L191.1,418.73 L191.6,418.62 L192.1,418.24 L192.6,418.34 L193.1,418.13 L193.6,417.65 L194.1,417.73 L194.6,417.49 L195.1,417.53 L195.6,417.08 L196.1,416.41 L196.6,416.22 L197.1,415.67 L197.6,414.95 L198.1,414.52 L198.6,414.12 L199.1,413.06 L199.6,412.04 L200.1,412.2 L200.6,411.18 L201.1,410.61 L201.6,410.6 L202.1,411.02 L202.6,409.64 L203.1,410.69 L203.6,410.39 L204.1,410.08 L204.6,410.65 L205.1,410.84 L205.6,411.57 L206.1,411.99 L206.6,411.98 L207.1,413.13 L207.6,413.45 L208.1,413.93 L208.6,414.31 L209.1,414.37 L209.6,415.04 L210.1,415.32 L210.6,415.24 L211.1,416.04 L211.6,415.44 L212.1,416.25 L212.6,416.61 L213.1,416.86 L213.6,416.83 L214.1,417.45 L214.6,417.06 L215.1,417.58 L215.6,417.56 L216.1,417.55 L216.6,417.73 L217.1,417.83 L217.6,418.08 L218.1,418.1 L218.6,418.22 L219.1,418.2 L219.6,418.19 L220.1,418.35 L220.6,418.05 L221.1,418.33 L221.6,418 L222.1,418.19 L222.6,418.12 L223.1,418 L223.6,418.14 L224.1,417.92 L224.6,417.89 L225.1,418 L225.6,417.22 L226.1,418.09 L226.6,418.03 L227.1,417.49 L227.6,417.87 L228.1,417.9 L228.6,417.84 L229.1,417.69 L229.6,417.7 L230.1,417.42 L230.6,417.55 L231.1,417.24 L231.6,417.22 L232.1,417.07 L232.6,417.27 L233.1,417.31 L233.6,417.41 L234.1,417.17 L234.6,416.69 L235.1,416.62 L235.6,416.86 L236.1,416.56 L236.6,416.39 L237.1,416.13 L237.6,416.06 L238.1,416.1 L238.6,416 L239.1,415.67 L239.6,415.57 L240.1,415.19 L240.6,414.96 L241.1,414.78 L241.6,414.61 L242.1,414.28 L242.6,413.73 L243.1,413.5 L243.6,412.93 L244.1,412.74 L244.6,412.39 L245.1,411.94 L245.6,411.16 L246.1,410.62 L246.6,410.46 L247.1,410.04 L247.6,409 L248.1,409.06 L248.6,407.79 L249.1,407.32 L249.6,406.72 L250.1,406.34 L250.6,406.02 L251.1,405.04 L251.6,405 L252.1,404.37 L252.6,404.99 L253.1,403.44 L253.6,404.24 L254.1,403.44 L254.6,403.96 L255.1,403.84 L255.6,404.03 L256.1,404.42 L256.6,403.81 L257.1,404.96 L257.6,405.47 L258.1,404.63 L258.6,405.35 L259.1,405.98 L259.6,406.58 L260.1,407.72 L260.6,407.79 L261.1,408.59 L261.6,408.67 L262.1,409.22 L262.6,410.11 L263.1,410.86 L263.6,411.2 L264.1,411.67 L264.6,412.09 L265.1,412.6 L265.6,413.43 L266.1,414.09 L266.6,414.25 L267.1,414.6 L267.6,414.9 L268.1,415.58 L268.6,416.18 L269.1,416.28 L269.6,416.92 L270.1,417.3 L270.6,417.7 L271.1,418.43 L271.6,417.96 L272.1,418.42 L272.6,418.38 L273.1,418.74 L273.6,418.84 L274.1,418.98 L274.6,419.07 L275.1,419.18 L275.6,419.24 L276.1,419.3 L276.6,419.35 L277.1,419.5" fill="none" stroke="#4f7f42" stroke-width="0.55" stroke-linejoin="round"/>
<polygon points="128.6,438.7 128.6,438.7 129.1,438.7 129.6,438.7 130.1,438.7 130.6,438.7 131.1,438.7 131.6,438.7 132.1,438.7 132.6,438.7 133.1,438.7 133.6,438.7 134.1,438.7 134.6,438.7 135.1,438.7 135.6,438.7 136.1,438.7 136.6,438.7 137.1,438.7 137.6,438.7 138.1,438.7 138.6,438.7 139.1,438.7 139.6,438.7 140.1,438.7 140.6,438.7 141.1,438.7 141.6,438.7 142.1,438.7 142.6,438.7 143.1,438.7 143.6,438.7 144.1,438.7 144.6,438.7 145.1,438.7 145.6,438.7 146.1,438.7 146.6,438.7 147.1,438.7 147.6,438.7 148.1,438.7 148.6,438.7 149.1,438.7 149.6,438.7 150.1,438.7 150.6,438.7 151.1,438.7 151.6,438.7 152.1,438.7 152.6,438.7 153.1,438.7 153.6,438.7 154.1,438.7 154.6,438.7 155.1,438.7 155.6,438.7 156.1,438.7 156.6,438.7 157.1,438.7 157.6,438.7 158.1,438.7 158.6,438.7 159.1,438.7 159.6,438.7 160.1,438.7 160.6,438.7 161.1,438.7 161.6,438.7 162.1,438.7 162.6,438.7 163.1,438.7 163.6,438.7 164.1,438.7 164.6,438.7 165.1,438.7 165.6,438.7 166.1,438.7 166.6,438.7 167.1,438.7 167.6,438.7 168.1,438.7 168.6,438.7 169.1,438.7 169.6,438.7 170.1,438.7 170.6,438.7 171.1,438.7 171.6,438.7 172.1,438.7 172.6,438.7 173.1,438.7 173.6,438.7 174.1,438.7 174.6,438.7 175.1,438.7 175.6,438.7 176.1,438.7 176.6,438.7 177.1,438.7 177.6,438.7 178.1,438.7 178.6,438.7 179.1,438.7 179.6,438.7 180.1,438.7 180.6,438.7 181.1,438.7 181.6,438.55 182.1,438.49 182.6,438.39 183.1,438.29 183.6,438.13 184.1,437.96 184.6,437.31 185.1,437.45 185.6,436.84 186.1,436.51 186.6,435.61 187.1,435.19 187.6,434.09 188.1,433.55 188.6,432.62 189.1,431.72 189.6,430.41 190.1,428.87 190.6,427.52 191.1,427.01 191.6,425.46 192.1,423.4 192.6,423.47 193.1,422.19 193.6,421.62 194.1,422.06 194.6,421.19 195.1,421.26 195.6,422.4 196.1,420.51 196.6,422.97 197.1,423.52 197.6,424.09 198.1,425.07 198.6,426.54 199.1,427.44 199.6,428.52 200.1,429.5 200.6,431.17 201.1,432.24 201.6,433.01 202.1,434.11 202.6,434.72 203.1,435.41 203.6,436.31 204.1,436.82 204.6,437.05 205.1,437.24 205.6,437.74 206.1,437.89 206.6,438.11 207.1,438.25 207.6,438.37 208.1,438.47 208.6,438.53 209.1,438.7 209.6,438.7 210.1,438.7 210.6,438.7 211.1,438.7 211.6,438.7 212.1,438.7 212.6,438.7 213.1,438.7 213.6,438.7 214.1,438.7 214.6,438.7 215.1,438.7 215.6,438.7 216.1,438.7 216.6,438.7 217.1,438.7 217.6,438.7 218.1,438.7 218.6,438.7 219.1,438.7 219.6,438.7 220.1,438.7 220.6,438.7 221.1,438.7 221.6,438.7 222.1,438.7 222.6,438.7 223.1,438.7 223.6,438.7 224.1,438.7 224.6,438.7 225.1,438.7 225.6,438.7 226.1,438.7 226.6,438.7 227.1,438.7 227.6,438.7 228.1,438.7 228.6,438.7 229.1,438.7 229.6,438.7 230.1,438.7 230.6,438.7 231.1,438.7 231.6,438.7 232.1,438.7 232.6,438.7 233.1,438.7 233.6,438.7 234.1,438.7 234.6,438.7 235.1,438.7 235.6,438.7 236.1,438.7 236.6,438.7 237.1,438.7 237.6,438.7 238.1,438.7 238.6,438.7 239.1,438.7 239.6,438.7 240.1,438.7 240.6,438.7 241.1,438.7 241.6,438.7 242.1,438.7 242.6,438.7 243.1,438.7 243.6,438.7 244.1,438.7 244.6,438.7 245.1,438.7 245.6,438.7 246.1,438.7 246.6,438.7 247.1,438.7 247.6,438.7 248.1,438.7 248.6,438.7 249.1,438.7 249.6,438.7 250.1,438.7 250.6,438.7 251.1,438.7 251.6,438.7 252.1,438.7 252.6,438.7 253.1,438.7 253.6,438.7 254.1,438.7 254.6,438.7 255.1,438.7 255.6,438.7 256.1,438.7 256.6,438.7 257.1,438.7 257.6,438.7 258.1,438.7 258.6,438.7 259.1,438.7 259.6,438.7 260.1,438.7 260.6,438.7 261.1,438.7 261.6,438.7 262.1,438.7 262.6,438.7 263.1,438.7 263.6,438.7 264.1,438.7 264.6,438.7 265.1,438.7 265.6,438.7 266.1,438.7 266.6,438.7 267.1,438.7 267.6,438.7 268.1,438.7 268.6,438.7 269.1,438.7 269.6,438.7 270.1,438.7 270.6,438.7 271.1,438.7 271.6,438.7 272.1,438.7 272.6,438.7 273.1,438.7 273.6,438.7 274.1,438.7 274.6,438.7 275.1,438.7 275.6,438.7 276.1,438.7 276.6,438.7 277.1,438.7 277.6,438.7 278.1,438.7 278.6,438.7 279.1,438.7 279.6,438.7 280.1,438.7 280.6,438.7 281.1,438.7 281.6,438.7 282.1,438.7 282.6,438.7 283.1,438.7 283.6,438.7 284.1,438.7 284.6,438.7 285.1,438.7 285.6,438.7 286.1,438.7 286.6,438.7 287.1,438.7 287.6,438.7 288.1,438.7 288.6,438.7 289.1,438.7 289.6,438.7 290.1,438.7 290.6,438.7 291.1,438.7 291.6,438.7 292.1,438.7 292.1,438.7" fill="#b9dc83"/>
<path d="M181.1,438.7 L181.6,438.55 L182.1,438.49 L182.6,438.39 L183.1,438.29 L183.6,438.13 L184.1,437.96 L184.6,437.31 L185.1,437.45 L185.6,436.84 L186.1,436.51 L186.6,435.61 L187.1,435.19 L187.6,434.09 L188.1,433.55 L188.6,432.62 L189.1,431.72 L189.6,430.41 L190.1,428.87 L190.6,427.52 L191.1,427.01 L191.6,425.46 L192.1,423.4 L192.6,423.47 L193.1,422.19 L193.6,421.62 L194.1,422.06 L194.6,421.19 L195.1,421.26 L195.6,422.4 L196.1,420.51 L196.6,422.97 L197.1,423.52 L197.6,424.09 L198.1,425.07 L198.6,426.54 L199.1,427.44 L199.6,428.52 L200.1,429.5 L200.6,431.17 L201.1,432.24 L201.6,433.01 L202.1,434.11 L202.6,434.72 L203.1,435.41 L203.6,436.31 L204.1,436.82 L204.6,437.05 L205.1,437.24 L205.6,437.74 L206.1,437.89 L206.6,438.11 L207.1,438.25 L207.6,438.37 L208.1,438.47 L208.6,438.53 L209.1,438.7" fill="none" stroke="#8cc152" stroke-width="0.55" stroke-linejoin="round"/>
<rect x="128.6" y="300.0" width="163.6" height="138.7" fill="none" stroke="#3a3a3a" stroke-width="1"/>
<path d="M128.9,438.7V442.2 M137.01,438.7V440.7 M141.76,438.7V440.7 M145.13,438.7V440.7 M147.74,438.7V440.7 M149.87,438.7V440.7 M151.68,438.7V440.7 M153.24,438.7V440.7 M154.62,438.7V440.7 M155.85,438.7V442.2 M163.96,438.7V440.7 M168.71,438.7V440.7 M172.08,438.7V440.7 M174.69,438.7V440.7 M176.82,438.7V440.7 M178.63,438.7V440.7 M180.19,438.7V440.7 M181.57,438.7V440.7 M182.8,438.7V442.2 M190.91,438.7V440.7 M195.66,438.7V440.7 M199.03,438.7V440.7 M201.64,438.7V440.7 M203.77,438.7V440.7 M205.58,438.7V440.7 M207.14,438.7V440.7 M208.52,438.7V440.7 M209.75,438.7V442.2 M217.86,438.7V440.7 M222.61,438.7V440.7 M225.98,438.7V440.7 M228.59,438.7V440.7 M230.72,438.7V440.7 M232.53,438.7V440.7 M234.09,438.7V440.7 M235.47,438.7V440.7 M236.7,438.7V442.2 M244.81,438.7V440.7 M249.56,438.7V440.7 M252.93,438.7V440.7 M255.54,438.7V440.7 M257.67,438.7V440.7 M259.48,438.7V440.7 M261.04,438.7V440.7 M262.42,438.7V440.7 M263.65,438.7V442.2 M271.76,438.7V440.7 M276.51,438.7V440.7 M279.88,438.7V440.7 M282.49,438.7V440.7 M284.62,438.7V440.7 M286.43,438.7V440.7 M287.99,438.7V440.7 M289.37,438.7V440.7 M290.6,438.7V442.2 " stroke="#111" stroke-width="0.75" fill="none"/>
<path d="M128.6,300.0V438.7H292.2" stroke="#111" stroke-width="1.3" fill="none"/>
<text x="129.9" y="450.4" font-size="6.4" text-anchor="middle" fill="#231f20">10<tspan dy="-2.7" font-size="4.74">0</tspan></text>
<text x="156.85" y="450.4" font-size="6.4" text-anchor="middle" fill="#231f20">10<tspan dy="-2.7" font-size="4.74">1</tspan></text>
<text x="183.8" y="450.4" font-size="6.4" text-anchor="middle" fill="#231f20">10<tspan dy="-2.7" font-size="4.74">2</tspan></text>
<text x="210.75" y="450.4" font-size="6.4" text-anchor="middle" fill="#231f20">10<tspan dy="-2.7" font-size="4.74">3</tspan></text>
<text x="237.7" y="450.4" font-size="6.4" text-anchor="middle" fill="#231f20">10<tspan dy="-2.7" font-size="4.74">4</tspan></text>
<text x="264.65" y="450.4" font-size="6.4" text-anchor="middle" fill="#231f20">10<tspan dy="-2.7" font-size="4.74">5</tspan></text>
<text x="291.6" y="450.4" font-size="6.4" text-anchor="middle" fill="#231f20">10<tspan dy="-2.7" font-size="4.74">6</tspan></text>
<text x="295.6" y="322.4" font-size="6.65" fill="#231f20">BCMA-41BBζ</text>
<text x="295.6" y="341.9" font-size="6.65" fill="#231f20">GPRC5D-41BBζ</text>
<text x="295.6" y="361.65" font-size="6.65" fill="#231f20">GPRC5D-CD28ζ</text>
<text x="295.6" y="381.65" font-size="6.65" fill="#231f20">BCMA-41BBζ[2A]GPRC5D-41BBζ</text>
<text x="295.6" y="401.15" font-size="6.65" fill="#231f20">BCMA-41BBζ[2A]GPRC5D-CD28ζ</text>
<text x="295.6" y="419.9" font-size="6.65" fill="#231f20">GPRC5D-BCMA-41BBζ</text>
<text x="295.6" y="439.4" font-size="6.65" fill="#231f20">FMO</text>
<path d="M130.5,454.3H161.5" stroke="#000" stroke-width="1.1" fill="none"/>
<path d="M160.5,451L167.2,454.3L160.5,457.6Z" fill="#000"/>
<text x="130" y="462.8" font-size="6.65" fill="#231f20">CAR spacer</text>
</g>
<g id="secD">
<text x="91.5" y="483.8" font-size="10.9" font-weight="bold" fill="#000">D</text>
<rect x="133.75" y="616.87" width="7.6" height="12.43" fill="#ed1c24"/>
<path d="M137.55,616.87V609.32M135.35,609.32H139.75" stroke="#1a1a1a" stroke-width="0.95" fill="none"/>
<rect x="142.45" y="619.1" width="7.6" height="10.2" fill="#1f9ad7"/>
<path d="M146.25,619.1V611.14M144.05,611.14H148.45" stroke="#1a1a1a" stroke-width="0.95" fill="none"/>
<rect x="151.15" y="621.62" width="7.6" height="7.68" fill="#0f8140"/>
<path d="M154.95,621.62V617.43M152.75,617.43H157.15" stroke="#1a1a1a" stroke-width="0.95" fill="none"/>
<rect x="164.25" y="523.83" width="7.6" height="105.47" fill="#ed1c24"/>
<path d="M168.05,523.83V516.84M165.85,516.84H170.25" stroke="#1a1a1a" stroke-width="0.95" fill="none"/>
<rect x="172.95" y="609.04" width="7.6" height="20.26" fill="#1f9ad7"/>
<path d="M176.75,609.04V602.34M174.55,602.34H178.95" stroke="#1a1a1a" stroke-width="0.95" fill="none"/>
<rect x="181.65" y="497.56" width="7.6" height="131.74" fill="#0f8140"/>
<path d="M185.45,497.56V495.47M183.25,495.47H187.65" stroke="#1a1a1a" stroke-width="0.95" fill="none"/>
<rect x="194.5" y="624.83" width="7.6" height="4.47" fill="#ed1c24"/>
<path d="M198.3,624.83V617.43M196.1,617.43H200.5" stroke="#1a1a1a" stroke-width="0.95" fill="none"/>
<rect x="203.2" y="510" width="7.6" height="119.3" fill="#1f9ad7"/>
<path d="M207,510V509.16M204.8,509.16H209.2" stroke="#1a1a1a" stroke-width="0.95" fill="none"/>
<rect x="211.3" y="504.97" width="7.6" height="124.33" fill="#0f8140"/>
<path d="M215.1,504.97V502.17M212.9,502.17H217.3" stroke="#1a1a1a" stroke-width="0.95" fill="none"/>
<rect x="225" y="611.84" width="7.6" height="17.46" fill="#ed1c24"/>
<path d="M228.8,611.84V591.16M226.6,591.16H231" stroke="#1a1a1a" stroke-width="0.95" fill="none"/>
<rect x="233.7" y="513.63" width="7.6" height="115.67" fill="#1f9ad7"/>
<path d="M237.5,513.63V512.79M235.3,512.79H239.7" stroke="#1a1a1a" stroke-width="0.95" fill="none"/>
<rect x="242.4" y="508.04" width="7.6" height="121.26" fill="#0f8140"/>
<path d="M246.2,508.04V504.27M244,504.27H248.4" stroke="#1a1a1a" stroke-width="0.95" fill="none"/>
<rect x="255" y="495.47" width="7.6" height="133.83" fill="#ed1c24"/>
<path d="M258.8,495.47V493.79M256.6,493.79H261" stroke="#1a1a1a" stroke-width="0.95" fill="none"/>
<rect x="263.7" y="517.82" width="7.6" height="111.48" fill="#1f9ad7"/>
<path d="M267.5,517.82V514.33M265.3,514.33H269.7" stroke="#1a1a1a" stroke-width="0.95" fill="none"/>
<rect x="272.4" y="496.72" width="7.6" height="132.58" fill="#0f8140"/>
<path d="M276.2,496.72V493.79M274,493.79H278.4" stroke="#1a1a1a" stroke-width="0.95" fill="none"/>
<rect x="285" y="499.24" width="7.6" height="130.06" fill="#ed1c24"/>
<path d="M288.8,499.24V498.68M286.6,498.68H291" stroke="#1a1a1a" stroke-width="0.95" fill="none"/>
<rect x="293.7" y="535.7" width="7.6" height="93.6" fill="#1f9ad7"/>
<path d="M297.5,535.7V517.54M295.3,517.54H299.7" stroke="#1a1a1a" stroke-width="0.95" fill="none"/>
<rect x="302.4" y="495.75" width="7.6" height="133.55" fill="#0f8140"/>
<path d="M306.2,495.75V495.19M304,495.19H308.4" stroke="#1a1a1a" stroke-width="0.95" fill="none"/>
<rect x="315.5" y="521.17" width="7.6" height="108.13" fill="#ed1c24"/>
<path d="M319.3,521.17V516.84M317.1,516.84H321.5" stroke="#1a1a1a" stroke-width="0.95" fill="none"/>
<rect x="324.2" y="539.89" width="7.6" height="89.41" fill="#1f9ad7"/>
<path d="M328,539.89V532.35M325.8,532.35H330.2" stroke="#1a1a1a" stroke-width="0.95" fill="none"/>
<rect x="332.9" y="522.43" width="7.6" height="106.87" fill="#0f8140"/>
<path d="M336.7,522.43V515.72M334.5,515.72H338.9" stroke="#1a1a1a" stroke-width="0.95" fill="none"/>
<path d="M128.85,489.2V629.3H345.5" stroke="#444" stroke-width="1.2" fill="none"/>
<text x="122.25" y="631.7" font-size="7.3" text-anchor="end" fill="#231f20">0</text>
<text x="122.25" y="561.85" font-size="7.3" text-anchor="end" fill="#231f20">50</text>
<text x="122.25" y="492" font-size="7.3" text-anchor="end" fill="#231f20">100</text>
<path d="M124.55,629.3H128.85 M124.55,559.45H128.85 M124.55,489.6H128.85 M146.25,629.3V632.9 M176.55,629.3V632.9 M206.85,629.3V632.9 M237.15,629.3V632.9 M267.45,629.3V632.9 M297.75,629.3V632.9 M328.05,629.3V632.9 " stroke="#444" stroke-width="1" fill="none"/>
<text transform="translate(103.0,581.5) rotate(-90)" font-size="7.7" fill="#231f20">% Cytotoxicy</text>
<text transform="translate(144.75,638.7) rotate(45)" font-size="7.5" fill="#231f20">BCMA–Δ</text>
<text transform="translate(175.05,638.7) rotate(45)" font-size="7.5" fill="#231f20">BCMA–41BBζ</text>
<text transform="translate(205.35,638.7) rotate(45)" font-size="7.5" fill="#231f20">GPRC5D-41BBζ</text>
<text transform="translate(235.65,638.7) rotate(45)" font-size="7.5" fill="#231f20">GPRC5D-CD28ζ</text>
<text transform="translate(265.95,638.7) rotate(45)" font-size="7.5" fill="#231f20">BCMA–41BBζ[2A]GPRC5D-41BBζ</text>
<text transform="translate(296.25,638.7) rotate(45)" font-size="7.5" fill="#231f20">BCMA–41BBζ[2A]GPRC5D-CD28ζ</text>
<text transform="translate(326.55,638.7) rotate(45)" font-size="7.5" fill="#231f20">GPRC5D-BCMA-41BBζ</text>
<rect x="351.2" y="523.7" width="12.6" height="4.7" fill="#ed1c24"/>
<text x="365.7" y="528.7" font-size="7.6" fill="#231f20">BCMA<tspan dy="-2.8" font-size="4.8">+</tspan><tspan dy="2.8">/GPRC5D</tspan><tspan dy="-2.8" font-size="4.8">−</tspan></text>
<rect x="351.2" y="536.2" width="12.6" height="4.7" fill="#1f9ad7"/>
<text x="365.7" y="541.2" font-size="7.6" fill="#231f20">BCMA<tspan dy="-2.8" font-size="4.8">−</tspan><tspan dy="2.8">/GPRC5D</tspan><tspan dy="-2.8" font-size="4.8">+</tspan></text>
<rect x="351.2" y="547.6" width="12.6" height="4.7" fill="#0f8140"/>
<text x="365.7" y="552.6" font-size="7.6" fill="#231f20">BCMA<tspan dy="-2.8" font-size="4.8">+</tspan><tspan dy="2.8">/GPRC5D</tspan><tspan dy="-2.8" font-size="4.8">+</tspan></text>
</g>
</svg>
</body></html>
